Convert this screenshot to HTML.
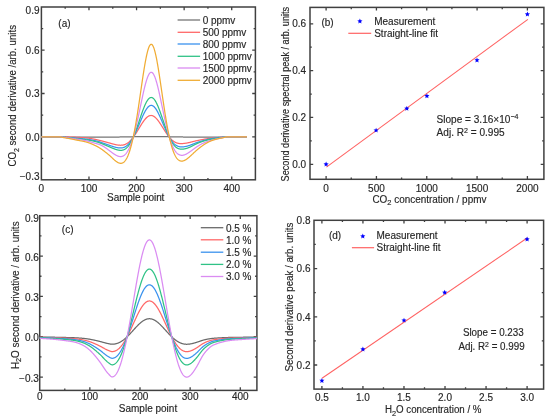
<!DOCTYPE html><html><head><meta charset="utf-8"><style>html,body{margin:0;padding:0;background:#fff;width:550px;height:420px;overflow:hidden}svg{display:block;will-change:transform}</style></head><body><svg width="550" height="420" viewBox="0 0 550 420">
<rect width="550" height="420" fill="#ffffff"/>
<g font-family='"Liberation Sans", sans-serif' fill="#262626" stroke="#262626" stroke-width="0.15">
<rect x="41.4" y="7.0" width="214.00" height="172.80" fill="none" stroke="#404040" stroke-width="1.5"/>
<path d="M88.98,179.8v-3.2M88.98,7.0v3.2M136.56,179.8v-3.2M136.56,7.0v3.2M184.14,179.8v-3.2M184.14,7.0v3.2M231.72,179.8v-3.2M231.72,7.0v3.2M65.19,179.8v-1.8M65.19,7.0v1.8M112.77,179.8v-1.8M112.77,7.0v1.8M160.35,179.8v-1.8M160.35,7.0v1.8M207.93,179.8v-1.8M207.93,7.0v1.8M41.4,136.80h3.2M255.4,136.80h-3.2M41.4,93.51h3.2M255.4,93.51h-3.2M41.4,50.22h3.2M255.4,50.22h-3.2M41.4,158.45h1.8M255.4,158.45h-1.8M41.4,115.16h1.8M255.4,115.16h-1.8M41.4,71.87h1.8M255.4,71.87h-1.8M41.4,28.58h1.8M255.4,28.58h-1.8" stroke="#404040" stroke-width="1.3" fill="none"/>
<text x="41.40" y="191.80" font-size="10" text-anchor="middle" >0</text>
<text x="88.98" y="191.80" font-size="10" text-anchor="middle" >100</text>
<text x="136.56" y="191.80" font-size="10" text-anchor="middle" >200</text>
<text x="184.14" y="191.80" font-size="10" text-anchor="middle" >300</text>
<text x="231.72" y="191.80" font-size="10" text-anchor="middle" >400</text>
<text x="39.50" y="13.60" font-size="10" text-anchor="end" >0.9</text>
<text x="39.50" y="53.90" font-size="10" text-anchor="end" >0.6</text>
<text x="39.50" y="97.20" font-size="10" text-anchor="end" >0.3</text>
<text x="39.50" y="140.60" font-size="10" text-anchor="end" >0.0</text>
<text x="39.50" y="179.80" font-size="10" text-anchor="end" >−0.3</text>
<text x="135.70" y="201.20" font-size="10" text-anchor="middle" letter-spacing="-0.1">Sample point</text>
<path d="M41.40,137.20 L41.64,137.20 L41.88,137.20 L42.11,137.20 L42.35,137.20 L42.59,137.20 L42.83,137.20 L43.07,137.20 L43.31,137.20 L43.54,137.20 L43.78,137.20 L44.02,137.20 L44.26,137.20 L44.50,137.20 L44.73,137.20 L44.97,137.20 L45.21,137.20 L45.45,137.20 L45.69,137.20 L45.93,137.20 L46.16,137.20 L46.40,137.20 L46.64,137.20 L46.88,137.20 L47.12,137.20 L47.35,137.20 L47.59,137.20 L47.83,137.20 L48.07,137.20 L48.31,137.20 L48.55,137.20 L48.78,137.20 L49.02,137.20 L49.26,137.20 L49.50,137.20 L49.74,137.20 L49.97,137.20 L50.21,137.20 L50.45,137.20 L50.69,137.20 L50.93,137.20 L51.17,137.20 L51.40,137.20 L51.64,137.20 L51.88,137.20 L52.12,137.20 L52.36,137.20 L52.59,137.20 L52.83,137.20 L53.07,137.20 L53.31,137.20 L53.55,137.20 L53.79,137.20 L54.02,137.20 L54.26,137.20 L54.50,137.20 L54.74,137.20 L54.98,137.20 L55.21,137.20 L55.45,137.20 L55.69,137.20 L55.93,137.20 L56.17,137.20 L56.41,137.20 L56.64,137.20 L56.88,137.20 L57.12,137.20 L57.36,137.20 L57.60,137.20 L57.83,137.20 L58.07,137.20 L58.31,137.20 L58.55,137.20 L58.79,137.20 L59.02,137.20 L59.26,137.20 L59.50,137.20 L59.74,137.20 L59.98,137.20 L60.22,137.20 L60.45,137.20 L60.69,137.20 L60.93,137.20 L61.17,137.20 L61.41,137.20 L61.64,137.20 L61.88,137.20 L62.12,137.20 L62.36,137.20 L62.60,137.20 L62.84,137.20 L63.07,137.20 L63.31,137.20 L63.55,137.20 L63.79,137.20 L64.03,137.20 L64.26,137.20 L64.50,137.20 L64.74,137.20 L64.98,137.20 L65.22,137.20 L65.46,137.20 L65.69,137.20 L65.93,137.20 L66.17,137.20 L66.41,137.20 L66.65,137.20 L66.88,137.20 L67.12,137.20 L67.36,137.20 L67.60,137.20 L67.84,137.20 L68.08,137.20 L68.31,137.20 L68.55,137.20 L68.79,137.20 L69.03,137.20 L69.27,137.20 L69.50,137.20 L69.74,137.20 L69.98,137.20 L70.22,137.20 L70.46,137.20 L70.70,137.20 L70.93,137.20 L71.17,137.20 L71.41,137.20 L71.65,137.20 L71.89,137.20 L72.12,137.20 L72.36,137.20 L72.60,137.20 L72.84,137.20 L73.08,137.20 L73.32,137.20 L73.55,137.20 L73.79,137.20 L74.03,137.20 L74.27,137.20 L74.51,137.20 L74.74,137.20 L74.98,137.20 L75.22,137.20 L75.46,137.20 L75.70,137.20 L75.94,137.20 L76.17,137.20 L76.41,137.20 L76.65,137.20 L76.89,137.20 L77.13,137.20 L77.36,137.20 L77.60,137.20 L77.84,137.20 L78.08,137.20 L78.32,137.20 L78.56,137.20 L78.79,137.20 L79.03,137.20 L79.27,137.20 L79.51,137.20 L79.75,137.20 L79.98,137.20 L80.22,137.20 L80.46,137.20 L80.70,137.20 L80.94,137.20 L81.18,137.20 L81.41,137.20 L81.65,137.20 L81.89,137.20 L82.13,137.20 L82.37,137.20 L82.60,137.20 L82.84,137.20 L83.08,137.20 L83.32,137.20 L83.56,137.20 L83.80,137.20 L84.03,137.20 L84.27,137.20 L84.51,137.20 L84.75,137.20 L84.99,137.20 L85.22,137.20 L85.46,137.20 L85.70,137.20 L85.94,137.20 L86.18,137.20 L86.42,137.20 L86.65,137.20 L86.89,137.20 L87.13,137.20 L87.37,137.20 L87.61,137.20 L87.84,137.20 L88.08,137.19 L88.32,137.19 L88.56,137.19 L88.80,137.19 L89.04,137.19 L89.27,137.19 L89.51,137.19 L89.75,137.19 L89.99,137.19 L90.23,137.19 L90.46,137.19 L90.70,137.19 L90.94,137.19 L91.18,137.19 L91.42,137.19 L91.66,137.19 L91.89,137.19 L92.13,137.19 L92.37,137.19 L92.61,137.19 L92.85,137.19 L93.08,137.19 L93.32,137.19 L93.56,137.19 L93.80,137.19 L94.04,137.19 L94.27,137.19 L94.51,137.19 L94.75,137.19 L94.99,137.19 L95.23,137.19 L95.47,137.18 L95.70,137.18 L95.94,137.18 L96.18,137.18 L96.42,137.18 L96.66,137.18 L96.89,137.18 L97.13,137.18 L97.37,137.18 L97.61,137.18 L97.85,137.18 L98.09,137.18 L98.32,137.18 L98.56,137.18 L98.80,137.18 L99.04,137.18 L99.28,137.17 L99.51,137.17 L99.75,137.17 L99.99,137.17 L100.23,137.17 L100.47,137.17 L100.71,137.17 L100.94,137.17 L101.18,137.17 L101.42,137.17 L101.66,137.17 L101.90,137.17 L102.13,137.16 L102.37,137.16 L102.61,137.16 L102.85,137.16 L103.09,137.16 L103.33,137.16 L103.56,137.16 L103.80,137.16 L104.04,137.15 L104.28,137.15 L104.52,137.15 L104.75,137.15 L104.99,137.15 L105.23,137.15 L105.47,137.15 L105.71,137.15 L105.95,137.14 L106.18,137.14 L106.42,137.14 L106.66,137.14 L106.90,137.14 L107.14,137.14 L107.37,137.13 L107.61,137.13 L107.85,137.13 L108.09,137.13 L108.33,137.13 L108.57,137.13 L108.80,137.12 L109.04,137.12 L109.28,137.12 L109.52,137.12 L109.76,137.12 L109.99,137.11 L110.23,137.11 L110.47,137.11 L110.71,137.11 L110.95,137.11 L111.19,137.10 L111.42,137.10 L111.66,137.10 L111.90,137.10 L112.14,137.09 L112.38,137.09 L112.61,137.09 L112.85,137.09 L113.09,137.08 L113.33,137.08 L113.57,137.08 L113.81,137.08 L114.04,137.07 L114.28,137.07 L114.52,137.07 L114.76,137.06 L115.00,137.06 L115.23,137.06 L115.47,137.06 L115.71,137.05 L115.95,137.05 L116.19,137.05 L116.43,137.04 L116.66,137.04 L116.90,137.04 L117.14,137.03 L117.38,137.03 L117.62,137.03 L117.85,137.02 L118.09,137.02 L118.33,137.02 L118.57,137.01 L118.81,137.01 L119.05,137.00 L119.28,137.00 L119.52,137.00 L119.76,136.99 L120.00,136.99 L120.24,136.99 L120.47,136.98 L120.71,136.98 L120.95,136.97 L121.19,136.97 L121.43,136.97 L121.67,136.96 L121.90,136.96 L122.14,136.95 L122.38,136.95 L122.62,136.95 L122.86,136.94 L123.09,136.94 L123.33,136.93 L123.57,136.93 L123.81,136.92 L124.05,136.92 L124.29,136.91 L124.52,136.91 L124.76,136.91 L125.00,136.90 L125.24,136.90 L125.48,136.89 L125.71,136.89 L125.95,136.88 L126.19,136.88 L126.43,136.87 L126.67,136.87 L126.91,136.86 L127.14,136.86 L127.38,136.85 L127.62,136.85 L127.86,136.84 L128.10,136.84 L128.33,136.83 L128.57,136.83 L128.81,136.82 L129.05,136.82 L129.29,136.81 L129.52,136.81 L129.76,136.80 L130.00,136.80 L130.24,136.79 L130.48,136.79 L130.72,136.78 L130.95,136.78 L131.19,136.77 L131.43,136.77 L131.67,136.76 L131.91,136.76 L132.14,136.75 L132.38,136.75 L132.62,136.74 L132.86,136.74 L133.10,136.73 L133.34,136.73 L133.57,136.72 L133.81,136.72 L134.05,136.71 L134.29,136.71 L134.53,136.70 L134.76,136.70 L135.00,136.69 L135.24,136.69 L135.48,136.69 L135.72,136.68 L135.96,136.68 L136.19,136.67 L136.43,136.67 L136.67,136.66 L136.91,136.66 L137.15,136.65 L137.38,136.65 L137.62,136.64 L137.86,136.64 L138.10,136.63 L138.34,136.63 L138.58,136.63 L138.81,136.62 L139.05,136.62 L139.29,136.61 L139.53,136.61 L139.77,136.61 L140.00,136.60 L140.24,136.60 L140.48,136.59 L140.72,136.59 L140.96,136.59 L141.20,136.58 L141.43,136.58 L141.67,136.58 L141.91,136.57 L142.15,136.57 L142.39,136.57 L142.62,136.56 L142.86,136.56 L143.10,136.56 L143.34,136.55 L143.58,136.55 L143.82,136.55 L144.05,136.54 L144.29,136.54 L144.53,136.54 L144.77,136.54 L145.01,136.53 L145.24,136.53 L145.48,136.53 L145.72,136.53 L145.96,136.52 L146.20,136.52 L146.44,136.52 L146.67,136.52 L146.91,136.52 L147.15,136.51 L147.39,136.51 L147.63,136.51 L147.86,136.51 L148.10,136.51 L148.34,136.51 L148.58,136.51 L148.82,136.51 L149.06,136.50 L149.29,136.50 L149.53,136.50 L149.77,136.50 L150.01,136.50 L150.25,136.50 L150.48,136.50 L150.72,136.50 L150.96,136.50 L151.20,136.50 L151.44,136.50 L151.68,136.50 L151.91,136.50 L152.15,136.50 L152.39,136.50 L152.63,136.50 L152.87,136.50 L153.10,136.50 L153.34,136.50 L153.58,136.50 L153.82,136.51 L154.06,136.51 L154.30,136.51 L154.53,136.51 L154.77,136.51 L155.01,136.51 L155.25,136.51 L155.49,136.51 L155.72,136.52 L155.96,136.52 L156.20,136.52 L156.44,136.52 L156.68,136.52 L156.92,136.53 L157.15,136.53 L157.39,136.53 L157.63,136.53 L157.87,136.54 L158.11,136.54 L158.34,136.54 L158.58,136.54 L158.82,136.55 L159.06,136.55 L159.30,136.55 L159.54,136.56 L159.77,136.56 L160.01,136.56 L160.25,136.57 L160.49,136.57 L160.73,136.57 L160.96,136.58 L161.20,136.58 L161.44,136.58 L161.68,136.59 L161.92,136.59 L162.16,136.59 L162.39,136.60 L162.63,136.60 L162.87,136.61 L163.11,136.61 L163.35,136.61 L163.58,136.62 L163.82,136.62 L164.06,136.63 L164.30,136.63 L164.54,136.64 L164.77,136.64 L165.01,136.64 L165.25,136.65 L165.49,136.65 L165.73,136.66 L165.97,136.66 L166.20,136.67 L166.44,136.67 L166.68,136.68 L166.92,136.68 L167.16,136.69 L167.39,136.69 L167.63,136.70 L167.87,136.70 L168.11,136.70 L168.35,136.71 L168.59,136.71 L168.82,136.72 L169.06,136.72 L169.30,136.73 L169.54,136.73 L169.78,136.74 L170.01,136.74 L170.25,136.75 L170.49,136.75 L170.73,136.76 L170.97,136.76 L171.21,136.77 L171.44,136.77 L171.68,136.78 L171.92,136.78 L172.16,136.79 L172.40,136.79 L172.63,136.80 L172.87,136.80 L173.11,136.81 L173.35,136.81 L173.59,136.82 L173.83,136.82 L174.06,136.83 L174.30,136.83 L174.54,136.84 L174.78,136.84 L175.02,136.85 L175.25,136.85 L175.49,136.86 L175.73,136.86 L175.97,136.87 L176.21,136.87 L176.45,136.88 L176.68,136.88 L176.92,136.89 L177.16,136.89 L177.40,136.90 L177.64,136.90 L177.87,136.91 L178.11,136.91 L178.35,136.91 L178.59,136.92 L178.83,136.92 L179.07,136.93 L179.30,136.93 L179.54,136.94 L179.78,136.94 L180.02,136.95 L180.26,136.95 L180.49,136.95 L180.73,136.96 L180.97,136.96 L181.21,136.97 L181.45,136.97 L181.69,136.97 L181.92,136.98 L182.16,136.98 L182.40,136.99 L182.64,136.99 L182.88,136.99 L183.11,137.00 L183.35,137.00 L183.59,137.01 L183.83,137.01 L184.07,137.01 L184.31,137.02 L184.54,137.02 L184.78,137.02 L185.02,137.03 L185.26,137.03 L185.50,137.03 L185.73,137.04 L185.97,137.04 L186.21,137.04 L186.45,137.05 L186.69,137.05 L186.93,137.05 L187.16,137.06 L187.40,137.06 L187.64,137.06 L187.88,137.06 L188.12,137.07 L188.35,137.07 L188.59,137.07 L188.83,137.08 L189.07,137.08 L189.31,137.08 L189.55,137.08 L189.78,137.09 L190.02,137.09 L190.26,137.09 L190.50,137.09 L190.74,137.10 L190.97,137.10 L191.21,137.10 L191.45,137.10 L191.69,137.11 L191.93,137.11 L192.17,137.11 L192.40,137.11 L192.64,137.11 L192.88,137.12 L193.12,137.12 L193.36,137.12 L193.59,137.12 L193.83,137.12 L194.07,137.13 L194.31,137.13 L194.55,137.13 L194.79,137.13 L195.02,137.13 L195.26,137.13 L195.50,137.14 L195.74,137.14 L195.98,137.14 L196.21,137.14 L196.45,137.14 L196.69,137.14 L196.93,137.15 L197.17,137.15 L197.41,137.15 L197.64,137.15 L197.88,137.15 L198.12,137.15 L198.36,137.15 L198.60,137.15 L198.83,137.16 L199.07,137.16 L199.31,137.16 L199.55,137.16 L199.79,137.16 L200.02,137.16 L200.26,137.16 L200.50,137.16 L200.74,137.17 L200.98,137.17 L201.22,137.17 L201.45,137.17 L201.69,137.17 L201.93,137.17 L202.17,137.17 L202.41,137.17 L202.64,137.17 L202.88,137.17 L203.12,137.17 L203.36,137.17 L203.60,137.18 L203.84,137.18 L204.07,137.18 L204.31,137.18 L204.55,137.18 L204.79,137.18 L205.03,137.18 L205.26,137.18 L205.50,137.18 L205.74,137.18 L205.98,137.18 L206.22,137.18 L206.46,137.18 L206.69,137.18 L206.93,137.18 L207.17,137.18 L207.41,137.19 L207.65,137.19 L207.88,137.19 L208.12,137.19 L208.36,137.19 L208.60,137.19 L208.84,137.19 L209.08,137.19 L209.31,137.19 L209.55,137.19 L209.79,137.19 L210.03,137.19 L210.27,137.19 L210.50,137.19 L210.74,137.19 L210.98,137.19 L211.22,137.19 L211.46,137.19 L211.70,137.19 L211.93,137.19 L212.17,137.19 L212.41,137.19 L212.65,137.19 L212.89,137.19 L213.12,137.19 L213.36,137.19 L213.60,137.19 L213.84,137.19 L214.08,137.19 L214.32,137.19 L214.55,137.19 L214.79,137.20 L215.03,137.20 L215.27,137.20 L215.51,137.20 L215.74,137.20 L215.98,137.20 L216.22,137.20 L216.46,137.20 L216.70,137.20 L216.94,137.20 L217.17,137.20 L217.41,137.20 L217.65,137.20 L217.89,137.20 L218.13,137.20 L218.36,137.20 L218.60,137.20 L218.84,137.20 L219.08,137.20 L219.32,137.20 L219.56,137.20 L219.79,137.20 L220.03,137.20 L220.27,137.20 L220.51,137.20 L220.75,137.20 L220.98,137.20 L221.22,137.20 L221.46,137.20 L221.70,137.20 L221.94,137.20 L222.18,137.20 L222.41,137.20 L222.65,137.20 L222.89,137.20 L223.13,137.20 L223.37,137.20 L223.60,137.20 L223.84,137.20 L224.08,137.20 L224.32,137.20 L224.56,137.20 L224.80,137.20 L225.03,137.20 L225.27,137.20 L225.51,137.20 L225.75,137.20 L225.99,137.20 L226.22,137.20 L226.46,137.20 L226.70,137.20 L226.94,137.20 L227.18,137.20 L227.42,137.20 L227.65,137.20 L227.89,137.20 L228.13,137.20 L228.37,137.20 L228.61,137.20 L228.84,137.20 L229.08,137.20 L229.32,137.20 L229.56,137.20 L229.80,137.20 L230.04,137.20 L230.27,137.20 L230.51,137.20 L230.75,137.20 L230.99,137.20 L231.23,137.20 L231.46,137.20 L231.70,137.20 L231.94,137.20 L232.18,137.20 L232.42,137.20 L232.66,137.20 L232.89,137.20 L233.13,137.20 L233.37,137.20 L233.61,137.20 L233.85,137.20 L234.08,137.20 L234.32,137.20 L234.56,137.20 L234.80,137.20 L235.04,137.20 L235.27,137.20 L235.51,137.20 L235.75,137.20 L235.99,137.20 L236.23,137.20 L236.47,137.20 L236.70,137.20 L236.94,137.20 L237.18,137.20 L237.42,137.20 L237.66,137.20 L237.89,137.20 L238.13,137.20 L238.37,137.20 L238.61,137.20 L238.85,137.20 L239.09,137.20 L239.32,137.20 L239.56,137.20 L239.80,137.20 L240.04,137.20 L240.28,137.20 L240.51,137.20 L240.75,137.20 L240.99,137.20 L241.23,137.20 L241.47,137.20 L241.71,137.20 L241.94,137.20 L242.18,137.20 L242.42,137.20 L242.66,137.20 L242.90,137.20 L243.13,137.20 L243.37,137.20 L243.61,137.20 L243.85,137.20 L244.09,137.20 L244.33,137.20 L244.56,137.20 L244.80,137.20 L245.04,137.20 L245.28,137.20 L245.52,137.20 L245.75,137.20 L245.99,137.20 L246.23,137.20 L246.47,137.20 L246.71,137.20 L246.95,137.20" fill="none" stroke="#767676" stroke-width="1.25" stroke-linejoin="round"/>
<path d="M41.40,136.80 L41.64,136.80 L41.88,136.80 L42.11,136.80 L42.35,136.80 L42.59,136.80 L42.83,136.80 L43.07,136.80 L43.31,136.80 L43.54,136.80 L43.78,136.80 L44.02,136.80 L44.26,136.80 L44.50,136.80 L44.73,136.80 L44.97,136.80 L45.21,136.80 L45.45,136.80 L45.69,136.80 L45.93,136.80 L46.16,136.80 L46.40,136.80 L46.64,136.80 L46.88,136.80 L47.12,136.80 L47.35,136.80 L47.59,136.80 L47.83,136.80 L48.07,136.80 L48.31,136.80 L48.55,136.80 L48.78,136.80 L49.02,136.80 L49.26,136.80 L49.50,136.80 L49.74,136.80 L49.97,136.80 L50.21,136.80 L50.45,136.80 L50.69,136.80 L50.93,136.80 L51.17,136.80 L51.40,136.80 L51.64,136.80 L51.88,136.80 L52.12,136.80 L52.36,136.80 L52.59,136.80 L52.83,136.80 L53.07,136.80 L53.31,136.80 L53.55,136.80 L53.79,136.80 L54.02,136.80 L54.26,136.80 L54.50,136.80 L54.74,136.80 L54.98,136.80 L55.21,136.80 L55.45,136.80 L55.69,136.80 L55.93,136.80 L56.17,136.80 L56.41,136.80 L56.64,136.80 L56.88,136.80 L57.12,136.80 L57.36,136.80 L57.60,136.80 L57.83,136.80 L58.07,136.80 L58.31,136.80 L58.55,136.80 L58.79,136.80 L59.02,136.80 L59.26,136.80 L59.50,136.80 L59.74,136.80 L59.98,136.80 L60.22,136.81 L60.45,136.81 L60.69,136.81 L60.93,136.81 L61.17,136.82 L61.41,136.82 L61.64,136.82 L61.88,136.83 L62.12,136.83 L62.36,136.83 L62.60,136.84 L62.84,136.84 L63.07,136.85 L63.31,136.85 L63.55,136.86 L63.79,136.86 L64.03,136.86 L64.26,136.87 L64.50,136.87 L64.74,136.88 L64.98,136.88 L65.22,136.89 L65.46,136.90 L65.69,136.90 L65.93,136.91 L66.17,136.91 L66.41,136.92 L66.65,136.92 L66.88,136.93 L67.12,136.94 L67.36,136.94 L67.60,136.95 L67.84,136.96 L68.08,136.96 L68.31,136.97 L68.55,136.98 L68.79,136.99 L69.03,136.99 L69.27,137.00 L69.50,137.01 L69.74,137.02 L69.98,137.02 L70.22,137.03 L70.46,137.04 L70.70,137.05 L70.93,137.06 L71.17,137.07 L71.41,137.07 L71.65,137.08 L71.89,137.09 L72.12,137.10 L72.36,137.11 L72.60,137.12 L72.84,137.13 L73.08,137.14 L73.32,137.15 L73.55,137.16 L73.79,137.17 L74.03,137.18 L74.27,137.19 L74.51,137.20 L74.74,137.21 L74.98,137.22 L75.22,137.23 L75.46,137.24 L75.70,137.25 L75.94,137.26 L76.17,137.27 L76.41,137.28 L76.65,137.30 L76.89,137.31 L77.13,137.32 L77.36,137.33 L77.60,137.34 L77.84,137.36 L78.08,137.37 L78.32,137.38 L78.56,137.39 L78.79,137.41 L79.03,137.42 L79.27,137.43 L79.51,137.45 L79.75,137.46 L79.98,137.47 L80.22,137.49 L80.46,137.50 L80.70,137.51 L80.94,137.53 L81.18,137.54 L81.41,137.56 L81.65,137.57 L81.89,137.59 L82.13,137.60 L82.37,137.62 L82.60,137.63 L82.84,137.65 L83.08,137.66 L83.32,137.68 L83.56,137.70 L83.80,137.71 L84.03,137.73 L84.27,137.75 L84.51,137.76 L84.75,137.78 L84.99,137.80 L85.22,137.82 L85.46,137.84 L85.70,137.86 L85.94,137.88 L86.18,137.90 L86.42,137.92 L86.65,137.95 L86.89,137.97 L87.13,138.00 L87.37,138.03 L87.61,138.06 L87.84,138.09 L88.08,138.12 L88.32,138.15 L88.56,138.18 L88.80,138.21 L89.04,138.25 L89.27,138.28 L89.51,138.31 L89.75,138.35 L89.99,138.39 L90.23,138.42 L90.46,138.46 L90.70,138.50 L90.94,138.54 L91.18,138.58 L91.42,138.62 L91.66,138.67 L91.89,138.71 L92.13,138.75 L92.37,138.79 L92.61,138.84 L92.85,138.88 L93.08,138.93 L93.32,138.98 L93.56,139.02 L93.80,139.07 L94.04,139.12 L94.27,139.17 L94.51,139.22 L94.75,139.27 L94.99,139.32 L95.23,139.37 L95.47,139.42 L95.70,139.47 L95.94,139.52 L96.18,139.58 L96.42,139.63 L96.66,139.68 L96.89,139.74 L97.13,139.79 L97.37,139.85 L97.61,139.90 L97.85,139.96 L98.09,140.02 L98.32,140.07 L98.56,140.13 L98.80,140.19 L99.04,140.25 L99.28,140.30 L99.51,140.36 L99.75,140.42 L99.99,140.48 L100.23,140.54 L100.47,140.60 L100.71,140.66 L100.94,140.72 L101.18,140.78 L101.42,140.84 L101.66,140.90 L101.90,140.96 L102.13,141.02 L102.37,141.09 L102.61,141.15 L102.85,141.21 L103.09,141.27 L103.33,141.33 L103.56,141.39 L103.80,141.46 L104.04,141.52 L104.28,141.58 L104.52,141.64 L104.75,141.71 L104.99,141.77 L105.23,141.83 L105.47,141.90 L105.71,141.96 L105.95,142.02 L106.18,142.09 L106.42,142.15 L106.66,142.22 L106.90,142.28 L107.14,142.35 L107.37,142.41 L107.61,142.48 L107.85,142.55 L108.09,142.61 L108.33,142.68 L108.57,142.74 L108.80,142.81 L109.04,142.88 L109.28,142.94 L109.52,143.01 L109.76,143.08 L109.99,143.15 L110.23,143.21 L110.47,143.28 L110.71,143.35 L110.95,143.41 L111.19,143.48 L111.42,143.55 L111.66,143.61 L111.90,143.68 L112.14,143.75 L112.38,143.81 L112.61,143.88 L112.85,143.94 L113.09,144.00 L113.33,144.07 L113.57,144.13 L113.81,144.19 L114.04,144.25 L114.28,144.31 L114.52,144.37 L114.76,144.43 L115.00,144.48 L115.23,144.54 L115.47,144.59 L115.71,144.65 L115.95,144.70 L116.19,144.75 L116.43,144.79 L116.66,144.84 L116.90,144.88 L117.14,144.93 L117.38,144.97 L117.62,145.00 L117.85,145.04 L118.09,145.07 L118.33,145.10 L118.57,145.13 L118.81,145.16 L119.05,145.18 L119.28,145.20 L119.52,145.22 L119.76,145.23 L120.00,145.24 L120.24,145.25 L120.47,145.25 L120.71,145.25 L120.95,145.24 L121.19,145.24 L121.43,145.22 L121.67,145.21 L121.90,145.19 L122.14,145.16 L122.38,145.13 L122.62,145.10 L122.86,145.06 L123.09,145.02 L123.33,144.97 L123.57,144.92 L123.81,144.86 L124.05,144.79 L124.29,144.72 L124.52,144.64 L124.76,144.56 L125.00,144.47 L125.24,144.37 L125.48,144.27 L125.71,144.16 L125.95,144.04 L126.19,143.92 L126.43,143.78 L126.67,143.65 L126.91,143.50 L127.14,143.35 L127.38,143.20 L127.62,143.03 L127.86,142.86 L128.10,142.68 L128.33,142.50 L128.57,142.31 L128.81,142.11 L129.05,141.90 L129.29,141.69 L129.52,141.47 L129.76,141.25 L130.00,141.01 L130.24,140.77 L130.48,140.53 L130.72,140.28 L130.95,140.02 L131.19,139.76 L131.43,139.49 L131.67,139.21 L131.91,138.93 L132.14,138.64 L132.38,138.35 L132.62,138.05 L132.86,137.74 L133.10,137.43 L133.34,137.12 L133.57,136.80 L133.81,136.47 L134.05,136.14 L134.29,135.81 L134.53,135.46 L134.76,135.12 L135.00,134.77 L135.24,134.41 L135.48,134.05 L135.72,133.69 L135.96,133.32 L136.19,132.95 L136.43,132.57 L136.67,132.19 L136.91,131.81 L137.15,131.43 L137.38,131.04 L137.62,130.65 L137.86,130.26 L138.10,129.87 L138.34,129.48 L138.58,129.08 L138.81,128.69 L139.05,128.29 L139.29,127.90 L139.53,127.50 L139.77,127.11 L140.00,126.72 L140.24,126.32 L140.48,125.93 L140.72,125.55 L140.96,125.16 L141.20,124.78 L141.43,124.40 L141.67,124.02 L141.91,123.65 L142.15,123.28 L142.39,122.92 L142.62,122.56 L142.86,122.21 L143.10,121.86 L143.34,121.52 L143.58,121.19 L143.82,120.86 L144.05,120.54 L144.29,120.22 L144.53,119.91 L144.77,119.62 L145.01,119.33 L145.24,119.04 L145.48,118.77 L145.72,118.51 L145.96,118.25 L146.20,118.01 L146.44,117.77 L146.67,117.55 L146.91,117.34 L147.15,117.13 L147.39,116.94 L147.63,116.76 L147.86,116.59 L148.10,116.43 L148.34,116.29 L148.58,116.15 L148.82,116.03 L149.06,115.92 L149.29,115.82 L149.53,115.74 L149.77,115.66 L150.01,115.60 L150.25,115.56 L150.48,115.52 L150.72,115.50 L150.96,115.49 L151.20,115.49 L151.44,115.50 L151.68,115.53 L151.91,115.57 L152.15,115.62 L152.39,115.69 L152.63,115.77 L152.87,115.86 L153.10,115.96 L153.34,116.07 L153.58,116.20 L153.82,116.34 L154.06,116.49 L154.30,116.65 L154.53,116.82 L154.77,117.01 L155.01,117.20 L155.25,117.41 L155.49,117.62 L155.72,117.85 L155.96,118.08 L156.20,118.33 L156.44,118.58 L156.68,118.84 L156.92,119.12 L157.15,119.40 L157.39,119.68 L157.63,119.98 L157.87,120.28 L158.11,120.59 L158.34,120.91 L158.58,121.23 L158.82,121.56 L159.06,121.90 L159.30,122.24 L159.54,122.59 L159.77,122.94 L160.01,123.29 L160.25,123.65 L160.49,124.01 L160.73,124.38 L160.96,124.75 L161.20,125.12 L161.44,125.49 L161.68,125.87 L161.92,126.24 L162.16,126.62 L162.39,127.00 L162.63,127.38 L162.87,127.76 L163.11,128.15 L163.35,128.53 L163.58,128.91 L163.82,129.28 L164.06,129.66 L164.30,130.04 L164.54,130.41 L164.77,130.79 L165.01,131.16 L165.25,131.52 L165.49,131.89 L165.73,132.25 L165.97,132.61 L166.20,132.97 L166.44,133.32 L166.68,133.66 L166.92,134.01 L167.16,134.35 L167.39,134.68 L167.63,135.01 L167.87,135.34 L168.11,135.66 L168.35,135.97 L168.59,136.28 L168.82,136.59 L169.06,136.89 L169.30,137.18 L169.54,137.47 L169.78,137.75 L170.01,138.02 L170.25,138.29 L170.49,138.55 L170.73,138.80 L170.97,139.05 L171.21,139.29 L171.44,139.52 L171.68,139.74 L171.92,139.96 L172.16,140.17 L172.40,140.38 L172.63,140.57 L172.87,140.76 L173.11,140.95 L173.35,141.12 L173.59,141.29 L173.83,141.45 L174.06,141.61 L174.30,141.76 L174.54,141.90 L174.78,142.04 L175.02,142.17 L175.25,142.29 L175.49,142.41 L175.73,142.52 L175.97,142.62 L176.21,142.72 L176.45,142.81 L176.68,142.90 L176.92,142.98 L177.16,143.06 L177.40,143.13 L177.64,143.19 L177.87,143.25 L178.11,143.30 L178.35,143.35 L178.59,143.40 L178.83,143.44 L179.07,143.47 L179.30,143.50 L179.54,143.53 L179.78,143.55 L180.02,143.57 L180.26,143.58 L180.49,143.59 L180.73,143.60 L180.97,143.60 L181.21,143.60 L181.45,143.60 L181.69,143.59 L181.92,143.59 L182.16,143.58 L182.40,143.57 L182.64,143.55 L182.88,143.54 L183.11,143.52 L183.35,143.50 L183.59,143.48 L183.83,143.46 L184.07,143.43 L184.31,143.41 L184.54,143.38 L184.78,143.35 L185.02,143.32 L185.26,143.28 L185.50,143.25 L185.73,143.21 L185.97,143.18 L186.21,143.14 L186.45,143.10 L186.69,143.06 L186.93,143.01 L187.16,142.97 L187.40,142.92 L187.64,142.88 L187.88,142.83 L188.12,142.78 L188.35,142.73 L188.59,142.68 L188.83,142.63 L189.07,142.58 L189.31,142.52 L189.55,142.47 L189.78,142.41 L190.02,142.35 L190.26,142.29 L190.50,142.23 L190.74,142.17 L190.97,142.11 L191.21,142.05 L191.45,141.99 L191.69,141.92 L191.93,141.86 L192.17,141.80 L192.40,141.73 L192.64,141.67 L192.88,141.61 L193.12,141.55 L193.36,141.49 L193.59,141.43 L193.83,141.37 L194.07,141.31 L194.31,141.25 L194.55,141.20 L194.79,141.14 L195.02,141.08 L195.26,141.03 L195.50,140.97 L195.74,140.92 L195.98,140.86 L196.21,140.81 L196.45,140.76 L196.69,140.70 L196.93,140.65 L197.17,140.60 L197.41,140.55 L197.64,140.50 L197.88,140.45 L198.12,140.40 L198.36,140.35 L198.60,140.30 L198.83,140.26 L199.07,140.21 L199.31,140.16 L199.55,140.12 L199.79,140.07 L200.02,140.02 L200.26,139.98 L200.50,139.93 L200.74,139.89 L200.98,139.84 L201.22,139.80 L201.45,139.76 L201.69,139.71 L201.93,139.67 L202.17,139.62 L202.41,139.58 L202.64,139.54 L202.88,139.49 L203.12,139.45 L203.36,139.41 L203.60,139.36 L203.84,139.32 L204.07,139.28 L204.31,139.23 L204.55,139.19 L204.79,139.15 L205.03,139.11 L205.26,139.06 L205.50,139.02 L205.74,138.98 L205.98,138.94 L206.22,138.90 L206.46,138.86 L206.69,138.82 L206.93,138.78 L207.17,138.74 L207.41,138.71 L207.65,138.67 L207.88,138.63 L208.12,138.59 L208.36,138.56 L208.60,138.52 L208.84,138.49 L209.08,138.45 L209.31,138.42 L209.55,138.39 L209.79,138.35 L210.03,138.32 L210.27,138.29 L210.50,138.26 L210.74,138.23 L210.98,138.20 L211.22,138.17 L211.46,138.15 L211.70,138.12 L211.93,138.09 L212.17,138.07 L212.41,138.04 L212.65,138.01 L212.89,137.99 L213.12,137.96 L213.36,137.94 L213.60,137.91 L213.84,137.89 L214.08,137.87 L214.32,137.84 L214.55,137.82 L214.79,137.80 L215.03,137.77 L215.27,137.75 L215.51,137.73 L215.74,137.71 L215.98,137.68 L216.22,137.66 L216.46,137.64 L216.70,137.62 L216.94,137.60 L217.17,137.58 L217.41,137.56 L217.65,137.54 L217.89,137.51 L218.13,137.49 L218.36,137.47 L218.60,137.45 L218.84,137.43 L219.08,137.41 L219.32,137.39 L219.56,137.38 L219.79,137.36 L220.03,137.34 L220.27,137.32 L220.51,137.30 L220.75,137.28 L220.98,137.26 L221.22,137.24 L221.46,137.22 L221.70,137.20 L221.94,137.18 L222.18,137.17 L222.41,137.15 L222.65,137.13 L222.89,137.11 L223.13,137.09 L223.37,137.07 L223.60,137.06 L223.84,137.04 L224.08,137.02 L224.32,137.00 L224.56,136.98 L224.80,136.96 L225.03,136.95 L225.27,136.93 L225.51,136.91 L225.75,136.89 L225.99,136.87 L226.22,136.86 L226.46,136.84 L226.70,136.82 L226.94,136.80 L227.18,136.80 L227.42,136.80 L227.65,136.80 L227.89,136.80 L228.13,136.80 L228.37,136.80 L228.61,136.80 L228.84,136.80 L229.08,136.80 L229.32,136.80 L229.56,136.80 L229.80,136.80 L230.04,136.80 L230.27,136.80 L230.51,136.80 L230.75,136.80 L230.99,136.80 L231.23,136.80 L231.46,136.80 L231.70,136.80 L231.94,136.80 L232.18,136.80 L232.42,136.80 L232.66,136.80 L232.89,136.80 L233.13,136.80 L233.37,136.80 L233.61,136.80 L233.85,136.80 L234.08,136.80 L234.32,136.80 L234.56,136.80 L234.80,136.80 L235.04,136.80 L235.27,136.80 L235.51,136.80 L235.75,136.80 L235.99,136.80 L236.23,136.80 L236.47,136.80 L236.70,136.80 L236.94,136.80 L237.18,136.80 L237.42,136.80 L237.66,136.80 L237.89,136.80 L238.13,136.80 L238.37,136.80 L238.61,136.80 L238.85,136.80 L239.09,136.80 L239.32,136.80 L239.56,136.80 L239.80,136.80 L240.04,136.80 L240.28,136.80 L240.51,136.80 L240.75,136.80 L240.99,136.80 L241.23,136.80 L241.47,136.80 L241.71,136.80 L241.94,136.80 L242.18,136.80 L242.42,136.80 L242.66,136.80 L242.90,136.80 L243.13,136.80 L243.37,136.80 L243.61,136.80 L243.85,136.80 L244.09,136.80 L244.33,136.80 L244.56,136.80 L244.80,136.80 L245.04,136.80 L245.28,136.80 L245.52,136.80 L245.75,136.80 L245.99,136.80 L246.23,136.80 L246.47,136.80 L246.71,136.80 L246.95,136.80" fill="none" stroke="#ff6868" stroke-width="1.25" stroke-linejoin="round"/>
<path d="M41.40,136.80 L41.64,136.80 L41.88,136.80 L42.11,136.80 L42.35,136.80 L42.59,136.80 L42.83,136.80 L43.07,136.80 L43.31,136.80 L43.54,136.80 L43.78,136.80 L44.02,136.80 L44.26,136.80 L44.50,136.80 L44.73,136.80 L44.97,136.80 L45.21,136.80 L45.45,136.80 L45.69,136.80 L45.93,136.80 L46.16,136.80 L46.40,136.80 L46.64,136.80 L46.88,136.80 L47.12,136.80 L47.35,136.80 L47.59,136.80 L47.83,136.80 L48.07,136.80 L48.31,136.80 L48.55,136.80 L48.78,136.80 L49.02,136.80 L49.26,136.80 L49.50,136.80 L49.74,136.80 L49.97,136.80 L50.21,136.80 L50.45,136.80 L50.69,136.80 L50.93,136.80 L51.17,136.80 L51.40,136.80 L51.64,136.80 L51.88,136.80 L52.12,136.80 L52.36,136.80 L52.59,136.80 L52.83,136.80 L53.07,136.80 L53.31,136.80 L53.55,136.80 L53.79,136.80 L54.02,136.80 L54.26,136.80 L54.50,136.80 L54.74,136.80 L54.98,136.80 L55.21,136.80 L55.45,136.80 L55.69,136.80 L55.93,136.80 L56.17,136.80 L56.41,136.80 L56.64,136.80 L56.88,136.80 L57.12,136.80 L57.36,136.80 L57.60,136.80 L57.83,136.80 L58.07,136.80 L58.31,136.80 L58.55,136.80 L58.79,136.80 L59.02,136.80 L59.26,136.80 L59.50,136.80 L59.74,136.82 L59.98,136.84 L60.22,136.86 L60.45,136.88 L60.69,136.90 L60.93,136.92 L61.17,136.94 L61.41,136.95 L61.64,136.97 L61.88,136.99 L62.12,137.01 L62.36,137.03 L62.60,137.05 L62.84,137.07 L63.07,137.09 L63.31,137.11 L63.55,137.13 L63.79,137.14 L64.03,137.16 L64.26,137.18 L64.50,137.20 L64.74,137.22 L64.98,137.24 L65.22,137.26 L65.46,137.28 L65.69,137.30 L65.93,137.32 L66.17,137.33 L66.41,137.35 L66.65,137.37 L66.88,137.39 L67.12,137.41 L67.36,137.43 L67.60,137.45 L67.84,137.47 L68.08,137.49 L68.31,137.51 L68.55,137.52 L68.79,137.54 L69.03,137.56 L69.27,137.58 L69.50,137.60 L69.74,137.62 L69.98,137.64 L70.22,137.66 L70.46,137.68 L70.70,137.70 L70.93,137.72 L71.17,137.73 L71.41,137.75 L71.65,137.77 L71.89,137.79 L72.12,137.81 L72.36,137.83 L72.60,137.85 L72.84,137.87 L73.08,137.89 L73.32,137.91 L73.55,137.93 L73.79,137.95 L74.03,137.97 L74.27,137.99 L74.51,138.01 L74.74,138.03 L74.98,138.05 L75.22,138.07 L75.46,138.09 L75.70,138.11 L75.94,138.13 L76.17,138.15 L76.41,138.17 L76.65,138.19 L76.89,138.21 L77.13,138.23 L77.36,138.25 L77.60,138.27 L77.84,138.29 L78.08,138.31 L78.32,138.34 L78.56,138.36 L78.79,138.38 L79.03,138.40 L79.27,138.42 L79.51,138.44 L79.75,138.47 L79.98,138.49 L80.22,138.51 L80.46,138.53 L80.70,138.56 L80.94,138.58 L81.18,138.60 L81.41,138.62 L81.65,138.65 L81.89,138.67 L82.13,138.69 L82.37,138.72 L82.60,138.74 L82.84,138.77 L83.08,138.79 L83.32,138.82 L83.56,138.84 L83.80,138.87 L84.03,138.89 L84.27,138.92 L84.51,138.95 L84.75,138.97 L84.99,139.00 L85.22,139.03 L85.46,139.05 L85.70,139.08 L85.94,139.11 L86.18,139.14 L86.42,139.17 L86.65,139.20 L86.89,139.23 L87.13,139.26 L87.37,139.30 L87.61,139.33 L87.84,139.36 L88.08,139.40 L88.32,139.43 L88.56,139.46 L88.80,139.50 L89.04,139.54 L89.27,139.57 L89.51,139.61 L89.75,139.65 L89.99,139.69 L90.23,139.73 L90.46,139.77 L90.70,139.81 L90.94,139.85 L91.18,139.89 L91.42,139.93 L91.66,139.98 L91.89,140.02 L92.13,140.07 L92.37,140.11 L92.61,140.16 L92.85,140.21 L93.08,140.25 L93.32,140.30 L93.56,140.35 L93.80,140.40 L94.04,140.45 L94.27,140.50 L94.51,140.56 L94.75,140.61 L94.99,140.67 L95.23,140.72 L95.47,140.78 L95.70,140.83 L95.94,140.89 L96.18,140.95 L96.42,141.01 L96.66,141.07 L96.89,141.13 L97.13,141.19 L97.37,141.26 L97.61,141.32 L97.85,141.38 L98.09,141.45 L98.32,141.52 L98.56,141.59 L98.80,141.65 L99.04,141.72 L99.28,141.79 L99.51,141.87 L99.75,141.94 L99.99,142.01 L100.23,142.09 L100.47,142.16 L100.71,142.24 L100.94,142.32 L101.18,142.40 L101.42,142.48 L101.66,142.56 L101.90,142.64 L102.13,142.72 L102.37,142.80 L102.61,142.89 L102.85,142.97 L103.09,143.06 L103.33,143.15 L103.56,143.23 L103.80,143.32 L104.04,143.41 L104.28,143.49 L104.52,143.58 L104.75,143.66 L104.99,143.75 L105.23,143.84 L105.47,143.92 L105.71,144.01 L105.95,144.09 L106.18,144.18 L106.42,144.26 L106.66,144.35 L106.90,144.43 L107.14,144.52 L107.37,144.60 L107.61,144.69 L107.85,144.77 L108.09,144.86 L108.33,144.94 L108.57,145.03 L108.80,145.11 L109.04,145.20 L109.28,145.28 L109.52,145.37 L109.76,145.45 L109.99,145.53 L110.23,145.62 L110.47,145.70 L110.71,145.78 L110.95,145.86 L111.19,145.95 L111.42,146.03 L111.66,146.11 L111.90,146.19 L112.14,146.27 L112.38,146.34 L112.61,146.42 L112.85,146.50 L113.09,146.58 L113.33,146.65 L113.57,146.72 L113.81,146.80 L114.04,146.87 L114.28,146.94 L114.52,147.01 L114.76,147.07 L115.00,147.14 L115.23,147.20 L115.47,147.26 L115.71,147.33 L115.95,147.38 L116.19,147.44 L116.43,147.49 L116.66,147.55 L116.90,147.59 L117.14,147.64 L117.38,147.68 L117.62,147.73 L117.85,147.76 L118.09,147.80 L118.33,147.83 L118.57,147.86 L118.81,147.89 L119.05,147.91 L119.28,147.93 L119.52,147.94 L119.76,147.95 L120.00,147.96 L120.24,147.96 L120.47,147.96 L120.71,147.96 L120.95,147.95 L121.19,147.93 L121.43,147.91 L121.67,147.89 L121.90,147.86 L122.14,147.83 L122.38,147.79 L122.62,147.74 L122.86,147.69 L123.09,147.63 L123.33,147.56 L123.57,147.49 L123.81,147.40 L124.05,147.31 L124.29,147.22 L124.52,147.11 L124.76,147.00 L125.00,146.88 L125.24,146.75 L125.48,146.61 L125.71,146.47 L125.95,146.31 L126.19,146.15 L126.43,145.98 L126.67,145.80 L126.91,145.61 L127.14,145.41 L127.38,145.21 L127.62,144.99 L127.86,144.77 L128.10,144.53 L128.33,144.29 L128.57,144.04 L128.81,143.78 L129.05,143.50 L129.29,143.22 L129.52,142.93 L129.76,142.63 L130.00,142.33 L130.24,142.01 L130.48,141.68 L130.72,141.34 L130.95,141.00 L131.19,140.64 L131.43,140.28 L131.67,139.91 L131.91,139.53 L132.14,139.13 L132.38,138.73 L132.62,138.33 L132.86,137.91 L133.10,137.49 L133.34,137.05 L133.57,136.61 L133.81,136.16 L134.05,135.70 L134.29,135.24 L134.53,134.76 L134.76,134.28 L135.00,133.80 L135.24,133.30 L135.48,132.80 L135.72,132.29 L135.96,131.78 L136.19,131.26 L136.43,130.73 L136.67,130.20 L136.91,129.66 L137.15,129.12 L137.38,128.58 L137.62,128.03 L137.86,127.48 L138.10,126.92 L138.34,126.36 L138.58,125.80 L138.81,125.24 L139.05,124.67 L139.29,124.11 L139.53,123.54 L139.77,122.97 L140.00,122.41 L140.24,121.84 L140.48,121.28 L140.72,120.72 L140.96,120.16 L141.20,119.60 L141.43,119.05 L141.67,118.50 L141.91,117.95 L142.15,117.41 L142.39,116.87 L142.62,116.34 L142.86,115.82 L143.10,115.30 L143.34,114.80 L143.58,114.30 L143.82,113.80 L144.05,113.32 L144.29,112.85 L144.53,112.39 L144.77,111.94 L145.01,111.49 L145.24,111.07 L145.48,110.65 L145.72,110.25 L145.96,109.86 L146.20,109.48 L146.44,109.12 L146.67,108.77 L146.91,108.44 L147.15,108.12 L147.39,107.82 L147.63,107.53 L147.86,107.27 L148.10,107.01 L148.34,106.78 L148.58,106.56 L148.82,106.36 L149.06,106.18 L149.29,106.02 L149.53,105.88 L149.77,105.75 L150.01,105.64 L150.25,105.56 L150.48,105.49 L150.72,105.44 L150.96,105.41 L151.20,105.39 L151.44,105.40 L151.68,105.43 L151.91,105.48 L152.15,105.54 L152.39,105.63 L152.63,105.73 L152.87,105.85 L153.10,106.00 L153.34,106.16 L153.58,106.33 L153.82,106.53 L154.06,106.75 L154.30,106.98 L154.53,107.23 L154.77,107.49 L155.01,107.78 L155.25,108.07 L155.49,108.39 L155.72,108.72 L155.96,109.06 L156.20,109.42 L156.44,109.80 L156.68,110.19 L156.92,110.59 L157.15,111.00 L157.39,111.42 L157.63,111.86 L157.87,112.31 L158.11,112.77 L158.34,113.24 L158.58,113.72 L158.82,114.20 L159.06,114.70 L159.30,115.20 L159.54,115.72 L159.77,116.23 L160.01,116.76 L160.25,117.29 L160.49,117.83 L160.73,118.37 L160.96,118.91 L161.20,119.46 L161.44,120.01 L161.68,120.57 L161.92,121.12 L162.16,121.68 L162.39,122.24 L162.63,122.80 L162.87,123.36 L163.11,123.92 L163.35,124.48 L163.58,125.04 L163.82,125.60 L164.06,126.15 L164.30,126.70 L164.54,127.25 L164.77,127.80 L165.01,128.34 L165.25,128.88 L165.49,129.41 L165.73,129.94 L165.97,130.47 L166.20,130.99 L166.44,131.50 L166.68,132.01 L166.92,132.51 L167.16,133.00 L167.39,133.49 L167.63,133.97 L167.87,134.44 L168.11,134.91 L168.35,135.37 L168.59,135.82 L168.82,136.26 L169.06,136.70 L169.30,137.12 L169.54,137.54 L169.78,137.95 L170.01,138.35 L170.25,138.74 L170.49,139.12 L170.73,139.49 L170.97,139.85 L171.21,140.20 L171.44,140.55 L171.68,140.88 L171.92,141.20 L172.16,141.51 L172.40,141.82 L172.63,142.11 L172.87,142.39 L173.11,142.67 L173.35,142.93 L173.59,143.19 L173.83,143.43 L174.06,143.67 L174.30,143.90 L174.54,144.11 L174.78,144.32 L175.02,144.52 L175.25,144.71 L175.49,144.89 L175.73,145.07 L175.97,145.23 L176.21,145.38 L176.45,145.53 L176.68,145.67 L176.92,145.80 L177.16,145.92 L177.40,146.03 L177.64,146.14 L177.87,146.24 L178.11,146.33 L178.35,146.41 L178.59,146.49 L178.83,146.56 L179.07,146.62 L179.30,146.68 L179.54,146.73 L179.78,146.77 L180.02,146.81 L180.26,146.84 L180.49,146.87 L180.73,146.88 L180.97,146.90 L181.21,146.91 L181.45,146.91 L181.69,146.92 L181.92,146.91 L182.16,146.91 L182.40,146.90 L182.64,146.89 L182.88,146.87 L183.11,146.85 L183.35,146.83 L183.59,146.81 L183.83,146.78 L184.07,146.75 L184.31,146.72 L184.54,146.68 L184.78,146.64 L185.02,146.60 L185.26,146.56 L185.50,146.51 L185.73,146.46 L185.97,146.41 L186.21,146.36 L186.45,146.30 L186.69,146.24 L186.93,146.18 L187.16,146.12 L187.40,146.06 L187.64,145.99 L187.88,145.92 L188.12,145.85 L188.35,145.78 L188.59,145.70 L188.83,145.63 L189.07,145.55 L189.31,145.47 L189.55,145.39 L189.78,145.31 L190.02,145.22 L190.26,145.14 L190.50,145.05 L190.74,144.96 L190.97,144.87 L191.21,144.77 L191.45,144.68 L191.69,144.59 L191.93,144.49 L192.17,144.40 L192.40,144.30 L192.64,144.21 L192.88,144.11 L193.12,144.02 L193.36,143.93 L193.59,143.83 L193.83,143.74 L194.07,143.65 L194.31,143.56 L194.55,143.47 L194.79,143.38 L195.02,143.29 L195.26,143.20 L195.50,143.11 L195.74,143.03 L195.98,142.94 L196.21,142.85 L196.45,142.77 L196.69,142.68 L196.93,142.60 L197.17,142.52 L197.41,142.43 L197.64,142.35 L197.88,142.27 L198.12,142.19 L198.36,142.11 L198.60,142.04 L198.83,141.96 L199.07,141.88 L199.31,141.80 L199.55,141.73 L199.79,141.65 L200.02,141.58 L200.26,141.51 L200.50,141.43 L200.74,141.36 L200.98,141.29 L201.22,141.22 L201.45,141.15 L201.69,141.08 L201.93,141.01 L202.17,140.94 L202.41,140.87 L202.64,140.80 L202.88,140.73 L203.12,140.66 L203.36,140.59 L203.60,140.53 L203.84,140.46 L204.07,140.39 L204.31,140.32 L204.55,140.26 L204.79,140.19 L205.03,140.12 L205.26,140.06 L205.50,139.99 L205.74,139.93 L205.98,139.86 L206.22,139.80 L206.46,139.73 L206.69,139.67 L206.93,139.61 L207.17,139.55 L207.41,139.49 L207.65,139.43 L207.88,139.37 L208.12,139.31 L208.36,139.26 L208.60,139.20 L208.84,139.15 L209.08,139.09 L209.31,139.04 L209.55,138.99 L209.79,138.94 L210.03,138.89 L210.27,138.84 L210.50,138.79 L210.74,138.75 L210.98,138.70 L211.22,138.66 L211.46,138.62 L211.70,138.58 L211.93,138.54 L212.17,138.50 L212.41,138.46 L212.65,138.42 L212.89,138.38 L213.12,138.34 L213.36,138.30 L213.60,138.27 L213.84,138.23 L214.08,138.19 L214.32,138.16 L214.55,138.13 L214.79,138.09 L215.03,138.06 L215.27,138.03 L215.51,137.99 L215.74,137.96 L215.98,137.93 L216.22,137.90 L216.46,137.87 L216.70,137.84 L216.94,137.81 L217.17,137.78 L217.41,137.75 L217.65,137.72 L217.89,137.69 L218.13,137.66 L218.36,137.64 L218.60,137.61 L218.84,137.58 L219.08,137.55 L219.32,137.53 L219.56,137.50 L219.79,137.48 L220.03,137.45 L220.27,137.43 L220.51,137.40 L220.75,137.38 L220.98,137.35 L221.22,137.33 L221.46,137.30 L221.70,137.28 L221.94,137.26 L222.18,137.23 L222.41,137.21 L222.65,137.19 L222.89,137.16 L223.13,137.14 L223.37,137.12 L223.60,137.10 L223.84,137.07 L224.08,137.05 L224.32,137.03 L224.56,137.01 L224.80,136.99 L225.03,136.97 L225.27,136.95 L225.51,136.92 L225.75,136.90 L225.99,136.88 L226.22,136.86 L226.46,136.84 L226.70,136.82 L226.94,136.80 L227.18,136.80 L227.42,136.80 L227.65,136.80 L227.89,136.80 L228.13,136.80 L228.37,136.80 L228.61,136.80 L228.84,136.80 L229.08,136.80 L229.32,136.80 L229.56,136.80 L229.80,136.80 L230.04,136.80 L230.27,136.80 L230.51,136.80 L230.75,136.80 L230.99,136.80 L231.23,136.80 L231.46,136.80 L231.70,136.80 L231.94,136.80 L232.18,136.80 L232.42,136.80 L232.66,136.80 L232.89,136.80 L233.13,136.80 L233.37,136.80 L233.61,136.80 L233.85,136.80 L234.08,136.80 L234.32,136.80 L234.56,136.80 L234.80,136.80 L235.04,136.80 L235.27,136.80 L235.51,136.80 L235.75,136.80 L235.99,136.80 L236.23,136.80 L236.47,136.80 L236.70,136.80 L236.94,136.80 L237.18,136.80 L237.42,136.80 L237.66,136.80 L237.89,136.80 L238.13,136.80 L238.37,136.80 L238.61,136.80 L238.85,136.80 L239.09,136.80 L239.32,136.80 L239.56,136.80 L239.80,136.80 L240.04,136.80 L240.28,136.80 L240.51,136.80 L240.75,136.80 L240.99,136.80 L241.23,136.80 L241.47,136.80 L241.71,136.80 L241.94,136.80 L242.18,136.80 L242.42,136.80 L242.66,136.80 L242.90,136.80 L243.13,136.80 L243.37,136.80 L243.61,136.80 L243.85,136.80 L244.09,136.80 L244.33,136.80 L244.56,136.80 L244.80,136.80 L245.04,136.80 L245.28,136.80 L245.52,136.80 L245.75,136.80 L245.99,136.80 L246.23,136.80 L246.47,136.80 L246.71,136.80 L246.95,136.80" fill="none" stroke="#3a92ee" stroke-width="1.25" stroke-linejoin="round"/>
<path d="M41.40,136.80 L41.64,136.80 L41.88,136.80 L42.11,136.80 L42.35,136.80 L42.59,136.80 L42.83,136.80 L43.07,136.80 L43.31,136.80 L43.54,136.80 L43.78,136.80 L44.02,136.80 L44.26,136.80 L44.50,136.80 L44.73,136.80 L44.97,136.80 L45.21,136.80 L45.45,136.80 L45.69,136.80 L45.93,136.80 L46.16,136.80 L46.40,136.80 L46.64,136.80 L46.88,136.80 L47.12,136.80 L47.35,136.80 L47.59,136.80 L47.83,136.80 L48.07,136.80 L48.31,136.80 L48.55,136.80 L48.78,136.80 L49.02,136.80 L49.26,136.80 L49.50,136.80 L49.74,136.80 L49.97,136.80 L50.21,136.80 L50.45,136.80 L50.69,136.80 L50.93,136.80 L51.17,136.80 L51.40,136.80 L51.64,136.80 L51.88,136.80 L52.12,136.80 L52.36,136.80 L52.59,136.80 L52.83,136.80 L53.07,136.80 L53.31,136.80 L53.55,136.80 L53.79,136.80 L54.02,136.80 L54.26,136.80 L54.50,136.80 L54.74,136.80 L54.98,136.80 L55.21,136.80 L55.45,136.80 L55.69,136.80 L55.93,136.80 L56.17,136.80 L56.41,136.80 L56.64,136.80 L56.88,136.80 L57.12,136.80 L57.36,136.80 L57.60,136.80 L57.83,136.80 L58.07,136.80 L58.31,136.80 L58.55,136.80 L58.79,136.80 L59.02,136.80 L59.26,136.80 L59.50,136.80 L59.74,136.83 L59.98,136.85 L60.22,136.88 L60.45,136.91 L60.69,136.93 L60.93,136.96 L61.17,136.98 L61.41,137.01 L61.64,137.03 L61.88,137.06 L62.12,137.08 L62.36,137.11 L62.60,137.14 L62.84,137.16 L63.07,137.19 L63.31,137.21 L63.55,137.24 L63.79,137.26 L64.03,137.29 L64.26,137.31 L64.50,137.34 L64.74,137.36 L64.98,137.39 L65.22,137.42 L65.46,137.44 L65.69,137.47 L65.93,137.49 L66.17,137.52 L66.41,137.54 L66.65,137.57 L66.88,137.59 L67.12,137.62 L67.36,137.64 L67.60,137.67 L67.84,137.69 L68.08,137.72 L68.31,137.74 L68.55,137.77 L68.79,137.79 L69.03,137.82 L69.27,137.84 L69.50,137.87 L69.74,137.89 L69.98,137.92 L70.22,137.94 L70.46,137.97 L70.70,137.99 L70.93,138.02 L71.17,138.04 L71.41,138.07 L71.65,138.09 L71.89,138.12 L72.12,138.14 L72.36,138.17 L72.60,138.20 L72.84,138.22 L73.08,138.25 L73.32,138.27 L73.55,138.30 L73.79,138.32 L74.03,138.35 L74.27,138.37 L74.51,138.40 L74.74,138.42 L74.98,138.45 L75.22,138.47 L75.46,138.50 L75.70,138.52 L75.94,138.55 L76.17,138.58 L76.41,138.60 L76.65,138.63 L76.89,138.65 L77.13,138.68 L77.36,138.70 L77.60,138.73 L77.84,138.76 L78.08,138.78 L78.32,138.81 L78.56,138.84 L78.79,138.86 L79.03,138.89 L79.27,138.91 L79.51,138.94 L79.75,138.97 L79.98,138.99 L80.22,139.02 L80.46,139.05 L80.70,139.08 L80.94,139.10 L81.18,139.13 L81.41,139.16 L81.65,139.19 L81.89,139.21 L82.13,139.24 L82.37,139.27 L82.60,139.30 L82.84,139.33 L83.08,139.36 L83.32,139.39 L83.56,139.42 L83.80,139.45 L84.03,139.48 L84.27,139.51 L84.51,139.54 L84.75,139.57 L84.99,139.60 L85.22,139.63 L85.46,139.66 L85.70,139.69 L85.94,139.73 L86.18,139.76 L86.42,139.79 L86.65,139.83 L86.89,139.86 L87.13,139.90 L87.37,139.94 L87.61,139.97 L87.84,140.01 L88.08,140.05 L88.32,140.09 L88.56,140.12 L88.80,140.16 L89.04,140.20 L89.27,140.25 L89.51,140.29 L89.75,140.33 L89.99,140.37 L90.23,140.42 L90.46,140.46 L90.70,140.51 L90.94,140.55 L91.18,140.60 L91.42,140.64 L91.66,140.69 L91.89,140.74 L92.13,140.79 L92.37,140.84 L92.61,140.89 L92.85,140.94 L93.08,141.00 L93.32,141.05 L93.56,141.10 L93.80,141.16 L94.04,141.22 L94.27,141.27 L94.51,141.33 L94.75,141.39 L94.99,141.45 L95.23,141.51 L95.47,141.57 L95.70,141.63 L95.94,141.70 L96.18,141.76 L96.42,141.83 L96.66,141.90 L96.89,141.96 L97.13,142.03 L97.37,142.10 L97.61,142.18 L97.85,142.25 L98.09,142.32 L98.32,142.40 L98.56,142.47 L98.80,142.55 L99.04,142.63 L99.28,142.71 L99.51,142.79 L99.75,142.87 L99.99,142.95 L100.23,143.04 L100.47,143.12 L100.71,143.21 L100.94,143.30 L101.18,143.39 L101.42,143.48 L101.66,143.57 L101.90,143.67 L102.13,143.76 L102.37,143.86 L102.61,143.95 L102.85,144.05 L103.09,144.15 L103.33,144.25 L103.56,144.35 L103.80,144.45 L104.04,144.56 L104.28,144.66 L104.52,144.76 L104.75,144.86 L104.99,144.96 L105.23,145.06 L105.47,145.16 L105.71,145.26 L105.95,145.36 L106.18,145.46 L106.42,145.56 L106.66,145.66 L106.90,145.77 L107.14,145.87 L107.37,145.97 L107.61,146.07 L107.85,146.17 L108.09,146.27 L108.33,146.38 L108.57,146.48 L108.80,146.58 L109.04,146.68 L109.28,146.79 L109.52,146.89 L109.76,146.99 L109.99,147.09 L110.23,147.20 L110.47,147.30 L110.71,147.40 L110.95,147.50 L111.19,147.61 L111.42,147.71 L111.66,147.81 L111.90,147.91 L112.14,148.01 L112.38,148.11 L112.61,148.21 L112.85,148.30 L113.09,148.40 L113.33,148.50 L113.57,148.59 L113.81,148.68 L114.04,148.78 L114.28,148.87 L114.52,148.96 L114.76,149.05 L115.00,149.13 L115.23,149.22 L115.47,149.30 L115.71,149.38 L115.95,149.46 L116.19,149.53 L116.43,149.61 L116.66,149.68 L116.90,149.75 L117.14,149.81 L117.38,149.87 L117.62,149.93 L117.85,149.99 L118.09,150.04 L118.33,150.09 L118.57,150.13 L118.81,150.18 L119.05,150.21 L119.28,150.24 L119.52,150.27 L119.76,150.29 L120.00,150.31 L120.24,150.33 L120.47,150.33 L120.71,150.34 L120.95,150.33 L121.19,150.32 L121.43,150.31 L121.67,150.29 L121.90,150.26 L122.14,150.23 L122.38,150.19 L122.62,150.14 L122.86,150.08 L123.09,150.01 L123.33,149.94 L123.57,149.86 L123.81,149.76 L124.05,149.66 L124.29,149.55 L124.52,149.43 L124.76,149.29 L125.00,149.15 L125.24,149.00 L125.48,148.84 L125.71,148.66 L125.95,148.48 L126.19,148.28 L126.43,148.08 L126.67,147.86 L126.91,147.63 L127.14,147.39 L127.38,147.14 L127.62,146.87 L127.86,146.60 L128.10,146.31 L128.33,146.01 L128.57,145.70 L128.81,145.38 L129.05,145.04 L129.29,144.70 L129.52,144.34 L129.76,143.97 L130.00,143.58 L130.24,143.19 L130.48,142.78 L130.72,142.36 L130.95,141.93 L131.19,141.49 L131.43,141.03 L131.67,140.57 L131.91,140.09 L132.14,139.60 L132.38,139.10 L132.62,138.59 L132.86,138.07 L133.10,137.53 L133.34,136.99 L133.57,136.43 L133.81,135.87 L134.05,135.30 L134.29,134.71 L134.53,134.12 L134.76,133.51 L135.00,132.90 L135.24,132.28 L135.48,131.65 L135.72,131.01 L135.96,130.36 L136.19,129.71 L136.43,129.05 L136.67,128.38 L136.91,127.71 L137.15,127.03 L137.38,126.34 L137.62,125.66 L137.86,124.96 L138.10,124.26 L138.34,123.56 L138.58,122.86 L138.81,122.15 L139.05,121.45 L139.29,120.74 L139.53,120.03 L139.77,119.32 L140.00,118.61 L140.24,117.91 L140.48,117.20 L140.72,116.50 L140.96,115.80 L141.20,115.10 L141.43,114.41 L141.67,113.73 L141.91,113.04 L142.15,112.37 L142.39,111.70 L142.62,111.04 L142.86,110.39 L143.10,109.75 L143.34,109.12 L143.58,108.50 L143.82,107.89 L144.05,107.29 L144.29,106.70 L144.53,106.13 L144.77,105.57 L145.01,105.02 L145.24,104.49 L145.48,103.98 L145.72,103.48 L145.96,103.00 L146.20,102.53 L146.44,102.08 L146.67,101.65 L146.91,101.24 L147.15,100.85 L147.39,100.48 L147.63,100.13 L147.86,99.80 L148.10,99.49 L148.34,99.20 L148.58,98.93 L148.82,98.69 L149.06,98.46 L149.29,98.26 L149.53,98.09 L149.77,97.93 L150.01,97.80 L150.25,97.69 L150.48,97.61 L150.72,97.55 L150.96,97.51 L151.20,97.49 L151.44,97.50 L151.68,97.54 L151.91,97.59 L152.15,97.67 L152.39,97.78 L152.63,97.91 L152.87,98.06 L153.10,98.23 L153.34,98.43 L153.58,98.65 L153.82,98.89 L154.06,99.16 L154.30,99.44 L154.53,99.75 L154.77,100.08 L155.01,100.42 L155.25,100.79 L155.49,101.18 L155.72,101.59 L155.96,102.02 L156.20,102.46 L156.44,102.92 L156.68,103.40 L156.92,103.90 L157.15,104.41 L157.39,104.93 L157.63,105.48 L157.87,106.03 L158.11,106.60 L158.34,107.18 L158.58,107.78 L158.82,108.38 L159.06,109.00 L159.30,109.62 L159.54,110.26 L159.77,110.90 L160.01,111.56 L160.25,112.22 L160.49,112.89 L160.73,113.56 L160.96,114.24 L161.20,114.92 L161.44,115.61 L161.68,116.31 L161.92,117.00 L162.16,117.70 L162.39,118.40 L162.63,119.10 L162.87,119.80 L163.11,120.50 L163.35,121.20 L163.58,121.90 L163.82,122.60 L164.06,123.29 L164.30,123.99 L164.54,124.68 L164.77,125.36 L165.01,126.04 L165.25,126.72 L165.49,127.39 L165.73,128.05 L165.97,128.71 L166.20,129.36 L166.44,130.01 L166.68,130.65 L166.92,131.28 L167.16,131.90 L167.39,132.51 L167.63,133.12 L167.87,133.71 L168.11,134.30 L168.35,134.88 L168.59,135.44 L168.82,136.00 L169.06,136.54 L169.30,137.08 L169.54,137.60 L169.78,138.12 L170.01,138.62 L170.25,139.11 L170.49,139.58 L170.73,140.05 L170.97,140.50 L171.21,140.94 L171.44,141.37 L171.68,141.78 L171.92,142.19 L172.16,142.58 L172.40,142.96 L172.63,143.32 L172.87,143.68 L173.11,144.02 L173.35,144.35 L173.59,144.66 L173.83,144.97 L174.06,145.26 L174.30,145.54 L174.54,145.81 L174.78,146.07 L175.02,146.31 L175.25,146.55 L175.49,146.77 L175.73,146.98 L175.97,147.18 L176.21,147.37 L176.45,147.54 L176.68,147.71 L176.92,147.87 L177.16,148.02 L177.40,148.15 L177.64,148.28 L177.87,148.40 L178.11,148.50 L178.35,148.60 L178.59,148.69 L178.83,148.77 L179.07,148.84 L179.30,148.90 L179.54,148.96 L179.78,149.00 L180.02,149.04 L180.26,149.08 L180.49,149.10 L180.73,149.12 L180.97,149.13 L181.21,149.14 L181.45,149.15 L181.69,149.15 L181.92,149.15 L182.16,149.14 L182.40,149.13 L182.64,149.12 L182.88,149.10 L183.11,149.08 L183.35,149.05 L183.59,149.02 L183.83,148.99 L184.07,148.95 L184.31,148.92 L184.54,148.87 L184.78,148.83 L185.02,148.78 L185.26,148.73 L185.50,148.67 L185.73,148.61 L185.97,148.55 L186.21,148.49 L186.45,148.42 L186.69,148.35 L186.93,148.28 L187.16,148.20 L187.40,148.13 L187.64,148.04 L187.88,147.96 L188.12,147.87 L188.35,147.78 L188.59,147.69 L188.83,147.60 L189.07,147.50 L189.31,147.40 L189.55,147.30 L189.78,147.19 L190.02,147.08 L190.26,146.97 L190.50,146.86 L190.74,146.74 L190.97,146.62 L191.21,146.50 L191.45,146.37 L191.69,146.25 L191.93,146.12 L192.17,145.99 L192.40,145.87 L192.64,145.74 L192.88,145.62 L193.12,145.49 L193.36,145.37 L193.59,145.25 L193.83,145.12 L194.07,145.00 L194.31,144.88 L194.55,144.76 L194.79,144.64 L195.02,144.52 L195.26,144.41 L195.50,144.29 L195.74,144.17 L195.98,144.06 L196.21,143.95 L196.45,143.84 L196.69,143.73 L196.93,143.62 L197.17,143.51 L197.41,143.40 L197.64,143.30 L197.88,143.19 L198.12,143.09 L198.36,142.99 L198.60,142.89 L198.83,142.79 L199.07,142.69 L199.31,142.59 L199.55,142.50 L199.79,142.41 L200.02,142.31 L200.26,142.22 L200.50,142.13 L200.74,142.05 L200.98,141.96 L201.22,141.87 L201.45,141.79 L201.69,141.71 L201.93,141.62 L202.17,141.54 L202.41,141.46 L202.64,141.39 L202.88,141.31 L203.12,141.23 L203.36,141.16 L203.60,141.09 L203.84,141.01 L204.07,140.94 L204.31,140.87 L204.55,140.80 L204.79,140.73 L205.03,140.67 L205.26,140.60 L205.50,140.54 L205.74,140.47 L205.98,140.41 L206.22,140.35 L206.46,140.29 L206.69,140.23 L206.93,140.17 L207.17,140.11 L207.41,140.05 L207.65,139.99 L207.88,139.94 L208.12,139.89 L208.36,139.83 L208.60,139.78 L208.84,139.73 L209.08,139.68 L209.31,139.63 L209.55,139.58 L209.79,139.53 L210.03,139.48 L210.27,139.44 L210.50,139.39 L210.74,139.35 L210.98,139.30 L211.22,139.26 L211.46,139.22 L211.70,139.18 L211.93,139.13 L212.17,139.09 L212.41,139.05 L212.65,139.01 L212.89,138.97 L213.12,138.93 L213.36,138.89 L213.60,138.85 L213.84,138.81 L214.08,138.77 L214.32,138.73 L214.55,138.69 L214.79,138.66 L215.03,138.62 L215.27,138.58 L215.51,138.54 L215.74,138.50 L215.98,138.47 L216.22,138.43 L216.46,138.39 L216.70,138.35 L216.94,138.32 L217.17,138.28 L217.41,138.24 L217.65,138.21 L217.89,138.17 L218.13,138.14 L218.36,138.10 L218.60,138.06 L218.84,138.03 L219.08,137.99 L219.32,137.95 L219.56,137.92 L219.79,137.88 L220.03,137.85 L220.27,137.81 L220.51,137.78 L220.75,137.74 L220.98,137.70 L221.22,137.67 L221.46,137.63 L221.70,137.60 L221.94,137.56 L222.18,137.52 L222.41,137.49 L222.65,137.45 L222.89,137.42 L223.13,137.38 L223.37,137.35 L223.60,137.31 L223.84,137.27 L224.08,137.24 L224.32,137.20 L224.56,137.17 L224.80,137.13 L225.03,137.09 L225.27,137.06 L225.51,137.02 L225.75,136.99 L225.99,136.95 L226.22,136.91 L226.46,136.88 L226.70,136.84 L226.94,136.80 L227.18,136.80 L227.42,136.80 L227.65,136.80 L227.89,136.80 L228.13,136.80 L228.37,136.80 L228.61,136.80 L228.84,136.80 L229.08,136.80 L229.32,136.80 L229.56,136.80 L229.80,136.80 L230.04,136.80 L230.27,136.80 L230.51,136.80 L230.75,136.80 L230.99,136.80 L231.23,136.80 L231.46,136.80 L231.70,136.80 L231.94,136.80 L232.18,136.80 L232.42,136.80 L232.66,136.80 L232.89,136.80 L233.13,136.80 L233.37,136.80 L233.61,136.80 L233.85,136.80 L234.08,136.80 L234.32,136.80 L234.56,136.80 L234.80,136.80 L235.04,136.80 L235.27,136.80 L235.51,136.80 L235.75,136.80 L235.99,136.80 L236.23,136.80 L236.47,136.80 L236.70,136.80 L236.94,136.80 L237.18,136.80 L237.42,136.80 L237.66,136.80 L237.89,136.80 L238.13,136.80 L238.37,136.80 L238.61,136.80 L238.85,136.80 L239.09,136.80 L239.32,136.80 L239.56,136.80 L239.80,136.80 L240.04,136.80 L240.28,136.80 L240.51,136.80 L240.75,136.80 L240.99,136.80 L241.23,136.80 L241.47,136.80 L241.71,136.80 L241.94,136.80 L242.18,136.80 L242.42,136.80 L242.66,136.80 L242.90,136.80 L243.13,136.80 L243.37,136.80 L243.61,136.80 L243.85,136.80 L244.09,136.80 L244.33,136.80 L244.56,136.80 L244.80,136.80 L245.04,136.80 L245.28,136.80 L245.52,136.80 L245.75,136.80 L245.99,136.80 L246.23,136.80 L246.47,136.80 L246.71,136.80 L246.95,136.80" fill="none" stroke="#30c286" stroke-width="1.25" stroke-linejoin="round"/>
<path d="M41.40,136.80 L41.64,136.80 L41.88,136.80 L42.11,136.80 L42.35,136.80 L42.59,136.80 L42.83,136.80 L43.07,136.80 L43.31,136.80 L43.54,136.80 L43.78,136.80 L44.02,136.80 L44.26,136.80 L44.50,136.80 L44.73,136.80 L44.97,136.80 L45.21,136.80 L45.45,136.80 L45.69,136.80 L45.93,136.80 L46.16,136.80 L46.40,136.80 L46.64,136.80 L46.88,136.80 L47.12,136.80 L47.35,136.80 L47.59,136.80 L47.83,136.80 L48.07,136.80 L48.31,136.80 L48.55,136.80 L48.78,136.80 L49.02,136.80 L49.26,136.80 L49.50,136.80 L49.74,136.80 L49.97,136.80 L50.21,136.80 L50.45,136.80 L50.69,136.80 L50.93,136.80 L51.17,136.80 L51.40,136.80 L51.64,136.80 L51.88,136.80 L52.12,136.80 L52.36,136.80 L52.59,136.80 L52.83,136.80 L53.07,136.80 L53.31,136.80 L53.55,136.80 L53.79,136.80 L54.02,136.80 L54.26,136.80 L54.50,136.80 L54.74,136.80 L54.98,136.80 L55.21,136.80 L55.45,136.80 L55.69,136.80 L55.93,136.80 L56.17,136.80 L56.41,136.80 L56.64,136.80 L56.88,136.80 L57.12,136.80 L57.36,136.80 L57.60,136.80 L57.83,136.80 L58.07,136.80 L58.31,136.80 L58.55,136.80 L58.79,136.80 L59.02,136.80 L59.26,136.80 L59.50,136.80 L59.74,136.83 L59.98,136.87 L60.22,136.90 L60.45,136.93 L60.69,136.96 L60.93,136.99 L61.17,137.02 L61.41,137.06 L61.64,137.09 L61.88,137.12 L62.12,137.15 L62.36,137.18 L62.60,137.21 L62.84,137.24 L63.07,137.28 L63.31,137.31 L63.55,137.34 L63.79,137.37 L64.03,137.40 L64.26,137.43 L64.50,137.46 L64.74,137.49 L64.98,137.52 L65.22,137.56 L65.46,137.59 L65.69,137.62 L65.93,137.65 L66.17,137.68 L66.41,137.71 L66.65,137.74 L66.88,137.77 L67.12,137.80 L67.36,137.84 L67.60,137.87 L67.84,137.90 L68.08,137.93 L68.31,137.96 L68.55,137.99 L68.79,138.02 L69.03,138.05 L69.27,138.08 L69.50,138.12 L69.74,138.15 L69.98,138.18 L70.22,138.21 L70.46,138.24 L70.70,138.27 L70.93,138.30 L71.17,138.34 L71.41,138.37 L71.65,138.40 L71.89,138.43 L72.12,138.46 L72.36,138.50 L72.60,138.53 L72.84,138.56 L73.08,138.59 L73.32,138.62 L73.55,138.66 L73.79,138.69 L74.03,138.72 L74.27,138.75 L74.51,138.79 L74.74,138.82 L74.98,138.85 L75.22,138.89 L75.46,138.92 L75.70,138.95 L75.94,138.99 L76.17,139.02 L76.41,139.06 L76.65,139.09 L76.89,139.13 L77.13,139.16 L77.36,139.20 L77.60,139.23 L77.84,139.27 L78.08,139.30 L78.32,139.34 L78.56,139.37 L78.79,139.41 L79.03,139.45 L79.27,139.49 L79.51,139.52 L79.75,139.56 L79.98,139.60 L80.22,139.64 L80.46,139.68 L80.70,139.71 L80.94,139.75 L81.18,139.79 L81.41,139.83 L81.65,139.88 L81.89,139.92 L82.13,139.96 L82.37,140.00 L82.60,140.04 L82.84,140.09 L83.08,140.13 L83.32,140.17 L83.56,140.22 L83.80,140.26 L84.03,140.31 L84.27,140.35 L84.51,140.40 L84.75,140.45 L84.99,140.50 L85.22,140.55 L85.46,140.60 L85.70,140.65 L85.94,140.70 L86.18,140.75 L86.42,140.80 L86.65,140.86 L86.89,140.91 L87.13,140.97 L87.37,141.03 L87.61,141.09 L87.84,141.14 L88.08,141.20 L88.32,141.26 L88.56,141.33 L88.80,141.39 L89.04,141.45 L89.27,141.52 L89.51,141.58 L89.75,141.65 L89.99,141.71 L90.23,141.78 L90.46,141.85 L90.70,141.92 L90.94,141.99 L91.18,142.06 L91.42,142.13 L91.66,142.21 L91.89,142.28 L92.13,142.35 L92.37,142.43 L92.61,142.51 L92.85,142.58 L93.08,142.66 L93.32,142.74 L93.56,142.82 L93.80,142.89 L94.04,142.96 L94.27,143.04 L94.51,143.11 L94.75,143.18 L94.99,143.24 L95.23,143.31 L95.47,143.38 L95.70,143.44 L95.94,143.51 L96.18,143.57 L96.42,143.64 L96.66,143.70 L96.89,143.77 L97.13,143.84 L97.37,143.91 L97.61,143.97 L97.85,144.04 L98.09,144.12 L98.32,144.19 L98.56,144.26 L98.80,144.34 L99.04,144.42 L99.28,144.50 L99.51,144.58 L99.75,144.67 L99.99,144.76 L100.23,144.85 L100.47,144.94 L100.71,145.04 L100.94,145.14 L101.18,145.25 L101.42,145.35 L101.66,145.47 L101.90,145.58 L102.13,145.70 L102.37,145.83 L102.61,145.96 L102.85,146.09 L103.09,146.23 L103.33,146.38 L103.56,146.52 L103.80,146.67 L104.04,146.82 L104.28,146.97 L104.52,147.13 L104.75,147.28 L104.99,147.44 L105.23,147.60 L105.47,147.76 L105.71,147.93 L105.95,148.09 L106.18,148.26 L106.42,148.43 L106.66,148.60 L106.90,148.77 L107.14,148.94 L107.37,149.11 L107.61,149.29 L107.85,149.46 L108.09,149.64 L108.33,149.82 L108.57,149.99 L108.80,150.17 L109.04,150.35 L109.28,150.53 L109.52,150.71 L109.76,150.89 L109.99,151.07 L110.23,151.25 L110.47,151.43 L110.71,151.61 L110.95,151.79 L111.19,151.97 L111.42,152.15 L111.66,152.33 L111.90,152.50 L112.14,152.68 L112.38,152.85 L112.61,153.03 L112.85,153.20 L113.09,153.36 L113.33,153.53 L113.57,153.70 L113.81,153.86 L114.04,154.02 L114.28,154.18 L114.52,154.33 L114.76,154.48 L115.00,154.63 L115.23,154.77 L115.47,154.91 L115.71,155.05 L115.95,155.18 L116.19,155.31 L116.43,155.43 L116.66,155.55 L116.90,155.66 L117.14,155.77 L117.38,155.87 L117.62,155.97 L117.85,156.06 L118.09,156.14 L118.33,156.22 L118.57,156.29 L118.81,156.36 L119.05,156.41 L119.28,156.46 L119.52,156.50 L119.76,156.53 L120.00,156.56 L120.24,156.57 L120.47,156.58 L120.71,156.58 L120.95,156.57 L121.19,156.54 L121.43,156.51 L121.67,156.47 L121.90,156.42 L122.14,156.35 L122.38,156.28 L122.62,156.19 L122.86,156.09 L123.09,155.98 L123.33,155.85 L123.57,155.72 L123.81,155.57 L124.05,155.41 L124.29,155.23 L124.52,155.04 L124.76,154.84 L125.00,154.62 L125.24,154.39 L125.48,154.14 L125.71,153.88 L125.95,153.61 L126.19,153.32 L126.43,153.01 L126.67,152.69 L126.91,152.35 L127.14,152.00 L127.38,151.63 L127.62,151.25 L127.86,150.85 L128.10,150.43 L128.33,149.99 L128.57,149.54 L128.81,149.07 L129.05,148.59 L129.29,148.08 L129.52,147.56 L129.76,147.03 L130.00,146.47 L130.24,145.90 L130.48,145.31 L130.72,144.70 L130.95,144.07 L131.19,143.43 L131.43,142.77 L131.67,142.09 L131.91,141.39 L132.14,140.68 L132.38,139.94 L132.62,139.19 L132.86,138.43 L133.10,137.64 L133.34,136.84 L133.57,136.02 L133.81,135.19 L134.05,134.33 L134.29,133.46 L134.53,132.57 L134.76,131.67 L135.00,130.75 L135.24,129.81 L135.48,128.86 L135.72,127.90 L135.96,126.91 L136.19,125.92 L136.43,124.91 L136.67,123.88 L136.91,122.85 L137.15,121.80 L137.38,120.74 L137.62,119.67 L137.86,118.59 L138.10,117.50 L138.34,116.39 L138.58,115.29 L138.81,114.17 L139.05,113.05 L139.29,111.92 L139.53,110.78 L139.77,109.64 L140.00,108.50 L140.24,107.36 L140.48,106.21 L140.72,105.07 L140.96,103.93 L141.20,102.78 L141.43,101.65 L141.67,100.51 L141.91,99.38 L142.15,98.26 L142.39,97.15 L142.62,96.04 L142.86,94.94 L143.10,93.86 L143.34,92.79 L143.58,91.73 L143.82,90.69 L144.05,89.67 L144.29,88.66 L144.53,87.67 L144.77,86.70 L145.01,85.76 L145.24,84.83 L145.48,83.93 L145.72,83.06 L145.96,82.21 L146.20,81.39 L146.44,80.60 L146.67,79.84 L146.91,79.11 L147.15,78.42 L147.39,77.75 L147.63,77.12 L147.86,76.53 L148.10,75.97 L148.34,75.45 L148.58,74.96 L148.82,74.52 L149.06,74.11 L149.29,73.74 L149.53,73.42 L149.77,73.13 L150.01,72.89 L150.25,72.69 L150.48,72.52 L150.72,72.41 L150.96,72.33 L151.20,72.30 L151.44,72.30 L151.68,72.36 L151.91,72.45 L152.15,72.59 L152.39,72.76 L152.63,72.99 L152.87,73.25 L153.10,73.55 L153.34,73.90 L153.58,74.28 L153.82,74.70 L154.06,75.17 L154.30,75.67 L154.53,76.21 L154.77,76.78 L155.01,77.39 L155.25,78.04 L155.49,78.71 L155.72,79.43 L155.96,80.17 L156.20,80.94 L156.44,81.75 L156.68,82.58 L156.92,83.44 L157.15,84.32 L157.39,85.23 L157.63,86.16 L157.87,87.12 L158.11,88.09 L158.34,89.09 L158.58,90.10 L158.82,91.14 L159.06,92.18 L159.30,93.24 L159.54,94.32 L159.77,95.41 L160.01,96.50 L160.25,97.61 L160.49,98.73 L160.73,99.85 L160.96,100.98 L161.20,102.11 L161.44,103.25 L161.68,104.39 L161.92,105.53 L162.16,106.67 L162.39,107.81 L162.63,108.95 L162.87,110.09 L163.11,111.22 L163.35,112.35 L163.58,113.47 L163.82,114.58 L164.06,115.69 L164.30,116.79 L164.54,117.88 L164.77,118.97 L165.01,120.04 L165.25,121.10 L165.49,122.15 L165.73,123.19 L165.97,124.21 L166.20,125.22 L166.44,126.22 L166.68,127.20 L166.92,128.17 L167.16,129.12 L167.39,130.06 L167.63,130.98 L167.87,131.89 L168.11,132.78 L168.35,133.65 L168.59,134.51 L168.82,135.35 L169.06,136.17 L169.30,136.97 L169.54,137.75 L169.78,138.52 L170.01,139.27 L170.25,140.00 L170.49,140.71 L170.73,141.40 L170.97,142.07 L171.21,142.73 L171.44,143.36 L171.68,143.98 L171.92,144.58 L172.16,145.15 L172.40,145.72 L172.63,146.26 L172.87,146.78 L173.11,147.29 L173.35,147.78 L173.59,148.25 L173.83,148.70 L174.06,149.13 L174.30,149.55 L174.54,149.95 L174.78,150.34 L175.02,150.70 L175.25,151.06 L175.49,151.39 L175.73,151.71 L175.97,152.01 L176.21,152.30 L176.45,152.57 L176.68,152.83 L176.92,153.07 L177.16,153.30 L177.40,153.52 L177.64,153.72 L177.87,153.91 L178.11,154.08 L178.35,154.24 L178.59,154.39 L178.83,154.53 L179.07,154.65 L179.30,154.76 L179.54,154.86 L179.78,154.95 L180.02,155.03 L180.26,155.10 L180.49,155.16 L180.73,155.21 L180.97,155.24 L181.21,155.27 L181.45,155.29 L181.69,155.30 L181.92,155.30 L182.16,155.30 L182.40,155.28 L182.64,155.26 L182.88,155.23 L183.11,155.19 L183.35,155.14 L183.59,155.09 L183.83,155.03 L184.07,154.96 L184.31,154.89 L184.54,154.81 L184.78,154.72 L185.02,154.63 L185.26,154.53 L185.50,154.43 L185.73,154.32 L185.97,154.20 L186.21,154.08 L186.45,153.96 L186.69,153.83 L186.93,153.70 L187.16,153.57 L187.40,153.43 L187.64,153.28 L187.88,153.14 L188.12,152.99 L188.35,152.84 L188.59,152.68 L188.83,152.52 L189.07,152.36 L189.31,152.20 L189.55,152.04 L189.78,151.87 L190.02,151.70 L190.26,151.53 L190.50,151.36 L190.74,151.19 L190.97,151.01 L191.21,150.84 L191.45,150.66 L191.69,150.49 L191.93,150.31 L192.17,150.13 L192.40,149.96 L192.64,149.78 L192.88,149.61 L193.12,149.43 L193.36,149.26 L193.59,149.08 L193.83,148.91 L194.07,148.74 L194.31,148.56 L194.55,148.39 L194.79,148.22 L195.02,148.05 L195.26,147.89 L195.50,147.72 L195.74,147.55 L195.98,147.39 L196.21,147.23 L196.45,147.06 L196.69,146.90 L196.93,146.75 L197.17,146.59 L197.41,146.43 L197.64,146.28 L197.88,146.13 L198.12,145.98 L198.36,145.83 L198.60,145.68 L198.83,145.53 L199.07,145.39 L199.31,145.25 L199.55,145.11 L199.79,144.97 L200.02,144.83 L200.26,144.69 L200.50,144.56 L200.74,144.43 L200.98,144.30 L201.22,144.17 L201.45,144.04 L201.69,143.91 L201.93,143.79 L202.17,143.67 L202.41,143.55 L202.64,143.43 L202.88,143.31 L203.12,143.20 L203.36,143.09 L203.60,142.98 L203.84,142.87 L204.07,142.77 L204.31,142.67 L204.55,142.57 L204.79,142.47 L205.03,142.37 L205.26,142.28 L205.50,142.19 L205.74,142.10 L205.98,142.01 L206.22,141.92 L206.46,141.83 L206.69,141.75 L206.93,141.67 L207.17,141.59 L207.41,141.51 L207.65,141.43 L207.88,141.35 L208.12,141.27 L208.36,141.20 L208.60,141.12 L208.84,141.05 L209.08,140.97 L209.31,140.90 L209.55,140.83 L209.79,140.76 L210.03,140.69 L210.27,140.62 L210.50,140.55 L210.74,140.48 L210.98,140.41 L211.22,140.34 L211.46,140.27 L211.70,140.20 L211.93,140.13 L212.17,140.07 L212.41,140.00 L212.65,139.94 L212.89,139.88 L213.12,139.81 L213.36,139.75 L213.60,139.69 L213.84,139.63 L214.08,139.57 L214.32,139.51 L214.55,139.46 L214.79,139.40 L215.03,139.34 L215.27,139.29 L215.51,139.23 L215.74,139.17 L215.98,139.12 L216.22,139.07 L216.46,139.01 L216.70,138.96 L216.94,138.91 L217.17,138.85 L217.41,138.80 L217.65,138.75 L217.89,138.70 L218.13,138.65 L218.36,138.60 L218.60,138.54 L218.84,138.49 L219.08,138.44 L219.32,138.39 L219.56,138.34 L219.79,138.29 L220.03,138.25 L220.27,138.20 L220.51,138.15 L220.75,138.10 L220.98,138.05 L221.22,138.00 L221.46,137.95 L221.70,137.90 L221.94,137.85 L222.18,137.80 L222.41,137.76 L222.65,137.71 L222.89,137.66 L223.13,137.61 L223.37,137.56 L223.60,137.51 L223.84,137.46 L224.08,137.41 L224.32,137.36 L224.56,137.31 L224.80,137.26 L225.03,137.21 L225.27,137.16 L225.51,137.11 L225.75,137.06 L225.99,137.01 L226.22,136.96 L226.46,136.91 L226.70,136.86 L226.94,136.81 L227.18,136.80 L227.42,136.80 L227.65,136.80 L227.89,136.80 L228.13,136.80 L228.37,136.80 L228.61,136.80 L228.84,136.80 L229.08,136.80 L229.32,136.80 L229.56,136.80 L229.80,136.80 L230.04,136.80 L230.27,136.80 L230.51,136.80 L230.75,136.80 L230.99,136.80 L231.23,136.80 L231.46,136.80 L231.70,136.80 L231.94,136.80 L232.18,136.80 L232.42,136.80 L232.66,136.80 L232.89,136.80 L233.13,136.80 L233.37,136.80 L233.61,136.80 L233.85,136.80 L234.08,136.80 L234.32,136.80 L234.56,136.80 L234.80,136.80 L235.04,136.80 L235.27,136.80 L235.51,136.80 L235.75,136.80 L235.99,136.80 L236.23,136.80 L236.47,136.80 L236.70,136.80 L236.94,136.80 L237.18,136.80 L237.42,136.80 L237.66,136.80 L237.89,136.80 L238.13,136.80 L238.37,136.80 L238.61,136.80 L238.85,136.80 L239.09,136.80 L239.32,136.80 L239.56,136.80 L239.80,136.80 L240.04,136.80 L240.28,136.80 L240.51,136.80 L240.75,136.80 L240.99,136.80 L241.23,136.80 L241.47,136.80 L241.71,136.80 L241.94,136.80 L242.18,136.80 L242.42,136.80 L242.66,136.80 L242.90,136.80 L243.13,136.80 L243.37,136.80 L243.61,136.80 L243.85,136.80 L244.09,136.80 L244.33,136.80 L244.56,136.80 L244.80,136.80 L245.04,136.80 L245.28,136.80 L245.52,136.80 L245.75,136.80 L245.99,136.80 L246.23,136.80 L246.47,136.80 L246.71,136.80 L246.95,136.80" fill="none" stroke="#da8cf2" stroke-width="1.25" stroke-linejoin="round"/>
<path d="M41.40,136.80 L41.64,136.80 L41.88,136.80 L42.11,136.80 L42.35,136.80 L42.59,136.80 L42.83,136.80 L43.07,136.80 L43.31,136.80 L43.54,136.80 L43.78,136.80 L44.02,136.80 L44.26,136.80 L44.50,136.80 L44.73,136.80 L44.97,136.80 L45.21,136.80 L45.45,136.80 L45.69,136.80 L45.93,136.80 L46.16,136.80 L46.40,136.80 L46.64,136.80 L46.88,136.80 L47.12,136.80 L47.35,136.80 L47.59,136.80 L47.83,136.80 L48.07,136.80 L48.31,136.80 L48.55,136.80 L48.78,136.80 L49.02,136.80 L49.26,136.80 L49.50,136.80 L49.74,136.80 L49.97,136.80 L50.21,136.80 L50.45,136.80 L50.69,136.80 L50.93,136.80 L51.17,136.80 L51.40,136.80 L51.64,136.80 L51.88,136.80 L52.12,136.80 L52.36,136.80 L52.59,136.80 L52.83,136.80 L53.07,136.80 L53.31,136.80 L53.55,136.80 L53.79,136.80 L54.02,136.80 L54.26,136.80 L54.50,136.80 L54.74,136.80 L54.98,136.80 L55.21,136.80 L55.45,136.80 L55.69,136.80 L55.93,136.80 L56.17,136.80 L56.41,136.80 L56.64,136.80 L56.88,136.80 L57.12,136.80 L57.36,136.80 L57.60,136.80 L57.83,136.80 L58.07,136.80 L58.31,136.80 L58.55,136.80 L58.79,136.80 L59.02,136.80 L59.26,136.80 L59.50,136.80 L59.74,136.85 L59.98,136.89 L60.22,136.94 L60.45,136.98 L60.69,137.03 L60.93,137.07 L61.17,137.11 L61.41,137.16 L61.64,137.20 L61.88,137.25 L62.12,137.29 L62.36,137.34 L62.60,137.38 L62.84,137.42 L63.07,137.47 L63.31,137.51 L63.55,137.55 L63.79,137.60 L64.03,137.64 L64.26,137.69 L64.50,137.73 L64.74,137.77 L64.98,137.82 L65.22,137.86 L65.46,137.90 L65.69,137.94 L65.93,137.99 L66.17,138.03 L66.41,138.07 L66.65,138.11 L66.88,138.16 L67.12,138.20 L67.36,138.24 L67.60,138.28 L67.84,138.32 L68.08,138.37 L68.31,138.41 L68.55,138.45 L68.79,138.50 L69.03,138.54 L69.27,138.59 L69.50,138.63 L69.74,138.68 L69.98,138.72 L70.22,138.77 L70.46,138.82 L70.70,138.86 L70.93,138.91 L71.17,138.96 L71.41,139.01 L71.65,139.05 L71.89,139.10 L72.12,139.15 L72.36,139.20 L72.60,139.25 L72.84,139.30 L73.08,139.35 L73.32,139.40 L73.55,139.45 L73.79,139.49 L74.03,139.54 L74.27,139.59 L74.51,139.64 L74.74,139.69 L74.98,139.74 L75.22,139.79 L75.46,139.84 L75.70,139.89 L75.94,139.93 L76.17,139.98 L76.41,140.03 L76.65,140.08 L76.89,140.13 L77.13,140.17 L77.36,140.22 L77.60,140.27 L77.84,140.31 L78.08,140.36 L78.32,140.40 L78.56,140.45 L78.79,140.49 L79.03,140.54 L79.27,140.58 L79.51,140.63 L79.75,140.67 L79.98,140.71 L80.22,140.75 L80.46,140.79 L80.70,140.83 L80.94,140.88 L81.18,140.92 L81.41,140.96 L81.65,141.00 L81.89,141.05 L82.13,141.09 L82.37,141.14 L82.60,141.18 L82.84,141.23 L83.08,141.28 L83.32,141.33 L83.56,141.38 L83.80,141.43 L84.03,141.48 L84.27,141.53 L84.51,141.59 L84.75,141.64 L84.99,141.70 L85.22,141.75 L85.46,141.81 L85.70,141.88 L85.94,141.94 L86.18,142.00 L86.42,142.07 L86.65,142.14 L86.89,142.21 L87.13,142.28 L87.37,142.35 L87.61,142.43 L87.84,142.51 L88.08,142.58 L88.32,142.66 L88.56,142.75 L88.80,142.83 L89.04,142.91 L89.27,143.00 L89.51,143.09 L89.75,143.18 L89.99,143.27 L90.23,143.36 L90.46,143.45 L90.70,143.54 L90.94,143.64 L91.18,143.74 L91.42,143.83 L91.66,143.93 L91.89,144.03 L92.13,144.13 L92.37,144.24 L92.61,144.34 L92.85,144.44 L93.08,144.55 L93.32,144.65 L93.56,144.76 L93.80,144.87 L94.04,144.98 L94.27,145.09 L94.51,145.20 L94.75,145.31 L94.99,145.43 L95.23,145.54 L95.47,145.66 L95.70,145.77 L95.94,145.89 L96.18,146.01 L96.42,146.13 L96.66,146.25 L96.89,146.38 L97.13,146.51 L97.37,146.63 L97.61,146.76 L97.85,146.89 L98.09,147.03 L98.32,147.16 L98.56,147.30 L98.80,147.44 L99.04,147.58 L99.28,147.72 L99.51,147.87 L99.75,148.01 L99.99,148.16 L100.23,148.31 L100.47,148.47 L100.71,148.62 L100.94,148.78 L101.18,148.94 L101.42,149.11 L101.66,149.27 L101.90,149.44 L102.13,149.61 L102.37,149.78 L102.61,149.96 L102.85,150.13 L103.09,150.31 L103.33,150.50 L103.56,150.68 L103.80,150.86 L104.04,151.04 L104.28,151.22 L104.52,151.40 L104.75,151.59 L104.99,151.77 L105.23,151.95 L105.47,152.13 L105.71,152.32 L105.95,152.50 L106.18,152.69 L106.42,152.87 L106.66,153.06 L106.90,153.25 L107.14,153.44 L107.37,153.63 L107.61,153.83 L107.85,154.02 L108.09,154.22 L108.33,154.41 L108.57,154.61 L108.80,154.82 L109.04,155.02 L109.28,155.22 L109.52,155.43 L109.76,155.64 L109.99,155.85 L110.23,156.06 L110.47,156.28 L110.71,156.50 L110.95,156.72 L111.19,156.94 L111.42,157.16 L111.66,157.39 L111.90,157.61 L112.14,157.84 L112.38,158.07 L112.61,158.30 L112.85,158.53 L113.09,158.76 L113.33,158.98 L113.57,159.21 L113.81,159.42 L114.04,159.64 L114.28,159.85 L114.52,160.06 L114.76,160.27 L115.00,160.47 L115.23,160.67 L115.47,160.86 L115.71,161.05 L115.95,161.23 L116.19,161.41 L116.43,161.58 L116.66,161.74 L116.90,161.90 L117.14,162.05 L117.38,162.20 L117.62,162.34 L117.85,162.47 L118.09,162.59 L118.33,162.70 L118.57,162.81 L118.81,162.91 L119.05,162.99 L119.28,163.07 L119.52,163.14 L119.76,163.20 L120.00,163.24 L120.24,163.28 L120.47,163.30 L120.71,163.31 L120.95,163.31 L121.19,163.30 L121.43,163.27 L121.67,163.23 L121.90,163.18 L122.14,163.10 L122.38,163.02 L122.62,162.91 L122.86,162.79 L123.09,162.66 L123.33,162.50 L123.57,162.33 L123.81,162.14 L124.05,161.94 L124.29,161.71 L124.52,161.47 L124.76,161.20 L125.00,160.92 L125.24,160.62 L125.48,160.29 L125.71,159.95 L125.95,159.59 L126.19,159.20 L126.43,158.80 L126.67,158.37 L126.91,157.92 L127.14,157.45 L127.38,156.95 L127.62,156.43 L127.86,155.89 L128.10,155.33 L128.33,154.74 L128.57,154.13 L128.81,153.50 L129.05,152.84 L129.29,152.15 L129.52,151.44 L129.76,150.71 L130.00,149.95 L130.24,149.17 L130.48,148.36 L130.72,147.52 L130.95,146.66 L131.19,145.78 L131.43,144.87 L131.67,143.93 L131.91,142.97 L132.14,141.98 L132.38,140.97 L132.62,139.93 L132.86,138.86 L133.10,137.78 L133.34,136.66 L133.57,135.52 L133.81,134.36 L134.05,133.16 L134.29,131.95 L134.53,130.71 L134.76,129.44 L135.00,128.15 L135.24,126.83 L135.48,125.50 L135.72,124.13 L135.96,122.75 L136.19,121.34 L136.43,119.92 L136.67,118.47 L136.91,117.00 L137.15,115.52 L137.38,114.01 L137.62,112.49 L137.86,110.95 L138.10,109.40 L138.34,107.83 L138.58,106.25 L138.81,104.65 L139.05,103.05 L139.29,101.43 L139.53,99.81 L139.77,98.18 L140.00,96.54 L140.24,94.90 L140.48,93.26 L140.72,91.61 L140.96,89.97 L141.20,88.33 L141.43,86.69 L141.67,85.05 L141.91,83.42 L142.15,81.81 L142.39,80.20 L142.62,78.60 L142.86,77.02 L143.10,75.45 L143.34,73.90 L143.58,72.37 L143.82,70.87 L144.05,69.38 L144.29,67.93 L144.53,66.49 L144.77,65.09 L145.01,63.72 L145.24,62.38 L145.48,61.08 L145.72,59.81 L145.96,58.59 L146.20,57.40 L146.44,56.25 L146.67,55.15 L146.91,54.09 L147.15,53.08 L147.39,52.12 L147.63,51.21 L147.86,50.35 L148.10,49.54 L148.34,48.79 L148.58,48.09 L148.82,47.45 L149.06,46.86 L149.29,46.33 L149.53,45.86 L149.77,45.45 L150.01,45.11 L150.25,44.82 L150.48,44.59 L150.72,44.43 L150.96,44.33 L151.20,44.29 L151.44,44.31 L151.68,44.39 L151.91,44.54 L152.15,44.75 L152.39,45.02 L152.63,45.35 L152.87,45.74 L153.10,46.19 L153.34,46.70 L153.58,47.27 L153.82,47.90 L154.06,48.58 L154.30,49.32 L154.53,50.11 L154.77,50.96 L155.01,51.86 L155.25,52.80 L155.49,53.80 L155.72,54.84 L155.96,55.93 L156.20,57.06 L156.44,58.24 L156.68,59.45 L156.92,60.70 L157.15,61.99 L157.39,63.32 L157.63,64.68 L157.87,66.06 L158.11,67.48 L158.34,68.93 L158.58,70.40 L158.82,71.90 L159.06,73.41 L159.30,74.95 L159.54,76.50 L159.77,78.07 L160.01,79.66 L160.25,81.25 L160.49,82.86 L160.73,84.48 L160.96,86.10 L161.20,87.73 L161.44,89.36 L161.68,91.00 L161.92,92.63 L162.16,94.26 L162.39,95.89 L162.63,97.52 L162.87,99.14 L163.11,100.75 L163.35,102.36 L163.58,103.95 L163.82,105.53 L164.06,107.11 L164.30,108.66 L164.54,110.21 L164.77,111.74 L165.01,113.25 L165.25,114.74 L165.49,116.22 L165.73,117.68 L165.97,119.12 L166.20,120.54 L166.44,121.93 L166.68,123.31 L166.92,124.66 L167.16,125.99 L167.39,127.29 L167.63,128.57 L167.87,129.83 L168.11,131.06 L168.35,132.27 L168.59,133.45 L168.82,134.61 L169.06,135.74 L169.30,136.85 L169.54,137.92 L169.78,138.97 L170.01,140.00 L170.25,140.99 L170.49,141.96 L170.73,142.90 L170.97,143.81 L171.21,144.70 L171.44,145.56 L171.68,146.39 L171.92,147.19 L172.16,147.97 L172.40,148.72 L172.63,149.44 L172.87,150.14 L173.11,150.82 L173.35,151.46 L173.59,152.09 L173.83,152.68 L174.06,153.26 L174.30,153.81 L174.54,154.33 L174.78,154.84 L175.02,155.31 L175.25,155.77 L175.49,156.21 L175.73,156.62 L175.97,157.01 L176.21,157.38 L176.45,157.73 L176.68,158.06 L176.92,158.37 L177.16,158.66 L177.40,158.93 L177.64,159.19 L177.87,159.42 L178.11,159.64 L178.35,159.84 L178.59,160.02 L178.83,160.19 L179.07,160.34 L179.30,160.48 L179.54,160.60 L179.78,160.71 L180.02,160.80 L180.26,160.88 L180.49,160.95 L180.73,161.01 L180.97,161.05 L181.21,161.08 L181.45,161.10 L181.69,161.11 L181.92,161.10 L182.16,161.09 L182.40,161.06 L182.64,161.03 L182.88,160.98 L183.11,160.92 L183.35,160.86 L183.59,160.78 L183.83,160.70 L184.07,160.61 L184.31,160.51 L184.54,160.40 L184.78,160.29 L185.02,160.16 L185.26,160.03 L185.50,159.90 L185.73,159.75 L185.97,159.61 L186.21,159.45 L186.45,159.29 L186.69,159.12 L186.93,158.95 L187.16,158.78 L187.40,158.60 L187.64,158.41 L187.88,158.22 L188.12,158.03 L188.35,157.84 L188.59,157.64 L188.83,157.43 L189.07,157.23 L189.31,157.02 L189.55,156.81 L189.78,156.60 L190.02,156.38 L190.26,156.16 L190.50,155.94 L190.74,155.72 L190.97,155.50 L191.21,155.28 L191.45,155.05 L191.69,154.83 L191.93,154.60 L192.17,154.38 L192.40,154.15 L192.64,153.93 L192.88,153.70 L193.12,153.48 L193.36,153.25 L193.59,153.03 L193.83,152.81 L194.07,152.59 L194.31,152.37 L194.55,152.15 L194.79,151.93 L195.02,151.71 L195.26,151.50 L195.50,151.28 L195.74,151.07 L195.98,150.86 L196.21,150.65 L196.45,150.44 L196.69,150.23 L196.93,150.03 L197.17,149.82 L197.41,149.62 L197.64,149.42 L197.88,149.22 L198.12,149.02 L198.36,148.82 L198.60,148.63 L198.83,148.43 L199.07,148.24 L199.31,148.05 L199.55,147.86 L199.79,147.68 L200.02,147.49 L200.26,147.31 L200.50,147.13 L200.74,146.95 L200.98,146.77 L201.22,146.59 L201.45,146.41 L201.69,146.24 L201.93,146.07 L202.17,145.89 L202.41,145.72 L202.64,145.56 L202.88,145.39 L203.12,145.22 L203.36,145.06 L203.60,144.90 L203.84,144.74 L204.07,144.58 L204.31,144.42 L204.55,144.27 L204.79,144.12 L205.03,143.97 L205.26,143.82 L205.50,143.67 L205.74,143.53 L205.98,143.39 L206.22,143.25 L206.46,143.11 L206.69,142.97 L206.93,142.84 L207.17,142.71 L207.41,142.58 L207.65,142.45 L207.88,142.33 L208.12,142.21 L208.36,142.09 L208.60,141.97 L208.84,141.85 L209.08,141.74 L209.31,141.63 L209.55,141.52 L209.79,141.41 L210.03,141.30 L210.27,141.20 L210.50,141.10 L210.74,141.00 L210.98,140.91 L211.22,140.81 L211.46,140.72 L211.70,140.63 L211.93,140.54 L212.17,140.46 L212.41,140.37 L212.65,140.29 L212.89,140.21 L213.12,140.13 L213.36,140.05 L213.60,139.98 L213.84,139.90 L214.08,139.83 L214.32,139.75 L214.55,139.68 L214.79,139.61 L215.03,139.55 L215.27,139.48 L215.51,139.41 L215.74,139.35 L215.98,139.29 L216.22,139.22 L216.46,139.16 L216.70,139.10 L216.94,139.04 L217.17,138.99 L217.41,138.93 L217.65,138.87 L217.89,138.82 L218.13,138.76 L218.36,138.71 L218.60,138.66 L218.84,138.60 L219.08,138.55 L219.32,138.50 L219.56,138.45 L219.79,138.40 L220.03,138.35 L220.27,138.31 L220.51,138.26 L220.75,138.21 L220.98,138.16 L221.22,138.12 L221.46,138.07 L221.70,138.02 L221.94,137.97 L222.18,137.91 L222.41,137.86 L222.65,137.81 L222.89,137.75 L223.13,137.70 L223.37,137.64 L223.60,137.59 L223.84,137.53 L224.08,137.48 L224.32,137.42 L224.56,137.36 L224.80,137.31 L225.03,137.25 L225.27,137.19 L225.51,137.14 L225.75,137.08 L225.99,137.03 L226.22,136.97 L226.46,136.91 L226.70,136.86 L226.94,136.81 L227.18,136.80 L227.42,136.80 L227.65,136.80 L227.89,136.80 L228.13,136.80 L228.37,136.80 L228.61,136.80 L228.84,136.80 L229.08,136.80 L229.32,136.80 L229.56,136.80 L229.80,136.80 L230.04,136.80 L230.27,136.80 L230.51,136.80 L230.75,136.80 L230.99,136.80 L231.23,136.80 L231.46,136.80 L231.70,136.80 L231.94,136.80 L232.18,136.80 L232.42,136.80 L232.66,136.80 L232.89,136.80 L233.13,136.80 L233.37,136.80 L233.61,136.80 L233.85,136.80 L234.08,136.80 L234.32,136.80 L234.56,136.80 L234.80,136.80 L235.04,136.80 L235.27,136.80 L235.51,136.80 L235.75,136.80 L235.99,136.80 L236.23,136.80 L236.47,136.80 L236.70,136.80 L236.94,136.80 L237.18,136.80 L237.42,136.80 L237.66,136.80 L237.89,136.80 L238.13,136.80 L238.37,136.80 L238.61,136.80 L238.85,136.80 L239.09,136.80 L239.32,136.80 L239.56,136.80 L239.80,136.80 L240.04,136.80 L240.28,136.80 L240.51,136.80 L240.75,136.80 L240.99,136.80 L241.23,136.80 L241.47,136.80 L241.71,136.80 L241.94,136.80 L242.18,136.80 L242.42,136.80 L242.66,136.80 L242.90,136.80 L243.13,136.80 L243.37,136.80 L243.61,136.80 L243.85,136.80 L244.09,136.80 L244.33,136.80 L244.56,136.80 L244.80,136.80 L245.04,136.80 L245.28,136.80 L245.52,136.80 L245.75,136.80 L245.99,136.80 L246.23,136.80 L246.47,136.80 L246.71,136.80 L246.95,136.80" fill="none" stroke="#f0ac34" stroke-width="1.25" stroke-linejoin="round"/>
<path d="M177.6,20.0H200.1" stroke="#767676" stroke-width="1.3"/>
<text x="202.80" y="23.50" font-size="10" text-anchor="start" letter-spacing="-0.08">0 ppmv</text>
<path d="M177.6,32.3H200.1" stroke="#ff6868" stroke-width="1.3"/>
<text x="202.80" y="35.80" font-size="10" text-anchor="start" letter-spacing="-0.08">500 ppmv</text>
<path d="M177.6,44.0H200.1" stroke="#3a92ee" stroke-width="1.3"/>
<text x="202.80" y="47.50" font-size="10" text-anchor="start" letter-spacing="-0.08">800 ppmv</text>
<path d="M177.6,56.3H200.1" stroke="#30c286" stroke-width="1.3"/>
<text x="202.80" y="59.80" font-size="10" text-anchor="start" letter-spacing="-0.08">1000 ppmv</text>
<path d="M177.6,68.0H200.1" stroke="#da8cf2" stroke-width="1.3"/>
<text x="202.80" y="71.50" font-size="10" text-anchor="start" letter-spacing="-0.08">1500 ppmv</text>
<path d="M177.6,80.3H200.1" stroke="#f0ac34" stroke-width="1.3"/>
<text x="202.80" y="83.80" font-size="10" text-anchor="start" letter-spacing="-0.08">2000 ppmv</text>
<text x="58.30" y="27.30" font-size="10" text-anchor="start" >(a)</text>
<rect x="310.0" y="7.4" width="233.90" height="171.90" fill="none" stroke="#404040" stroke-width="1.5"/>
<path d="M326.10,179.3v-3.2M326.10,7.4v3.2M376.43,179.3v-3.2M376.43,7.4v3.2M426.75,179.3v-3.2M426.75,7.4v3.2M477.08,179.3v-3.2M477.08,7.4v3.2M527.40,179.3v-3.2M527.40,7.4v3.2M351.26,179.3v-1.8M351.26,7.4v1.8M401.59,179.3v-1.8M401.59,7.4v1.8M451.91,179.3v-1.8M451.91,7.4v1.8M502.24,179.3v-1.8M502.24,7.4v1.8M310.0,164.30h3.2M543.9,164.30h-3.2M310.0,117.46h3.2M543.9,117.46h-3.2M310.0,70.62h3.2M543.9,70.62h-3.2M310.0,23.78h3.2M543.9,23.78h-3.2M310.0,140.88h1.8M543.9,140.88h-1.8M310.0,94.04h1.8M543.9,94.04h-1.8M310.0,47.20h1.8M543.9,47.20h-1.8" stroke="#404040" stroke-width="1.3" fill="none"/>
<text x="326.10" y="191.60" font-size="10" text-anchor="middle" >0</text>
<text x="376.43" y="191.60" font-size="10" text-anchor="middle" >500</text>
<text x="426.75" y="191.60" font-size="10" text-anchor="middle" >1000</text>
<text x="477.08" y="191.60" font-size="10" text-anchor="middle" >1500</text>
<text x="527.40" y="191.60" font-size="10" text-anchor="middle" >2000</text>
<text x="306.10" y="167.80" font-size="10" text-anchor="end" >0.0</text>
<text x="306.10" y="120.96" font-size="10" text-anchor="end" >0.2</text>
<text x="306.10" y="74.12" font-size="10" text-anchor="end" >0.4</text>
<text x="306.10" y="27.28" font-size="10" text-anchor="end" >0.6</text>
<text x="372.40" y="202.70" font-size="10" text-anchor="start" textLength="114" lengthAdjust="spacingAndGlyphs">CO<tspan font-size="7.5" dy="2.4">2</tspan><tspan dy="-2.4"> concentration / ppmv</tspan></text>
<path d="M326.4,167.1L527.9,19.3" stroke="#ff6262" stroke-width="1.05" fill="none"/>
<polygon points="326.10,161.60 326.81,163.32 328.67,163.47 327.26,164.68 327.69,166.48 326.10,165.52 324.51,166.48 324.94,164.68 323.53,163.47 325.39,163.32" fill="#0000ff" stroke="none"/>
<polygon points="376.10,127.70 376.81,129.42 378.67,129.57 377.26,130.78 377.69,132.58 376.10,131.62 374.51,132.58 374.94,130.78 373.53,129.57 375.39,129.42" fill="#0000ff" stroke="none"/>
<polygon points="406.80,105.90 407.51,107.62 409.37,107.77 407.96,108.98 408.39,110.78 406.80,109.81 405.21,110.78 405.64,108.98 404.23,107.77 406.09,107.62" fill="#0000ff" stroke="none"/>
<polygon points="426.90,93.40 427.61,95.12 429.47,95.27 428.06,96.48 428.49,98.28 426.90,97.31 425.31,98.28 425.74,96.48 424.33,95.27 426.19,95.12" fill="#0000ff" stroke="none"/>
<polygon points="477.00,57.50 477.71,59.22 479.57,59.37 478.16,60.58 478.59,62.38 477.00,61.42 475.41,62.38 475.84,60.58 474.43,59.37 476.29,59.22" fill="#0000ff" stroke="none"/>
<polygon points="527.40,11.60 528.11,13.32 529.97,13.47 528.56,14.68 528.99,16.48 527.40,15.52 525.81,16.48 526.24,14.68 524.83,13.47 526.69,13.32" fill="#0000ff" stroke="none"/>
<polygon points="359.90,18.60 360.61,20.32 362.47,20.47 361.06,21.68 361.49,23.48 359.90,22.52 358.31,23.48 358.74,21.68 357.33,20.47 359.19,20.32" fill="#0000ff" stroke="none"/>
<path d="M348.3,33.3H371.2" stroke="#ff6262" stroke-width="1.2"/>
<text x="374.20" y="24.50" font-size="10" text-anchor="start" >Measurement</text>
<text x="374.20" y="36.50" font-size="10" text-anchor="start" >Straight-line fit</text>
<text x="321.40" y="26.00" font-size="10" text-anchor="start" >(b)</text>
<text x="436.60" y="123.00" font-size="10" text-anchor="start" textLength="81.8" lengthAdjust="spacingAndGlyphs">Slope = 3.16×10<tspan font-size="7" dy="-3.8">−4</tspan></text>
<text x="436.60" y="136.40" font-size="10" text-anchor="start" textLength="68" lengthAdjust="spacingAndGlyphs">Adj. R<tspan font-size="7" dy="-3.8">2</tspan><tspan dy="3.8"> = 0.995</tspan></text>
<rect x="39.7" y="215.7" width="217.20" height="174.70" fill="none" stroke="#404040" stroke-width="1.5"/>
<path d="M89.85,390.4v-3.2M89.85,215.7v3.2M140.00,390.4v-3.2M140.00,215.7v3.2M190.15,390.4v-3.2M190.15,215.7v3.2M240.30,390.4v-3.2M240.30,215.7v3.2M64.78,390.4v-1.8M64.78,215.7v1.8M114.92,390.4v-1.8M114.92,215.7v1.8M165.07,390.4v-1.8M165.07,215.7v1.8M215.22,390.4v-1.8M215.22,215.7v1.8M39.7,377.10h3.2M256.9,377.10h-3.2M39.7,336.75h3.2M256.9,336.75h-3.2M39.7,296.40h3.2M256.9,296.40h-3.2M39.7,256.05h3.2M256.9,256.05h-3.2M39.7,356.93h1.8M256.9,356.93h-1.8M39.7,316.57h1.8M256.9,316.57h-1.8M39.7,276.23h1.8M256.9,276.23h-1.8M39.7,235.88h1.8M256.9,235.88h-1.8" stroke="#404040" stroke-width="1.3" fill="none"/>
<text x="39.70" y="400.30" font-size="10" text-anchor="middle" >0</text>
<text x="89.85" y="400.30" font-size="10" text-anchor="middle" >100</text>
<text x="140.00" y="400.30" font-size="10" text-anchor="middle" >200</text>
<text x="190.15" y="400.30" font-size="10" text-anchor="middle" >300</text>
<text x="240.30" y="400.30" font-size="10" text-anchor="middle" >400</text>
<text x="38.80" y="222.30" font-size="10" text-anchor="end" >0.9</text>
<text x="38.80" y="260.55" font-size="10" text-anchor="end" >0.6</text>
<text x="38.80" y="300.50" font-size="10" text-anchor="end" >0.3</text>
<text x="38.80" y="340.85" font-size="10" text-anchor="end" >0.0</text>
<text x="38.80" y="381.60" font-size="10" text-anchor="end" >−0.3</text>
<text x="148.00" y="412.40" font-size="10" text-anchor="middle" >Sample point</text>
<path d="M39.70,337.04 L39.95,337.04 L40.20,337.05 L40.45,337.05 L40.70,337.05 L40.96,337.06 L41.21,337.06 L41.46,337.06 L41.71,337.06 L41.96,337.07 L42.21,337.07 L42.46,337.07 L42.71,337.08 L42.96,337.08 L43.21,337.08 L43.47,337.09 L43.72,337.09 L43.97,337.09 L44.22,337.10 L44.47,337.10 L44.72,337.10 L44.97,337.11 L45.22,337.11 L45.47,337.11 L45.72,337.12 L45.98,337.12 L46.23,337.12 L46.48,337.13 L46.73,337.13 L46.98,337.13 L47.23,337.14 L47.48,337.14 L47.73,337.14 L47.98,337.15 L48.24,337.15 L48.49,337.15 L48.74,337.16 L48.99,337.16 L49.24,337.16 L49.49,337.17 L49.74,337.17 L49.99,337.17 L50.24,337.18 L50.49,337.18 L50.75,337.18 L51.00,337.19 L51.25,337.19 L51.50,337.19 L51.75,337.20 L52.00,337.20 L52.25,337.20 L52.50,337.21 L52.75,337.21 L53.01,337.22 L53.26,337.22 L53.51,337.22 L53.76,337.23 L54.01,337.23 L54.26,337.23 L54.51,337.24 L54.76,337.24 L55.01,337.25 L55.26,337.25 L55.52,337.26 L55.77,337.26 L56.02,337.27 L56.27,337.27 L56.52,337.27 L56.77,337.28 L57.02,337.28 L57.27,337.29 L57.52,337.29 L57.77,337.30 L58.03,337.30 L58.28,337.31 L58.53,337.32 L58.78,337.32 L59.03,337.33 L59.28,337.33 L59.53,337.34 L59.78,337.34 L60.03,337.35 L60.29,337.35 L60.54,337.36 L60.79,337.37 L61.04,337.37 L61.29,337.38 L61.54,337.38 L61.79,337.39 L62.04,337.39 L62.29,337.40 L62.54,337.41 L62.80,337.41 L63.05,337.42 L63.30,337.42 L63.55,337.43 L63.80,337.44 L64.05,337.44 L64.30,337.45 L64.55,337.45 L64.80,337.46 L65.06,337.47 L65.31,337.47 L65.56,337.48 L65.81,337.48 L66.06,337.49 L66.31,337.50 L66.56,337.50 L66.81,337.51 L67.06,337.52 L67.31,337.52 L67.57,337.53 L67.82,337.54 L68.07,337.54 L68.32,337.55 L68.57,337.55 L68.82,337.56 L69.07,337.57 L69.32,337.57 L69.57,337.58 L69.82,337.59 L70.08,337.59 L70.33,337.60 L70.58,337.61 L70.83,337.61 L71.08,337.62 L71.33,337.63 L71.58,337.64 L71.83,337.64 L72.08,337.65 L72.34,337.66 L72.59,337.67 L72.84,337.68 L73.09,337.69 L73.34,337.70 L73.59,337.71 L73.84,337.72 L74.09,337.73 L74.34,337.74 L74.59,337.75 L74.85,337.76 L75.10,337.77 L75.35,337.79 L75.60,337.80 L75.85,337.81 L76.10,337.82 L76.35,337.84 L76.60,337.85 L76.85,337.87 L77.10,337.88 L77.36,337.90 L77.61,337.91 L77.86,337.93 L78.11,337.94 L78.36,337.96 L78.61,337.98 L78.86,338.00 L79.11,338.01 L79.36,338.03 L79.62,338.05 L79.87,338.07 L80.12,338.09 L80.37,338.11 L80.62,338.13 L80.87,338.15 L81.12,338.17 L81.37,338.20 L81.62,338.22 L81.87,338.24 L82.13,338.26 L82.38,338.29 L82.63,338.31 L82.88,338.34 L83.13,338.36 L83.38,338.39 L83.63,338.41 L83.88,338.44 L84.13,338.46 L84.39,338.49 L84.64,338.52 L84.89,338.55 L85.14,338.58 L85.39,338.61 L85.64,338.64 L85.89,338.67 L86.14,338.70 L86.39,338.73 L86.64,338.77 L86.90,338.80 L87.15,338.84 L87.40,338.87 L87.65,338.91 L87.90,338.95 L88.15,338.99 L88.40,339.03 L88.65,339.06 L88.90,339.11 L89.15,339.15 L89.41,339.19 L89.66,339.23 L89.91,339.27 L90.16,339.32 L90.41,339.36 L90.66,339.41 L90.91,339.45 L91.16,339.50 L91.41,339.55 L91.67,339.59 L91.92,339.64 L92.17,339.69 L92.42,339.74 L92.67,339.79 L92.92,339.84 L93.17,339.90 L93.42,339.95 L93.67,340.00 L93.92,340.06 L94.18,340.11 L94.43,340.17 L94.68,340.22 L94.93,340.28 L95.18,340.33 L95.43,340.39 L95.68,340.45 L95.93,340.50 L96.18,340.56 L96.44,340.62 L96.69,340.67 L96.94,340.73 L97.19,340.79 L97.44,340.85 L97.69,340.90 L97.94,340.96 L98.19,341.02 L98.44,341.08 L98.69,341.14 L98.95,341.20 L99.20,341.27 L99.45,341.33 L99.70,341.39 L99.95,341.46 L100.20,341.52 L100.45,341.59 L100.70,341.65 L100.95,341.72 L101.20,341.79 L101.46,341.85 L101.71,341.92 L101.96,341.99 L102.21,342.06 L102.46,342.13 L102.71,342.21 L102.96,342.28 L103.21,342.35 L103.46,342.42 L103.72,342.49 L103.97,342.56 L104.22,342.63 L104.47,342.70 L104.72,342.77 L104.97,342.84 L105.22,342.90 L105.47,342.97 L105.72,343.04 L105.97,343.10 L106.23,343.16 L106.48,343.23 L106.73,343.29 L106.98,343.34 L107.23,343.40 L107.48,343.46 L107.73,343.51 L107.98,343.56 L108.23,343.61 L108.48,343.66 L108.74,343.72 L108.99,343.77 L109.24,343.82 L109.49,343.87 L109.74,343.92 L109.99,343.97 L110.24,344.02 L110.49,344.06 L110.74,344.10 L111.00,344.13 L111.25,344.16 L111.50,344.19 L111.75,344.21 L112.00,344.22 L112.25,344.23 L112.50,344.22 L112.75,344.21 L113.00,344.20 L113.25,344.18 L113.51,344.16 L113.76,344.14 L114.01,344.11 L114.26,344.07 L114.51,344.04 L114.76,343.99 L115.01,343.95 L115.26,343.90 L115.51,343.84 L115.77,343.79 L116.02,343.72 L116.27,343.66 L116.52,343.59 L116.77,343.51 L117.02,343.43 L117.27,343.35 L117.52,343.26 L117.77,343.17 L118.02,343.07 L118.28,342.97 L118.53,342.86 L118.78,342.75 L119.03,342.64 L119.28,342.52 L119.53,342.40 L119.78,342.27 L120.03,342.14 L120.28,342.00 L120.53,341.86 L120.79,341.72 L121.04,341.57 L121.29,341.41 L121.54,341.26 L121.79,341.09 L122.04,340.93 L122.29,340.76 L122.54,340.58 L122.79,340.41 L123.05,340.22 L123.30,340.04 L123.55,339.85 L123.80,339.65 L124.05,339.46 L124.30,339.25 L124.55,339.05 L124.80,338.84 L125.05,338.63 L125.30,338.41 L125.56,338.19 L125.81,337.97 L126.06,337.75 L126.31,337.52 L126.56,337.29 L126.81,337.05 L127.06,336.81 L127.31,336.57 L127.56,336.33 L127.81,336.09 L128.07,335.84 L128.32,335.59 L128.57,335.33 L128.82,335.08 L129.07,334.82 L129.32,334.56 L129.57,334.29 L129.82,334.03 L130.07,333.76 L130.33,333.50 L130.58,333.23 L130.83,332.95 L131.08,332.68 L131.33,332.41 L131.58,332.13 L131.83,331.86 L132.08,331.58 L132.33,331.30 L132.58,331.02 L132.84,330.74 L133.09,330.46 L133.34,330.19 L133.59,329.91 L133.84,329.63 L134.09,329.35 L134.34,329.07 L134.59,328.79 L134.84,328.52 L135.10,328.24 L135.35,327.97 L135.60,327.69 L135.85,327.42 L136.10,327.15 L136.35,326.88 L136.60,326.61 L136.85,326.35 L137.10,326.09 L137.35,325.83 L137.61,325.57 L137.86,325.31 L138.11,325.06 L138.36,324.81 L138.61,324.56 L138.86,324.32 L139.11,324.08 L139.36,323.85 L139.61,323.61 L139.86,323.38 L140.12,323.16 L140.37,322.94 L140.62,322.72 L140.87,322.51 L141.12,322.31 L141.37,322.10 L141.62,321.91 L141.87,321.71 L142.12,321.53 L142.38,321.34 L142.63,321.17 L142.88,320.99 L143.13,320.83 L143.38,320.67 L143.63,320.51 L143.88,320.37 L144.13,320.22 L144.38,320.09 L144.63,319.96 L144.89,319.83 L145.14,319.71 L145.39,319.60 L145.64,319.50 L145.89,319.40 L146.14,319.30 L146.39,319.22 L146.64,319.14 L146.89,319.07 L147.15,319.00 L147.40,318.94 L147.65,318.89 L147.90,318.85 L148.15,318.81 L148.40,318.78 L148.65,318.76 L148.90,318.74 L149.15,318.73 L149.40,318.73 L149.66,318.73 L149.91,318.74 L150.16,318.76 L150.41,318.79 L150.66,318.82 L150.91,318.86 L151.16,318.90 L151.41,318.95 L151.66,319.01 L151.91,319.08 L152.17,319.15 L152.42,319.23 L152.67,319.32 L152.92,319.41 L153.17,319.51 L153.42,319.62 L153.67,319.73 L153.92,319.85 L154.17,319.97 L154.43,320.10 L154.68,320.24 L154.93,320.38 L155.18,320.53 L155.43,320.69 L155.68,320.85 L155.93,321.01 L156.18,321.18 L156.43,321.36 L156.68,321.54 L156.94,321.73 L157.19,321.92 L157.44,322.12 L157.69,322.32 L157.94,322.53 L158.19,322.74 L158.44,322.95 L158.69,323.17 L158.94,323.40 L159.19,323.62 L159.45,323.86 L159.70,324.09 L159.95,324.33 L160.20,324.57 L160.45,324.82 L160.70,325.07 L160.95,325.32 L161.20,325.57 L161.45,325.83 L161.71,326.09 L161.96,326.35 L162.21,326.61 L162.46,326.88 L162.71,327.15 L162.96,327.42 L163.21,327.69 L163.46,327.96 L163.71,328.23 L163.96,328.51 L164.22,328.78 L164.47,329.06 L164.72,329.34 L164.97,329.61 L165.22,329.89 L165.47,330.17 L165.72,330.45 L165.97,330.72 L166.22,331.00 L166.48,331.28 L166.73,331.55 L166.98,331.83 L167.23,332.10 L167.48,332.38 L167.73,332.65 L167.98,332.92 L168.23,333.19 L168.48,333.46 L168.73,333.73 L168.99,333.99 L169.24,334.26 L169.49,334.52 L169.74,334.78 L169.99,335.04 L170.24,335.29 L170.49,335.54 L170.74,335.79 L170.99,336.04 L171.24,336.28 L171.50,336.53 L171.75,336.77 L172.00,337.00 L172.25,337.23 L172.50,337.47 L172.75,337.69 L173.00,337.92 L173.25,338.14 L173.50,338.36 L173.76,338.58 L174.01,338.79 L174.26,339.00 L174.51,339.21 L174.76,339.41 L175.01,339.61 L175.26,339.81 L175.51,340.00 L175.76,340.19 L176.01,340.37 L176.27,340.55 L176.52,340.73 L176.77,340.90 L177.02,341.07 L177.27,341.24 L177.52,341.40 L177.77,341.55 L178.02,341.71 L178.27,341.85 L178.53,342.00 L178.78,342.14 L179.03,342.27 L179.28,342.40 L179.53,342.53 L179.78,342.65 L180.03,342.77 L180.28,342.88 L180.53,342.99 L180.78,343.09 L181.04,343.19 L181.29,343.29 L181.54,343.38 L181.79,343.46 L182.04,343.54 L182.29,343.62 L182.54,343.69 L182.79,343.76 L183.04,343.82 L183.29,343.88 L183.55,343.94 L183.80,343.99 L184.05,344.03 L184.30,344.08 L184.55,344.11 L184.80,344.15 L185.05,344.17 L185.30,344.20 L185.55,344.22 L185.81,344.23 L186.06,344.25 L186.31,344.25 L186.56,344.26 L186.81,344.26 L187.06,344.26 L187.31,344.25 L187.56,344.24 L187.81,344.23 L188.06,344.21 L188.32,344.19 L188.57,344.17 L188.82,344.15 L189.07,344.12 L189.32,344.09 L189.57,344.05 L189.82,344.02 L190.07,343.98 L190.32,343.94 L190.57,343.89 L190.83,343.85 L191.08,343.80 L191.33,343.75 L191.58,343.70 L191.83,343.64 L192.08,343.59 L192.33,343.53 L192.58,343.47 L192.83,343.41 L193.09,343.35 L193.34,343.28 L193.59,343.21 L193.84,343.15 L194.09,343.08 L194.34,343.01 L194.59,342.94 L194.84,342.87 L195.09,342.79 L195.34,342.72 L195.60,342.65 L195.85,342.57 L196.10,342.50 L196.35,342.42 L196.60,342.34 L196.85,342.26 L197.10,342.18 L197.35,342.10 L197.60,342.02 L197.86,341.93 L198.11,341.85 L198.36,341.76 L198.61,341.67 L198.86,341.58 L199.11,341.49 L199.36,341.40 L199.61,341.32 L199.86,341.23 L200.11,341.14 L200.37,341.05 L200.62,340.96 L200.87,340.87 L201.12,340.79 L201.37,340.70 L201.62,340.62 L201.87,340.54 L202.12,340.46 L202.37,340.38 L202.62,340.30 L202.88,340.23 L203.13,340.16 L203.38,340.09 L203.63,340.02 L203.88,339.95 L204.13,339.89 L204.38,339.83 L204.63,339.77 L204.88,339.70 L205.14,339.65 L205.39,339.59 L205.64,339.53 L205.89,339.47 L206.14,339.42 L206.39,339.37 L206.64,339.31 L206.89,339.26 L207.14,339.21 L207.39,339.16 L207.65,339.11 L207.90,339.07 L208.15,339.02 L208.40,338.98 L208.65,338.93 L208.90,338.89 L209.15,338.84 L209.40,338.80 L209.65,338.76 L209.91,338.72 L210.16,338.68 L210.41,338.64 L210.66,338.60 L210.91,338.57 L211.16,338.53 L211.41,338.50 L211.66,338.47 L211.91,338.44 L212.16,338.41 L212.42,338.39 L212.67,338.36 L212.92,338.34 L213.17,338.32 L213.42,338.29 L213.67,338.27 L213.92,338.25 L214.17,338.23 L214.42,338.22 L214.67,338.20 L214.93,338.18 L215.18,338.16 L215.43,338.14 L215.68,338.13 L215.93,338.11 L216.18,338.09 L216.43,338.07 L216.68,338.06 L216.93,338.04 L217.19,338.02 L217.44,338.00 L217.69,337.98 L217.94,337.97 L218.19,337.95 L218.44,337.93 L218.69,337.92 L218.94,337.90 L219.19,337.89 L219.44,337.87 L219.70,337.86 L219.95,337.85 L220.20,337.83 L220.45,337.82 L220.70,337.81 L220.95,337.79 L221.20,337.78 L221.45,337.77 L221.70,337.76 L221.95,337.74 L222.21,337.73 L222.46,337.72 L222.71,337.71 L222.96,337.70 L223.21,337.69 L223.46,337.67 L223.71,337.66 L223.96,337.65 L224.21,337.64 L224.47,337.63 L224.72,337.61 L224.97,337.60 L225.22,337.59 L225.47,337.58 L225.72,337.57 L225.97,337.56 L226.22,337.55 L226.47,337.55 L226.72,337.54 L226.98,337.53 L227.23,337.52 L227.48,337.51 L227.73,337.50 L227.98,337.50 L228.23,337.49 L228.48,337.48 L228.73,337.48 L228.98,337.47 L229.24,337.46 L229.49,337.46 L229.74,337.45 L229.99,337.44 L230.24,337.44 L230.49,337.43 L230.74,337.43 L230.99,337.42 L231.24,337.42 L231.49,337.41 L231.75,337.41 L232.00,337.40 L232.25,337.40 L232.50,337.39 L232.75,337.39 L233.00,337.38 L233.25,337.38 L233.50,337.38 L233.75,337.37 L234.00,337.37 L234.26,337.36 L234.51,337.36 L234.76,337.36 L235.01,337.35 L235.26,337.35 L235.51,337.34 L235.76,337.34 L236.01,337.34 L236.26,337.33 L236.52,337.33 L236.77,337.33 L237.02,337.32 L237.27,337.32 L237.52,337.32 L237.77,337.31 L238.02,337.31 L238.27,337.31 L238.52,337.30 L238.77,337.30 L239.03,337.30 L239.28,337.29 L239.53,337.29 L239.78,337.29 L240.03,337.29 L240.28,337.28 L240.53,337.28 L240.78,337.28 L241.03,337.27 L241.29,337.27 L241.54,337.27 L241.79,337.26 L242.04,337.26 L242.29,337.26 L242.54,337.25 L242.79,337.25 L243.04,337.25 L243.29,337.24 L243.54,337.24 L243.80,337.24 L244.05,337.23 L244.30,337.23 L244.55,337.23 L244.80,337.23 L245.05,337.22 L245.30,337.22 L245.55,337.22 L245.80,337.21 L246.05,337.21 L246.31,337.21 L246.56,337.20 L246.81,337.20 L247.06,337.20 L247.31,337.19 L247.56,337.19 L247.81,337.19 L248.06,337.19 L248.31,337.18 L248.57,337.18 L248.82,337.18 L249.07,337.17 L249.32,337.17 L249.57,337.17 L249.82,337.17 L250.07,337.16 L250.32,337.16 L250.57,337.16 L250.82,337.15 L251.08,337.15 L251.33,337.15 L251.58,337.15 L251.83,337.14 L252.08,337.14 L252.33,337.14 L252.58,337.14 L252.83,337.13 L253.08,337.13 L253.33,337.13 L253.59,337.12 L253.84,337.12 L254.09,337.12 L254.34,337.12 L254.59,337.11 L254.84,337.11 L255.09,337.11 L255.34,337.10 L255.59,337.10 L255.85,337.10 L256.10,337.10 L256.35,337.09 L256.60,337.09 L256.85,337.09" fill="none" stroke="#6a6a6a" stroke-width="1.25" stroke-linejoin="round"/>
<path d="M39.70,337.33 L39.95,337.33 L40.20,337.34 L40.45,337.34 L40.70,337.35 L40.96,337.36 L41.21,337.36 L41.46,337.37 L41.71,337.38 L41.96,337.38 L42.21,337.39 L42.46,337.39 L42.71,337.40 L42.96,337.41 L43.21,337.41 L43.47,337.42 L43.72,337.43 L43.97,337.43 L44.22,337.44 L44.47,337.44 L44.72,337.45 L44.97,337.46 L45.22,337.46 L45.47,337.47 L45.72,337.48 L45.98,337.48 L46.23,337.49 L46.48,337.50 L46.73,337.50 L46.98,337.51 L47.23,337.52 L47.48,337.52 L47.73,337.53 L47.98,337.53 L48.24,337.54 L48.49,337.55 L48.74,337.55 L48.99,337.56 L49.24,337.57 L49.49,337.58 L49.74,337.58 L49.99,337.59 L50.24,337.60 L50.49,337.60 L50.75,337.61 L51.00,337.62 L51.25,337.62 L51.50,337.63 L51.75,337.64 L52.00,337.65 L52.25,337.65 L52.50,337.66 L52.75,337.67 L53.01,337.67 L53.26,337.68 L53.51,337.69 L53.76,337.70 L54.01,337.70 L54.26,337.71 L54.51,337.72 L54.76,337.73 L55.01,337.74 L55.26,337.75 L55.52,337.76 L55.77,337.76 L56.02,337.77 L56.27,337.78 L56.52,337.79 L56.77,337.80 L57.02,337.81 L57.27,337.82 L57.52,337.83 L57.77,337.84 L58.03,337.85 L58.28,337.86 L58.53,337.87 L58.78,337.88 L59.03,337.89 L59.28,337.90 L59.53,337.92 L59.78,337.93 L60.03,337.94 L60.29,337.95 L60.54,337.96 L60.79,337.97 L61.04,337.98 L61.29,337.99 L61.54,338.01 L61.79,338.02 L62.04,338.03 L62.29,338.04 L62.54,338.05 L62.80,338.06 L63.05,338.08 L63.30,338.09 L63.55,338.10 L63.80,338.11 L64.05,338.12 L64.30,338.14 L64.55,338.15 L64.80,338.16 L65.06,338.17 L65.31,338.18 L65.56,338.20 L65.81,338.21 L66.06,338.22 L66.31,338.23 L66.56,338.25 L66.81,338.26 L67.06,338.27 L67.31,338.28 L67.57,338.30 L67.82,338.31 L68.07,338.32 L68.32,338.33 L68.57,338.35 L68.82,338.36 L69.07,338.37 L69.32,338.38 L69.57,338.40 L69.82,338.41 L70.08,338.42 L70.33,338.44 L70.58,338.45 L70.83,338.46 L71.08,338.48 L71.33,338.49 L71.58,338.51 L71.83,338.52 L72.08,338.54 L72.34,338.55 L72.59,338.57 L72.84,338.59 L73.09,338.61 L73.34,338.63 L73.59,338.65 L73.84,338.67 L74.09,338.69 L74.34,338.71 L74.59,338.73 L74.85,338.76 L75.10,338.78 L75.35,338.80 L75.60,338.83 L75.85,338.86 L76.10,338.88 L76.35,338.91 L76.60,338.94 L76.85,338.97 L77.10,338.99 L77.36,339.02 L77.61,339.06 L77.86,339.09 L78.11,339.12 L78.36,339.15 L78.61,339.19 L78.86,339.22 L79.11,339.26 L79.36,339.29 L79.62,339.33 L79.87,339.37 L80.12,339.41 L80.37,339.45 L80.62,339.49 L80.87,339.53 L81.12,339.58 L81.37,339.62 L81.62,339.67 L81.87,339.71 L82.13,339.76 L82.38,339.80 L82.63,339.85 L82.88,339.90 L83.13,339.95 L83.38,340.00 L83.63,340.05 L83.88,340.10 L84.13,340.15 L84.39,340.21 L84.64,340.26 L84.89,340.32 L85.14,340.38 L85.39,340.44 L85.64,340.50 L85.89,340.56 L86.14,340.62 L86.39,340.69 L86.64,340.76 L86.90,340.82 L87.15,340.89 L87.40,340.97 L87.65,341.04 L87.90,341.11 L88.15,341.19 L88.40,341.27 L88.65,341.35 L88.90,341.43 L89.15,341.51 L89.41,341.59 L89.66,341.67 L89.91,341.76 L90.16,341.85 L90.41,341.93 L90.66,342.02 L90.91,342.11 L91.16,342.21 L91.41,342.30 L91.67,342.40 L91.92,342.49 L92.17,342.59 L92.42,342.69 L92.67,342.79 L92.92,342.89 L93.17,343.00 L93.42,343.10 L93.67,343.21 L93.92,343.31 L94.18,343.42 L94.43,343.53 L94.68,343.64 L94.93,343.76 L95.18,343.87 L95.43,343.98 L95.68,344.09 L95.93,344.20 L96.18,344.31 L96.44,344.42 L96.69,344.54 L96.94,344.65 L97.19,344.77 L97.44,344.88 L97.69,345.00 L97.94,345.11 L98.19,345.23 L98.44,345.35 L98.69,345.47 L98.95,345.59 L99.20,345.71 L99.45,345.84 L99.70,345.96 L99.95,346.09 L100.20,346.22 L100.45,346.35 L100.70,346.48 L100.95,346.61 L101.20,346.75 L101.46,346.88 L101.71,347.02 L101.96,347.16 L102.21,347.30 L102.46,347.44 L102.71,347.58 L102.96,347.72 L103.21,347.86 L103.46,348.00 L103.72,348.14 L103.97,348.28 L104.22,348.42 L104.47,348.56 L104.72,348.69 L104.97,348.83 L105.22,348.96 L105.47,349.10 L105.72,349.23 L105.97,349.35 L106.23,349.48 L106.48,349.60 L106.73,349.72 L106.98,349.84 L107.23,349.96 L107.48,350.07 L107.73,350.17 L107.98,350.28 L108.23,350.38 L108.48,350.48 L108.74,350.58 L108.99,350.68 L109.24,350.78 L109.49,350.89 L109.74,350.99 L109.99,351.08 L110.24,351.17 L110.49,351.26 L110.74,351.34 L111.00,351.41 L111.25,351.47 L111.50,351.52 L111.75,351.56 L112.00,351.58 L112.25,351.59 L112.50,351.59 L112.75,351.57 L113.00,351.54 L113.25,351.51 L113.51,351.46 L113.76,351.41 L114.01,351.35 L114.26,351.29 L114.51,351.21 L114.76,351.13 L115.01,351.04 L115.26,350.94 L115.51,350.83 L115.77,350.72 L116.02,350.59 L116.27,350.46 L116.52,350.32 L116.77,350.17 L117.02,350.01 L117.27,349.85 L117.52,349.67 L117.77,349.49 L118.02,349.30 L118.28,349.10 L118.53,348.89 L118.78,348.67 L119.03,348.44 L119.28,348.21 L119.53,347.96 L119.78,347.71 L120.03,347.45 L120.28,347.18 L120.53,346.90 L120.79,346.61 L121.04,346.31 L121.29,346.01 L121.54,345.70 L121.79,345.37 L122.04,345.05 L122.29,344.71 L122.54,344.36 L122.79,344.01 L123.05,343.65 L123.30,343.28 L123.55,342.90 L123.80,342.51 L124.05,342.12 L124.30,341.72 L124.55,341.31 L124.80,340.90 L125.05,340.48 L125.30,340.05 L125.56,339.61 L125.81,339.17 L126.06,338.73 L126.31,338.27 L126.56,337.81 L126.81,337.35 L127.06,336.88 L127.31,336.40 L127.56,335.92 L127.81,335.43 L128.07,334.94 L128.32,334.44 L128.57,333.94 L128.82,333.43 L129.07,332.92 L129.32,332.40 L129.57,331.88 L129.82,331.35 L130.07,330.82 L130.33,330.29 L130.58,329.75 L130.83,329.21 L131.08,328.67 L131.33,328.13 L131.58,327.58 L131.83,327.03 L132.08,326.48 L132.33,325.93 L132.58,325.38 L132.84,324.83 L133.09,324.27 L133.34,323.72 L133.59,323.16 L133.84,322.61 L134.09,322.06 L134.34,321.51 L134.59,320.95 L134.84,320.40 L135.10,319.86 L135.35,319.31 L135.60,318.77 L135.85,318.23 L136.10,317.69 L136.35,317.16 L136.60,316.63 L136.85,316.10 L137.10,315.58 L137.35,315.06 L137.61,314.55 L137.86,314.05 L138.11,313.54 L138.36,313.05 L138.61,312.56 L138.86,312.08 L139.11,311.60 L139.36,311.13 L139.61,310.67 L139.86,310.22 L140.12,309.77 L140.37,309.34 L140.62,308.91 L140.87,308.49 L141.12,308.08 L141.37,307.68 L141.62,307.28 L141.87,306.90 L142.12,306.53 L142.38,306.17 L142.63,305.82 L142.88,305.47 L143.13,305.15 L143.38,304.83 L143.63,304.52 L143.88,304.22 L144.13,303.94 L144.38,303.67 L144.63,303.41 L144.89,303.16 L145.14,302.93 L145.39,302.71 L145.64,302.50 L145.89,302.30 L146.14,302.12 L146.39,301.95 L146.64,301.79 L146.89,301.65 L147.15,301.52 L147.40,301.41 L147.65,301.30 L147.90,301.21 L148.15,301.14 L148.40,301.08 L148.65,301.03 L148.90,301.00 L149.15,300.98 L149.40,300.97 L149.66,300.98 L149.91,301.00 L150.16,301.04 L150.41,301.09 L150.66,301.15 L150.91,301.23 L151.16,301.32 L151.41,301.42 L151.66,301.54 L151.91,301.67 L152.17,301.82 L152.42,301.98 L152.67,302.15 L152.92,302.33 L153.17,302.53 L153.42,302.74 L153.67,302.96 L153.92,303.20 L154.17,303.44 L154.43,303.70 L154.68,303.97 L154.93,304.26 L155.18,304.55 L155.43,304.86 L155.68,305.18 L155.93,305.51 L156.18,305.85 L156.43,306.20 L156.68,306.56 L156.94,306.93 L157.19,307.31 L157.44,307.71 L157.69,308.11 L157.94,308.52 L158.19,308.94 L158.44,309.36 L158.69,309.80 L158.94,310.24 L159.19,310.70 L159.45,311.16 L159.70,311.62 L159.95,312.10 L160.20,312.58 L160.45,313.06 L160.70,313.56 L160.95,314.06 L161.20,314.56 L161.45,315.07 L161.71,315.59 L161.96,316.10 L162.21,316.63 L162.46,317.16 L162.71,317.69 L162.96,318.22 L163.21,318.76 L163.46,319.30 L163.71,319.84 L163.96,320.39 L164.22,320.93 L164.47,321.48 L164.72,322.03 L164.97,322.58 L165.22,323.13 L165.47,323.68 L165.72,324.24 L165.97,324.79 L166.22,325.34 L166.48,325.89 L166.73,326.44 L166.98,326.98 L167.23,327.53 L167.48,328.07 L167.73,328.61 L167.98,329.15 L168.23,329.69 L168.48,330.22 L168.73,330.75 L168.99,331.28 L169.24,331.80 L169.49,332.32 L169.74,332.84 L169.99,333.35 L170.24,333.85 L170.49,334.35 L170.74,334.85 L170.99,335.34 L171.24,335.83 L171.50,336.31 L171.75,336.78 L172.00,337.25 L172.25,337.71 L172.50,338.17 L172.75,338.62 L173.00,339.07 L173.25,339.51 L173.50,339.95 L173.76,340.38 L174.01,340.80 L174.26,341.22 L174.51,341.63 L174.76,342.03 L175.01,342.43 L175.26,342.82 L175.51,343.20 L175.76,343.58 L176.01,343.94 L176.27,344.30 L176.52,344.65 L176.77,345.00 L177.02,345.33 L177.27,345.66 L177.52,345.98 L177.77,346.29 L178.02,346.59 L178.27,346.88 L178.53,347.17 L178.78,347.44 L179.03,347.71 L179.28,347.97 L179.53,348.22 L179.78,348.46 L180.03,348.69 L180.28,348.92 L180.53,349.13 L180.78,349.34 L181.04,349.54 L181.29,349.72 L181.54,349.90 L181.79,350.07 L182.04,350.24 L182.29,350.39 L182.54,350.53 L182.79,350.67 L183.04,350.79 L183.29,350.91 L183.55,351.02 L183.80,351.12 L184.05,351.21 L184.30,351.29 L184.55,351.37 L184.80,351.43 L185.05,351.49 L185.30,351.54 L185.55,351.58 L185.81,351.61 L186.06,351.63 L186.31,351.65 L186.56,351.66 L186.81,351.66 L187.06,351.65 L187.31,351.64 L187.56,351.62 L187.81,351.60 L188.06,351.57 L188.32,351.53 L188.57,351.48 L188.82,351.43 L189.07,351.38 L189.32,351.32 L189.57,351.25 L189.82,351.18 L190.07,351.10 L190.32,351.02 L190.57,350.93 L190.83,350.84 L191.08,350.75 L191.33,350.65 L191.58,350.54 L191.83,350.43 L192.08,350.32 L192.33,350.21 L192.58,350.09 L192.83,349.97 L193.09,349.84 L193.34,349.71 L193.59,349.58 L193.84,349.45 L194.09,349.31 L194.34,349.18 L194.59,349.04 L194.84,348.89 L195.09,348.75 L195.34,348.60 L195.60,348.45 L195.85,348.31 L196.10,348.15 L196.35,348.00 L196.60,347.85 L196.85,347.70 L197.10,347.54 L197.35,347.37 L197.60,347.21 L197.86,347.04 L198.11,346.87 L198.36,346.69 L198.61,346.52 L198.86,346.34 L199.11,346.17 L199.36,345.99 L199.61,345.81 L199.86,345.63 L200.11,345.46 L200.37,345.28 L200.62,345.11 L200.87,344.93 L201.12,344.76 L201.37,344.59 L201.62,344.43 L201.87,344.27 L202.12,344.11 L202.37,343.95 L202.62,343.80 L202.88,343.65 L203.13,343.51 L203.38,343.37 L203.63,343.24 L203.88,343.11 L204.13,342.98 L204.38,342.86 L204.63,342.74 L204.88,342.62 L205.14,342.50 L205.39,342.38 L205.64,342.27 L205.89,342.16 L206.14,342.05 L206.39,341.94 L206.64,341.84 L206.89,341.74 L207.14,341.64 L207.39,341.54 L207.65,341.44 L207.90,341.35 L208.15,341.26 L208.40,341.17 L208.65,341.08 L208.90,340.99 L209.15,340.91 L209.40,340.82 L209.65,340.74 L209.91,340.66 L210.16,340.58 L210.41,340.50 L210.66,340.43 L210.91,340.36 L211.16,340.29 L211.41,340.23 L211.66,340.17 L211.91,340.11 L212.16,340.05 L212.42,340.00 L212.67,339.95 L212.92,339.91 L213.17,339.86 L213.42,339.82 L213.67,339.77 L213.92,339.73 L214.17,339.70 L214.42,339.66 L214.67,339.62 L214.93,339.59 L215.18,339.55 L215.43,339.52 L215.68,339.48 L215.93,339.45 L216.18,339.41 L216.43,339.38 L216.68,339.34 L216.93,339.30 L217.19,339.27 L217.44,339.23 L217.69,339.20 L217.94,339.16 L218.19,339.13 L218.44,339.10 L218.69,339.07 L218.94,339.04 L219.19,339.01 L219.44,338.98 L219.70,338.95 L219.95,338.92 L220.20,338.90 L220.45,338.87 L220.70,338.85 L220.95,338.82 L221.20,338.80 L221.45,338.77 L221.70,338.75 L221.95,338.72 L222.21,338.70 L222.46,338.68 L222.71,338.65 L222.96,338.63 L223.21,338.61 L223.46,338.58 L223.71,338.56 L223.96,338.54 L224.21,338.51 L224.47,338.49 L224.72,338.47 L224.97,338.45 L225.22,338.42 L225.47,338.40 L225.72,338.38 L225.97,338.37 L226.22,338.35 L226.47,338.33 L226.72,338.31 L226.98,338.29 L227.23,338.28 L227.48,338.26 L227.73,338.25 L227.98,338.23 L228.23,338.22 L228.48,338.20 L228.73,338.19 L228.98,338.18 L229.24,338.16 L229.49,338.15 L229.74,338.14 L229.99,338.13 L230.24,338.12 L230.49,338.10 L230.74,338.09 L230.99,338.08 L231.24,338.07 L231.49,338.06 L231.75,338.05 L232.00,338.04 L232.25,338.03 L232.50,338.02 L232.75,338.02 L233.00,338.01 L233.25,338.00 L233.50,337.99 L233.75,337.98 L234.00,337.97 L234.26,337.97 L234.51,337.96 L234.76,337.95 L235.01,337.94 L235.26,337.94 L235.51,337.93 L235.76,337.92 L236.01,337.92 L236.26,337.91 L236.52,337.90 L236.77,337.90 L237.02,337.89 L237.27,337.88 L237.52,337.88 L237.77,337.87 L238.02,337.86 L238.27,337.86 L238.52,337.85 L238.77,337.84 L239.03,337.84 L239.28,337.83 L239.53,337.82 L239.78,337.82 L240.03,337.81 L240.28,337.81 L240.53,337.80 L240.78,337.79 L241.03,337.79 L241.29,337.78 L241.54,337.77 L241.79,337.77 L242.04,337.76 L242.29,337.76 L242.54,337.75 L242.79,337.74 L243.04,337.74 L243.29,337.73 L243.54,337.72 L243.80,337.72 L244.05,337.71 L244.30,337.71 L244.55,337.70 L244.80,337.69 L245.05,337.69 L245.30,337.68 L245.55,337.68 L245.80,337.67 L246.05,337.66 L246.31,337.66 L246.56,337.65 L246.81,337.64 L247.06,337.64 L247.31,337.63 L247.56,337.63 L247.81,337.62 L248.06,337.62 L248.31,337.61 L248.57,337.60 L248.82,337.60 L249.07,337.59 L249.32,337.59 L249.57,337.58 L249.82,337.57 L250.07,337.57 L250.32,337.56 L250.57,337.56 L250.82,337.55 L251.08,337.55 L251.33,337.54 L251.58,337.54 L251.83,337.53 L252.08,337.53 L252.33,337.52 L252.58,337.51 L252.83,337.51 L253.08,337.50 L253.33,337.50 L253.59,337.49 L253.84,337.49 L254.09,337.48 L254.34,337.48 L254.59,337.47 L254.84,337.46 L255.09,337.46 L255.34,337.45 L255.59,337.45 L255.85,337.44 L256.10,337.44 L256.35,337.43 L256.60,337.42 L256.85,337.42" fill="none" stroke="#ff6868" stroke-width="1.25" stroke-linejoin="round"/>
<path d="M39.70,337.59 L39.95,337.59 L40.20,337.60 L40.45,337.61 L40.70,337.62 L40.96,337.63 L41.21,337.64 L41.46,337.65 L41.71,337.66 L41.96,337.67 L42.21,337.68 L42.46,337.68 L42.71,337.69 L42.96,337.70 L43.21,337.71 L43.47,337.72 L43.72,337.73 L43.97,337.74 L44.22,337.75 L44.47,337.76 L44.72,337.77 L44.97,337.78 L45.22,337.78 L45.47,337.79 L45.72,337.80 L45.98,337.81 L46.23,337.82 L46.48,337.83 L46.73,337.84 L46.98,337.85 L47.23,337.86 L47.48,337.87 L47.73,337.88 L47.98,337.89 L48.24,337.90 L48.49,337.91 L48.74,337.92 L48.99,337.93 L49.24,337.94 L49.49,337.95 L49.74,337.96 L49.99,337.97 L50.24,337.98 L50.49,337.99 L50.75,338.00 L51.00,338.01 L51.25,338.02 L51.50,338.03 L51.75,338.04 L52.00,338.05 L52.25,338.06 L52.50,338.07 L52.75,338.08 L53.01,338.09 L53.26,338.10 L53.51,338.11 L53.76,338.12 L54.01,338.14 L54.26,338.15 L54.51,338.16 L54.76,338.17 L55.01,338.18 L55.26,338.20 L55.52,338.21 L55.77,338.22 L56.02,338.23 L56.27,338.25 L56.52,338.26 L56.77,338.28 L57.02,338.29 L57.27,338.30 L57.52,338.32 L57.77,338.33 L58.03,338.35 L58.28,338.36 L58.53,338.38 L58.78,338.39 L59.03,338.41 L59.28,338.43 L59.53,338.44 L59.78,338.46 L60.03,338.47 L60.29,338.49 L60.54,338.51 L60.79,338.52 L61.04,338.54 L61.29,338.55 L61.54,338.57 L61.79,338.59 L62.04,338.60 L62.29,338.62 L62.54,338.64 L62.80,338.66 L63.05,338.67 L63.30,338.69 L63.55,338.71 L63.80,338.72 L64.05,338.74 L64.30,338.76 L64.55,338.78 L64.80,338.80 L65.06,338.81 L65.31,338.83 L65.56,338.85 L65.81,338.87 L66.06,338.88 L66.31,338.90 L66.56,338.92 L66.81,338.94 L67.06,338.96 L67.31,338.98 L67.57,338.99 L67.82,339.01 L68.07,339.03 L68.32,339.05 L68.57,339.07 L68.82,339.08 L69.07,339.10 L69.32,339.12 L69.57,339.14 L69.82,339.16 L70.08,339.18 L70.33,339.20 L70.58,339.22 L70.83,339.24 L71.08,339.26 L71.33,339.28 L71.58,339.30 L71.83,339.32 L72.08,339.35 L72.34,339.37 L72.59,339.39 L72.84,339.42 L73.09,339.45 L73.34,339.47 L73.59,339.50 L73.84,339.53 L74.09,339.56 L74.34,339.60 L74.59,339.63 L74.85,339.66 L75.10,339.70 L75.35,339.73 L75.60,339.77 L75.85,339.81 L76.10,339.84 L76.35,339.88 L76.60,339.92 L76.85,339.97 L77.10,340.01 L77.36,340.05 L77.61,340.10 L77.86,340.14 L78.11,340.19 L78.36,340.24 L78.61,340.29 L78.86,340.34 L79.11,340.39 L79.36,340.44 L79.62,340.50 L79.87,340.55 L80.12,340.61 L80.37,340.67 L80.62,340.73 L80.87,340.79 L81.12,340.85 L81.37,340.92 L81.62,340.98 L81.87,341.05 L82.13,341.11 L82.38,341.18 L82.63,341.25 L82.88,341.32 L83.13,341.39 L83.38,341.46 L83.63,341.54 L83.88,341.61 L84.13,341.69 L84.39,341.77 L84.64,341.85 L84.89,341.93 L85.14,342.01 L85.39,342.10 L85.64,342.19 L85.89,342.28 L86.14,342.37 L86.39,342.47 L86.64,342.56 L86.90,342.66 L87.15,342.76 L87.40,342.87 L87.65,342.97 L87.90,343.08 L88.15,343.19 L88.40,343.30 L88.65,343.42 L88.90,343.53 L89.15,343.65 L89.41,343.77 L89.66,343.89 L89.91,344.02 L90.16,344.14 L90.41,344.27 L90.66,344.40 L90.91,344.53 L91.16,344.67 L91.41,344.80 L91.67,344.94 L91.92,345.08 L92.17,345.22 L92.42,345.37 L92.67,345.51 L92.92,345.66 L93.17,345.81 L93.42,345.97 L93.67,346.12 L93.92,346.28 L94.18,346.43 L94.43,346.59 L94.68,346.75 L94.93,346.92 L95.18,347.08 L95.43,347.24 L95.68,347.40 L95.93,347.56 L96.18,347.72 L96.44,347.89 L96.69,348.05 L96.94,348.22 L97.19,348.38 L97.44,348.55 L97.69,348.72 L97.94,348.89 L98.19,349.06 L98.44,349.23 L98.69,349.40 L98.95,349.58 L99.20,349.76 L99.45,349.94 L99.70,350.12 L99.95,350.30 L100.20,350.49 L100.45,350.68 L100.70,350.87 L100.95,351.06 L101.20,351.26 L101.46,351.46 L101.71,351.65 L101.96,351.86 L102.21,352.06 L102.46,352.26 L102.71,352.47 L102.96,352.67 L103.21,352.87 L103.46,353.08 L103.72,353.28 L103.97,353.48 L104.22,353.68 L104.47,353.88 L104.72,354.08 L104.97,354.28 L105.22,354.47 L105.47,354.67 L105.72,354.86 L105.97,355.04 L106.23,355.22 L106.48,355.40 L106.73,355.58 L106.98,355.75 L107.23,355.91 L107.48,356.07 L107.73,356.23 L107.98,356.38 L108.23,356.52 L108.48,356.67 L108.74,356.82 L108.99,356.97 L109.24,357.12 L109.49,357.26 L109.74,357.41 L109.99,357.55 L110.24,357.68 L110.49,357.81 L110.74,357.92 L111.00,358.02 L111.25,358.11 L111.50,358.18 L111.75,358.24 L112.00,358.27 L112.25,358.29 L112.50,358.28 L112.75,358.25 L113.00,358.21 L113.25,358.16 L113.51,358.10 L113.76,358.03 L114.01,357.94 L114.26,357.84 L114.51,357.74 L114.76,357.62 L115.01,357.48 L115.26,357.34 L115.51,357.19 L115.77,357.02 L116.02,356.84 L116.27,356.65 L116.52,356.44 L116.77,356.23 L117.02,356.00 L117.27,355.76 L117.52,355.50 L117.77,355.24 L118.02,354.96 L118.28,354.67 L118.53,354.36 L118.78,354.04 L119.03,353.72 L119.28,353.37 L119.53,353.02 L119.78,352.65 L120.03,352.27 L120.28,351.88 L120.53,351.47 L120.79,351.06 L121.04,350.63 L121.29,350.19 L121.54,349.73 L121.79,349.27 L122.04,348.79 L122.29,348.30 L122.54,347.80 L122.79,347.28 L123.05,346.76 L123.30,346.22 L123.55,345.67 L123.80,345.11 L124.05,344.54 L124.30,343.96 L124.55,343.37 L124.80,342.77 L125.05,342.16 L125.30,341.54 L125.56,340.91 L125.81,340.27 L126.06,339.62 L126.31,338.96 L126.56,338.29 L126.81,337.62 L127.06,336.93 L127.31,336.24 L127.56,335.54 L127.81,334.84 L128.07,334.12 L128.32,333.40 L128.57,332.67 L128.82,331.93 L129.07,331.19 L129.32,330.43 L129.57,329.68 L129.82,328.92 L130.07,328.15 L130.33,327.37 L130.58,326.60 L130.83,325.81 L131.08,325.03 L131.33,324.24 L131.58,323.45 L131.83,322.65 L132.08,321.85 L132.33,321.05 L132.58,320.25 L132.84,319.45 L133.09,318.64 L133.34,317.84 L133.59,317.04 L133.84,316.23 L134.09,315.43 L134.34,314.63 L134.59,313.83 L134.84,313.03 L135.10,312.24 L135.35,311.44 L135.60,310.66 L135.85,309.87 L136.10,309.09 L136.35,308.32 L136.60,307.55 L136.85,306.79 L137.10,306.03 L137.35,305.28 L137.61,304.54 L137.86,303.80 L138.11,303.08 L138.36,302.36 L138.61,301.65 L138.86,300.95 L139.11,300.26 L139.36,299.58 L139.61,298.91 L139.86,298.25 L140.12,297.60 L140.37,296.97 L140.62,296.35 L140.87,295.74 L141.12,295.14 L141.37,294.56 L141.62,293.99 L141.87,293.44 L142.12,292.89 L142.38,292.37 L142.63,291.86 L142.88,291.37 L143.13,290.89 L143.38,290.43 L143.63,289.98 L143.88,289.55 L144.13,289.14 L144.38,288.75 L144.63,288.37 L144.89,288.01 L145.14,287.67 L145.39,287.35 L145.64,287.05 L145.89,286.76 L146.14,286.50 L146.39,286.25 L146.64,286.02 L146.89,285.82 L147.15,285.63 L147.40,285.46 L147.65,285.31 L147.90,285.18 L148.15,285.07 L148.40,284.99 L148.65,284.92 L148.90,284.87 L149.15,284.84 L149.40,284.83 L149.66,284.84 L149.91,284.88 L150.16,284.93 L150.41,285.00 L150.66,285.09 L150.91,285.20 L151.16,285.34 L151.41,285.49 L151.66,285.66 L151.91,285.85 L152.17,286.06 L152.42,286.29 L152.67,286.54 L152.92,286.80 L153.17,287.09 L153.42,287.39 L153.67,287.72 L153.92,288.06 L154.17,288.42 L154.43,288.79 L154.68,289.19 L154.93,289.60 L155.18,290.03 L155.43,290.47 L155.68,290.94 L155.93,291.41 L156.18,291.91 L156.43,292.42 L156.68,292.94 L156.94,293.48 L157.19,294.04 L157.44,294.60 L157.69,295.18 L157.94,295.78 L158.19,296.39 L158.44,297.01 L158.69,297.64 L158.94,298.29 L159.19,298.94 L159.45,299.61 L159.70,300.29 L159.95,300.97 L160.20,301.67 L160.45,302.38 L160.70,303.09 L160.95,303.82 L161.20,304.55 L161.45,305.29 L161.71,306.04 L161.96,306.79 L162.21,307.55 L162.46,308.32 L162.71,309.09 L162.96,309.86 L163.21,310.64 L163.46,311.43 L163.71,312.21 L163.96,313.01 L164.22,313.80 L164.47,314.59 L164.72,315.39 L164.97,316.19 L165.22,316.99 L165.47,317.79 L165.72,318.59 L165.97,319.39 L166.22,320.19 L166.48,320.99 L166.73,321.78 L166.98,322.58 L167.23,323.37 L167.48,324.16 L167.73,324.94 L167.98,325.72 L168.23,326.50 L168.48,327.28 L168.73,328.05 L168.99,328.81 L169.24,329.57 L169.49,330.32 L169.74,331.07 L169.99,331.81 L170.24,332.54 L170.49,333.27 L170.74,333.99 L170.99,334.70 L171.24,335.41 L171.50,336.10 L171.75,336.79 L172.00,337.47 L172.25,338.15 L172.50,338.81 L172.75,339.47 L173.00,340.12 L173.25,340.76 L173.50,341.39 L173.76,342.02 L174.01,342.63 L174.26,343.24 L174.51,343.83 L174.76,344.42 L175.01,344.99 L175.26,345.56 L175.51,346.11 L175.76,346.66 L176.01,347.19 L176.27,347.71 L176.52,348.22 L176.77,348.72 L177.02,349.20 L177.27,349.68 L177.52,350.14 L177.77,350.59 L178.02,351.03 L178.27,351.45 L178.53,351.87 L178.78,352.27 L179.03,352.66 L179.28,353.03 L179.53,353.40 L179.78,353.75 L180.03,354.08 L180.28,354.41 L180.53,354.72 L180.78,355.02 L181.04,355.30 L181.29,355.58 L181.54,355.84 L181.79,356.09 L182.04,356.32 L182.29,356.54 L182.54,356.75 L182.79,356.95 L183.04,357.13 L183.29,357.30 L183.55,357.46 L183.80,357.60 L184.05,357.73 L184.30,357.85 L184.55,357.96 L184.80,358.05 L185.05,358.14 L185.30,358.21 L185.55,358.26 L185.81,358.31 L186.06,358.34 L186.31,358.37 L186.56,358.38 L186.81,358.38 L187.06,358.38 L187.31,358.36 L187.56,358.33 L187.81,358.30 L188.06,358.25 L188.32,358.19 L188.57,358.13 L188.82,358.06 L189.07,357.98 L189.32,357.89 L189.57,357.79 L189.82,357.69 L190.07,357.58 L190.32,357.46 L190.57,357.33 L190.83,357.20 L191.08,357.06 L191.33,356.92 L191.58,356.76 L191.83,356.61 L192.08,356.45 L192.33,356.28 L192.58,356.11 L192.83,355.93 L193.09,355.75 L193.34,355.56 L193.59,355.37 L193.84,355.18 L194.09,354.98 L194.34,354.78 L194.59,354.58 L194.84,354.37 L195.09,354.16 L195.34,353.95 L195.60,353.73 L195.85,353.52 L196.10,353.30 L196.35,353.08 L196.60,352.86 L196.85,352.63 L197.10,352.40 L197.35,352.17 L197.60,351.93 L197.86,351.68 L198.11,351.43 L198.36,351.18 L198.61,350.93 L198.86,350.67 L199.11,350.42 L199.36,350.16 L199.61,349.90 L199.86,349.64 L200.11,349.39 L200.37,349.13 L200.62,348.88 L200.87,348.63 L201.12,348.38 L201.37,348.13 L201.62,347.89 L201.87,347.66 L202.12,347.43 L202.37,347.20 L202.62,346.98 L202.88,346.77 L203.13,346.56 L203.38,346.36 L203.63,346.17 L203.88,345.98 L204.13,345.79 L204.38,345.61 L204.63,345.44 L204.88,345.26 L205.14,345.09 L205.39,344.92 L205.64,344.76 L205.89,344.60 L206.14,344.44 L206.39,344.29 L206.64,344.14 L206.89,343.99 L207.14,343.84 L207.39,343.70 L207.65,343.56 L207.90,343.43 L208.15,343.29 L208.40,343.16 L208.65,343.03 L208.90,342.91 L209.15,342.78 L209.40,342.66 L209.65,342.54 L209.91,342.42 L210.16,342.31 L210.41,342.20 L210.66,342.09 L210.91,341.99 L211.16,341.89 L211.41,341.80 L211.66,341.71 L211.91,341.63 L212.16,341.55 L212.42,341.47 L212.67,341.40 L212.92,341.33 L213.17,341.26 L213.42,341.20 L213.67,341.14 L213.92,341.08 L214.17,341.02 L214.42,340.97 L214.67,340.92 L214.93,340.86 L215.18,340.81 L215.43,340.76 L215.68,340.71 L215.93,340.66 L216.18,340.61 L216.43,340.56 L216.68,340.51 L216.93,340.46 L217.19,340.40 L217.44,340.35 L217.69,340.30 L217.94,340.25 L218.19,340.20 L218.44,340.16 L218.69,340.11 L218.94,340.07 L219.19,340.03 L219.44,339.98 L219.70,339.94 L219.95,339.90 L220.20,339.87 L220.45,339.83 L220.70,339.79 L220.95,339.76 L221.20,339.72 L221.45,339.68 L221.70,339.65 L221.95,339.62 L222.21,339.58 L222.46,339.55 L222.71,339.51 L222.96,339.48 L223.21,339.44 L223.46,339.41 L223.71,339.38 L223.96,339.34 L224.21,339.31 L224.47,339.27 L224.72,339.24 L224.97,339.21 L225.22,339.18 L225.47,339.15 L225.72,339.12 L225.97,339.09 L226.22,339.07 L226.47,339.04 L226.72,339.02 L226.98,338.99 L227.23,338.97 L227.48,338.94 L227.73,338.92 L227.98,338.90 L228.23,338.88 L228.48,338.86 L228.73,338.84 L228.98,338.82 L229.24,338.80 L229.49,338.78 L229.74,338.76 L229.99,338.75 L230.24,338.73 L230.49,338.71 L230.74,338.70 L230.99,338.68 L231.24,338.67 L231.49,338.65 L231.75,338.64 L232.00,338.63 L232.25,338.61 L232.50,338.60 L232.75,338.59 L233.00,338.57 L233.25,338.56 L233.50,338.55 L233.75,338.54 L234.00,338.53 L234.26,338.52 L234.51,338.50 L234.76,338.49 L235.01,338.48 L235.26,338.47 L235.51,338.46 L235.76,338.45 L236.01,338.44 L236.26,338.43 L236.52,338.42 L236.77,338.41 L237.02,338.40 L237.27,338.39 L237.52,338.38 L237.77,338.37 L238.02,338.37 L238.27,338.36 L238.52,338.35 L238.77,338.34 L239.03,338.33 L239.28,338.32 L239.53,338.31 L239.78,338.30 L240.03,338.29 L240.28,338.28 L240.53,338.27 L240.78,338.26 L241.03,338.25 L241.29,338.25 L241.54,338.24 L241.79,338.23 L242.04,338.22 L242.29,338.21 L242.54,338.20 L242.79,338.19 L243.04,338.18 L243.29,338.17 L243.54,338.16 L243.80,338.16 L244.05,338.15 L244.30,338.14 L244.55,338.13 L244.80,338.12 L245.05,338.11 L245.30,338.10 L245.55,338.09 L245.80,338.08 L246.05,338.07 L246.31,338.07 L246.56,338.06 L246.81,338.05 L247.06,338.04 L247.31,338.03 L247.56,338.02 L247.81,338.01 L248.06,338.01 L248.31,338.00 L248.57,337.99 L248.82,337.98 L249.07,337.97 L249.32,337.96 L249.57,337.95 L249.82,337.95 L250.07,337.94 L250.32,337.93 L250.57,337.92 L250.82,337.91 L251.08,337.91 L251.33,337.90 L251.58,337.89 L251.83,337.88 L252.08,337.87 L252.33,337.87 L252.58,337.86 L252.83,337.85 L253.08,337.84 L253.33,337.84 L253.59,337.83 L253.84,337.82 L254.09,337.81 L254.34,337.80 L254.59,337.79 L254.84,337.79 L255.09,337.78 L255.34,337.77 L255.59,337.76 L255.85,337.75 L256.10,337.75 L256.35,337.74 L256.60,337.73 L256.85,337.72" fill="none" stroke="#3a92ee" stroke-width="1.25" stroke-linejoin="round"/>
<path d="M39.70,337.84 L39.95,337.85 L40.20,337.86 L40.45,337.87 L40.70,337.89 L40.96,337.90 L41.21,337.91 L41.46,337.92 L41.71,337.93 L41.96,337.94 L42.21,337.96 L42.46,337.97 L42.71,337.98 L42.96,337.99 L43.21,338.00 L43.47,338.01 L43.72,338.03 L43.97,338.04 L44.22,338.05 L44.47,338.06 L44.72,338.07 L44.97,338.09 L45.22,338.10 L45.47,338.11 L45.72,338.12 L45.98,338.14 L46.23,338.15 L46.48,338.16 L46.73,338.17 L46.98,338.18 L47.23,338.20 L47.48,338.21 L47.73,338.22 L47.98,338.23 L48.24,338.25 L48.49,338.26 L48.74,338.27 L48.99,338.28 L49.24,338.30 L49.49,338.31 L49.74,338.32 L49.99,338.34 L50.24,338.35 L50.49,338.36 L50.75,338.38 L51.00,338.39 L51.25,338.40 L51.50,338.42 L51.75,338.43 L52.00,338.44 L52.25,338.46 L52.50,338.47 L52.75,338.48 L53.01,338.50 L53.26,338.51 L53.51,338.53 L53.76,338.54 L54.01,338.55 L54.26,338.57 L54.51,338.59 L54.76,338.60 L55.01,338.62 L55.26,338.63 L55.52,338.65 L55.77,338.67 L56.02,338.68 L56.27,338.70 L56.52,338.72 L56.77,338.74 L57.02,338.76 L57.27,338.78 L57.52,338.79 L57.77,338.81 L58.03,338.83 L58.28,338.85 L58.53,338.87 L58.78,338.89 L59.03,338.91 L59.28,338.93 L59.53,338.95 L59.78,338.97 L60.03,339.00 L60.29,339.02 L60.54,339.04 L60.79,339.06 L61.04,339.08 L61.29,339.10 L61.54,339.12 L61.79,339.15 L62.04,339.17 L62.29,339.19 L62.54,339.21 L62.80,339.23 L63.05,339.26 L63.30,339.28 L63.55,339.30 L63.80,339.32 L64.05,339.35 L64.30,339.37 L64.55,339.39 L64.80,339.42 L65.06,339.44 L65.31,339.46 L65.56,339.48 L65.81,339.51 L66.06,339.53 L66.31,339.56 L66.56,339.58 L66.81,339.60 L67.06,339.63 L67.31,339.65 L67.57,339.67 L67.82,339.70 L68.07,339.72 L68.32,339.74 L68.57,339.77 L68.82,339.79 L69.07,339.82 L69.32,339.84 L69.57,339.86 L69.82,339.89 L70.08,339.91 L70.33,339.94 L70.58,339.96 L70.83,339.99 L71.08,340.02 L71.33,340.04 L71.58,340.07 L71.83,340.10 L72.08,340.13 L72.34,340.16 L72.59,340.20 L72.84,340.23 L73.09,340.26 L73.34,340.30 L73.59,340.34 L73.84,340.38 L74.09,340.42 L74.34,340.46 L74.59,340.50 L74.85,340.54 L75.10,340.59 L75.35,340.64 L75.60,340.68 L75.85,340.73 L76.10,340.78 L76.35,340.83 L76.60,340.89 L76.85,340.94 L77.10,341.00 L77.36,341.05 L77.61,341.11 L77.86,341.17 L78.11,341.23 L78.36,341.29 L78.61,341.36 L78.86,341.42 L79.11,341.49 L79.36,341.56 L79.62,341.63 L79.87,341.71 L80.12,341.78 L80.37,341.86 L80.62,341.93 L80.87,342.01 L81.12,342.10 L81.37,342.18 L81.62,342.26 L81.87,342.35 L82.13,342.43 L82.38,342.52 L82.63,342.61 L82.88,342.70 L83.13,342.80 L83.38,342.89 L83.63,342.99 L83.88,343.09 L84.13,343.19 L84.39,343.29 L84.64,343.39 L84.89,343.50 L85.14,343.61 L85.39,343.72 L85.64,343.84 L85.89,343.96 L86.14,344.08 L86.39,344.20 L86.64,344.32 L86.90,344.45 L87.15,344.59 L87.40,344.72 L87.65,344.86 L87.90,345.00 L88.15,345.14 L88.40,345.29 L88.65,345.44 L88.90,345.59 L89.15,345.74 L89.41,345.90 L89.66,346.06 L89.91,346.22 L90.16,346.39 L90.41,346.55 L90.66,346.72 L90.91,346.89 L91.16,347.07 L91.41,347.25 L91.67,347.43 L91.92,347.61 L92.17,347.79 L92.42,347.98 L92.67,348.17 L92.92,348.36 L93.17,348.56 L93.42,348.76 L93.67,348.96 L93.92,349.16 L94.18,349.37 L94.43,349.58 L94.68,349.79 L94.93,350.00 L95.18,350.21 L95.43,350.42 L95.68,350.63 L95.93,350.84 L96.18,351.05 L96.44,351.26 L96.69,351.48 L96.94,351.69 L97.19,351.91 L97.44,352.12 L97.69,352.34 L97.94,352.56 L98.19,352.79 L98.44,353.01 L98.69,353.24 L98.95,353.47 L99.20,353.70 L99.45,353.94 L99.70,354.17 L99.95,354.41 L100.20,354.65 L100.45,354.90 L100.70,355.15 L100.95,355.40 L101.20,355.65 L101.46,355.91 L101.71,356.17 L101.96,356.43 L102.21,356.70 L102.46,356.96 L102.71,357.23 L102.96,357.49 L103.21,357.76 L103.46,358.03 L103.72,358.29 L103.97,358.56 L104.22,358.82 L104.47,359.08 L104.72,359.34 L104.97,359.59 L105.22,359.85 L105.47,360.10 L105.72,360.34 L105.97,360.59 L106.23,360.82 L106.48,361.06 L106.73,361.28 L106.98,361.51 L107.23,361.72 L107.48,361.93 L107.73,362.13 L107.98,362.33 L108.23,362.52 L108.48,362.70 L108.74,362.90 L108.99,363.09 L109.24,363.29 L109.49,363.48 L109.74,363.67 L109.99,363.85 L110.24,364.03 L110.49,364.19 L110.74,364.34 L111.00,364.47 L111.25,364.58 L111.50,364.68 L111.75,364.75 L112.00,364.80 L112.25,364.82 L112.50,364.81 L112.75,364.77 L113.00,364.72 L113.25,364.65 L113.51,364.57 L113.76,364.47 L114.01,364.36 L114.26,364.24 L114.51,364.10 L114.76,363.94 L115.01,363.77 L115.26,363.58 L115.51,363.38 L115.77,363.16 L116.02,362.93 L116.27,362.68 L116.52,362.41 L116.77,362.13 L117.02,361.83 L117.27,361.52 L117.52,361.19 L117.77,360.84 L118.02,360.48 L118.28,360.10 L118.53,359.70 L118.78,359.29 L119.03,358.86 L119.28,358.41 L119.53,357.95 L119.78,357.47 L120.03,356.98 L120.28,356.47 L120.53,355.94 L120.79,355.39 L121.04,354.83 L121.29,354.26 L121.54,353.67 L121.79,353.06 L122.04,352.44 L122.29,351.80 L122.54,351.14 L122.79,350.47 L123.05,349.79 L123.30,349.09 L123.55,348.38 L123.80,347.65 L124.05,346.91 L124.30,346.15 L124.55,345.38 L124.80,344.60 L125.05,343.80 L125.30,342.99 L125.56,342.17 L125.81,341.33 L126.06,340.49 L126.31,339.63 L126.56,338.76 L126.81,337.88 L127.06,336.99 L127.31,336.09 L127.56,335.18 L127.81,334.26 L128.07,333.32 L128.32,332.38 L128.57,331.43 L128.82,330.47 L129.07,329.50 L129.32,328.52 L129.57,327.53 L129.82,326.54 L130.07,325.54 L130.33,324.53 L130.58,323.52 L130.83,322.50 L131.08,321.48 L131.33,320.45 L131.58,319.41 L131.83,318.38 L132.08,317.34 L132.33,316.29 L132.58,315.25 L132.84,314.20 L133.09,313.16 L133.34,312.11 L133.59,311.06 L133.84,310.01 L134.09,308.97 L134.34,307.92 L134.59,306.88 L134.84,305.84 L135.10,304.81 L135.35,303.77 L135.60,302.75 L135.85,301.73 L136.10,300.71 L136.35,299.70 L136.60,298.70 L136.85,297.71 L137.10,296.72 L137.35,295.74 L137.61,294.77 L137.86,293.82 L138.11,292.87 L138.36,291.93 L138.61,291.01 L138.86,290.10 L139.11,289.20 L139.36,288.31 L139.61,287.44 L139.86,286.58 L140.12,285.74 L140.37,284.91 L140.62,284.10 L140.87,283.31 L141.12,282.53 L141.37,281.77 L141.62,281.03 L141.87,280.31 L142.12,279.60 L142.38,278.92 L142.63,278.25 L142.88,277.61 L143.13,276.99 L143.38,276.38 L143.63,275.80 L143.88,275.25 L144.13,274.71 L144.38,274.20 L144.63,273.71 L144.89,273.24 L145.14,272.80 L145.39,272.38 L145.64,271.98 L145.89,271.61 L146.14,271.27 L146.39,270.94 L146.64,270.65 L146.89,270.38 L147.15,270.13 L147.40,269.91 L147.65,269.72 L147.90,269.55 L148.15,269.41 L148.40,269.30 L148.65,269.21 L148.90,269.14 L149.15,269.11 L149.40,269.10 L149.66,269.11 L149.91,269.15 L150.16,269.22 L150.41,269.32 L150.66,269.43 L150.91,269.58 L151.16,269.75 L151.41,269.95 L151.66,270.17 L151.91,270.42 L152.17,270.69 L152.42,270.99 L152.67,271.32 L152.92,271.66 L153.17,272.04 L153.42,272.43 L153.67,272.85 L153.92,273.30 L154.17,273.77 L154.43,274.26 L154.68,274.77 L154.93,275.31 L155.18,275.87 L155.43,276.45 L155.68,277.05 L155.93,277.67 L156.18,278.32 L156.43,278.98 L156.68,279.66 L156.94,280.37 L157.19,281.09 L157.44,281.83 L157.69,282.59 L157.94,283.36 L158.19,284.15 L158.44,284.96 L158.69,285.79 L158.94,286.63 L159.19,287.48 L159.45,288.35 L159.70,289.23 L159.95,290.13 L160.20,291.04 L160.45,291.96 L160.70,292.89 L160.95,293.84 L161.20,294.79 L161.45,295.75 L161.71,296.73 L161.96,297.71 L162.21,298.70 L162.46,299.70 L162.71,300.70 L162.96,301.71 L163.21,302.73 L163.46,303.75 L163.71,304.78 L163.96,305.81 L164.22,306.84 L164.47,307.88 L164.72,308.92 L164.97,309.96 L165.22,311.00 L165.47,312.04 L165.72,313.09 L165.97,314.13 L166.22,315.17 L166.48,316.21 L166.73,317.25 L166.98,318.28 L167.23,319.31 L167.48,320.34 L167.73,321.36 L167.98,322.38 L168.23,323.40 L168.48,324.41 L168.73,325.41 L168.99,326.40 L169.24,327.39 L169.49,328.37 L169.74,329.35 L169.99,330.31 L170.24,331.27 L170.49,332.22 L170.74,333.15 L170.99,334.08 L171.24,335.00 L171.50,335.91 L171.75,336.81 L172.00,337.69 L172.25,338.57 L172.50,339.44 L172.75,340.29 L173.00,341.14 L173.25,341.98 L173.50,342.80 L173.76,343.61 L174.01,344.42 L174.26,345.20 L174.51,345.98 L174.76,346.74 L175.01,347.49 L175.26,348.23 L175.51,348.95 L175.76,349.66 L176.01,350.35 L176.27,351.03 L176.52,351.69 L176.77,352.34 L177.02,352.98 L177.27,353.59 L177.52,354.20 L177.77,354.78 L178.02,355.36 L178.27,355.91 L178.53,356.45 L178.78,356.97 L179.03,357.48 L179.28,357.97 L179.53,358.44 L179.78,358.90 L180.03,359.34 L180.28,359.76 L180.53,360.17 L180.78,360.56 L181.04,360.93 L181.29,361.28 L181.54,361.62 L181.79,361.95 L182.04,362.25 L182.29,362.54 L182.54,362.81 L182.79,363.07 L183.04,363.30 L183.29,363.53 L183.55,363.73 L183.80,363.92 L184.05,364.09 L184.30,364.25 L184.55,364.39 L184.80,364.51 L185.05,364.62 L185.30,364.71 L185.55,364.78 L185.81,364.84 L186.06,364.89 L186.31,364.92 L186.56,364.94 L186.81,364.94 L187.06,364.93 L187.31,364.91 L187.56,364.87 L187.81,364.83 L188.06,364.77 L188.32,364.69 L188.57,364.61 L188.82,364.52 L189.07,364.41 L189.32,364.30 L189.57,364.17 L189.82,364.03 L190.07,363.89 L190.32,363.73 L190.57,363.57 L190.83,363.40 L191.08,363.22 L191.33,363.03 L191.58,362.83 L191.83,362.63 L192.08,362.42 L192.33,362.20 L192.58,361.97 L192.83,361.74 L193.09,361.51 L193.34,361.26 L193.59,361.02 L193.84,360.77 L194.09,360.51 L194.34,360.25 L194.59,359.98 L194.84,359.71 L195.09,359.44 L195.34,359.16 L195.60,358.88 L195.85,358.60 L196.10,358.32 L196.35,358.03 L196.60,357.74 L196.85,357.45 L197.10,357.15 L197.35,356.84 L197.60,356.52 L197.86,356.21 L198.11,355.88 L198.36,355.55 L198.61,355.22 L198.86,354.89 L199.11,354.56 L199.36,354.22 L199.61,353.89 L199.86,353.55 L200.11,353.22 L200.37,352.88 L200.62,352.55 L200.87,352.23 L201.12,351.90 L201.37,351.58 L201.62,351.27 L201.87,350.96 L202.12,350.66 L202.37,350.37 L202.62,350.08 L202.88,349.80 L203.13,349.53 L203.38,349.27 L203.63,349.02 L203.88,348.78 L204.13,348.54 L204.38,348.30 L204.63,348.07 L204.88,347.84 L205.14,347.62 L205.39,347.40 L205.64,347.19 L205.89,346.98 L206.14,346.77 L206.39,346.57 L206.64,346.38 L206.89,346.18 L207.14,345.99 L207.39,345.81 L207.65,345.63 L207.90,345.45 L208.15,345.28 L208.40,345.10 L208.65,344.94 L208.90,344.77 L209.15,344.61 L209.40,344.45 L209.65,344.30 L209.91,344.14 L210.16,343.99 L210.41,343.85 L210.66,343.71 L210.91,343.57 L211.16,343.45 L211.41,343.33 L211.66,343.21 L211.91,343.10 L212.16,343.00 L212.42,342.90 L212.67,342.81 L212.92,342.72 L213.17,342.63 L213.42,342.55 L213.67,342.47 L213.92,342.39 L214.17,342.32 L214.42,342.25 L214.67,342.18 L214.93,342.11 L215.18,342.05 L215.43,341.98 L215.68,341.91 L215.93,341.85 L216.18,341.78 L216.43,341.72 L216.68,341.65 L216.93,341.58 L217.19,341.51 L217.44,341.44 L217.69,341.38 L217.94,341.31 L218.19,341.25 L218.44,341.19 L218.69,341.13 L218.94,341.07 L219.19,341.02 L219.44,340.96 L219.70,340.91 L219.95,340.86 L220.20,340.81 L220.45,340.76 L220.70,340.71 L220.95,340.67 L221.20,340.62 L221.45,340.57 L221.70,340.53 L221.95,340.48 L222.21,340.44 L222.46,340.39 L222.71,340.35 L222.96,340.31 L223.21,340.26 L223.46,340.22 L223.71,340.17 L223.96,340.13 L224.21,340.08 L224.47,340.04 L224.72,340.00 L224.97,339.96 L225.22,339.92 L225.47,339.88 L225.72,339.84 L225.97,339.80 L226.22,339.77 L226.47,339.74 L226.72,339.70 L226.98,339.67 L227.23,339.64 L227.48,339.61 L227.73,339.58 L227.98,339.55 L228.23,339.52 L228.48,339.50 L228.73,339.47 L228.98,339.45 L229.24,339.42 L229.49,339.40 L229.74,339.38 L229.99,339.35 L230.24,339.33 L230.49,339.31 L230.74,339.29 L230.99,339.27 L231.24,339.25 L231.49,339.23 L231.75,339.21 L232.00,339.20 L232.25,339.18 L232.50,339.16 L232.75,339.14 L233.00,339.13 L233.25,339.11 L233.50,339.10 L233.75,339.08 L234.00,339.07 L234.26,339.05 L234.51,339.04 L234.76,339.02 L235.01,339.01 L235.26,339.00 L235.51,338.98 L235.76,338.97 L236.01,338.96 L236.26,338.94 L236.52,338.93 L236.77,338.92 L237.02,338.90 L237.27,338.89 L237.52,338.88 L237.77,338.87 L238.02,338.86 L238.27,338.84 L238.52,338.83 L238.77,338.82 L239.03,338.81 L239.28,338.79 L239.53,338.78 L239.78,338.77 L240.03,338.76 L240.28,338.75 L240.53,338.73 L240.78,338.72 L241.03,338.71 L241.29,338.70 L241.54,338.69 L241.79,338.68 L242.04,338.66 L242.29,338.65 L242.54,338.64 L242.79,338.63 L243.04,338.62 L243.29,338.60 L243.54,338.59 L243.80,338.58 L244.05,338.57 L244.30,338.56 L244.55,338.55 L244.80,338.53 L245.05,338.52 L245.30,338.51 L245.55,338.50 L245.80,338.49 L246.05,338.48 L246.31,338.47 L246.56,338.45 L246.81,338.44 L247.06,338.43 L247.31,338.42 L247.56,338.41 L247.81,338.40 L248.06,338.39 L248.31,338.37 L248.57,338.36 L248.82,338.35 L249.07,338.34 L249.32,338.33 L249.57,338.32 L249.82,338.31 L250.07,338.30 L250.32,338.29 L250.57,338.28 L250.82,338.27 L251.08,338.26 L251.33,338.25 L251.58,338.24 L251.83,338.23 L252.08,338.22 L252.33,338.21 L252.58,338.20 L252.83,338.18 L253.08,338.17 L253.33,338.16 L253.59,338.15 L253.84,338.14 L254.09,338.13 L254.34,338.12 L254.59,338.11 L254.84,338.10 L255.09,338.09 L255.34,338.08 L255.59,338.07 L255.85,338.06 L256.10,338.05 L256.35,338.04 L256.60,338.02 L256.85,338.01" fill="none" stroke="#30c286" stroke-width="1.25" stroke-linejoin="round"/>
<path d="M39.70,338.31 L39.95,338.33 L40.20,338.34 L40.45,338.36 L40.70,338.38 L40.96,338.39 L41.21,338.41 L41.46,338.43 L41.71,338.44 L41.96,338.46 L42.21,338.48 L42.46,338.49 L42.71,338.51 L42.96,338.53 L43.21,338.54 L43.47,338.56 L43.72,338.58 L43.97,338.59 L44.22,338.61 L44.47,338.63 L44.72,338.65 L44.97,338.66 L45.22,338.68 L45.47,338.70 L45.72,338.72 L45.98,338.73 L46.23,338.75 L46.48,338.77 L46.73,338.79 L46.98,338.80 L47.23,338.82 L47.48,338.84 L47.73,338.86 L47.98,338.87 L48.24,338.89 L48.49,338.91 L48.74,338.93 L48.99,338.95 L49.24,338.97 L49.49,338.98 L49.74,339.00 L49.99,339.02 L50.24,339.04 L50.49,339.06 L50.75,339.08 L51.00,339.10 L51.25,339.11 L51.50,339.13 L51.75,339.15 L52.00,339.17 L52.25,339.19 L52.50,339.21 L52.75,339.23 L53.01,339.25 L53.26,339.27 L53.51,339.29 L53.76,339.31 L54.01,339.33 L54.26,339.36 L54.51,339.38 L54.76,339.40 L55.01,339.42 L55.26,339.45 L55.52,339.47 L55.77,339.49 L56.02,339.52 L56.27,339.54 L56.52,339.57 L56.77,339.60 L57.02,339.62 L57.27,339.65 L57.52,339.68 L57.77,339.70 L58.03,339.73 L58.28,339.76 L58.53,339.79 L58.78,339.82 L59.03,339.85 L59.28,339.87 L59.53,339.90 L59.78,339.93 L60.03,339.96 L60.29,339.99 L60.54,340.02 L60.79,340.05 L61.04,340.09 L61.29,340.12 L61.54,340.15 L61.79,340.18 L62.04,340.21 L62.29,340.24 L62.54,340.27 L62.80,340.31 L63.05,340.34 L63.30,340.37 L63.55,340.40 L63.80,340.43 L64.05,340.47 L64.30,340.50 L64.55,340.53 L64.80,340.56 L65.06,340.60 L65.31,340.63 L65.56,340.66 L65.81,340.70 L66.06,340.73 L66.31,340.77 L66.56,340.80 L66.81,340.83 L67.06,340.87 L67.31,340.90 L67.57,340.94 L67.82,340.97 L68.07,341.00 L68.32,341.04 L68.57,341.07 L68.82,341.10 L69.07,341.14 L69.32,341.17 L69.57,341.21 L69.82,341.24 L70.08,341.28 L70.33,341.31 L70.58,341.35 L70.83,341.39 L71.08,341.42 L71.33,341.46 L71.58,341.51 L71.83,341.55 L72.08,341.59 L72.34,341.64 L72.59,341.68 L72.84,341.73 L73.09,341.78 L73.34,341.83 L73.59,341.88 L73.84,341.94 L74.09,342.00 L74.34,342.06 L74.59,342.12 L74.85,342.18 L75.10,342.25 L75.35,342.31 L75.60,342.38 L75.85,342.45 L76.10,342.52 L76.35,342.59 L76.60,342.67 L76.85,342.75 L77.10,342.83 L77.36,342.91 L77.61,342.99 L77.86,343.08 L78.11,343.16 L78.36,343.25 L78.61,343.35 L78.86,343.44 L79.11,343.54 L79.36,343.64 L79.62,343.74 L79.87,343.84 L80.12,343.95 L80.37,344.06 L80.62,344.17 L80.87,344.29 L81.12,344.40 L81.37,344.52 L81.62,344.64 L81.87,344.76 L82.13,344.89 L82.38,345.01 L82.63,345.14 L82.88,345.27 L83.13,345.40 L83.38,345.54 L83.63,345.68 L83.88,345.82 L84.13,345.96 L84.39,346.11 L84.64,346.26 L84.89,346.41 L85.14,346.57 L85.39,346.73 L85.64,346.90 L85.89,347.06 L86.14,347.24 L86.39,347.41 L86.64,347.59 L86.90,347.78 L87.15,347.97 L87.40,348.16 L87.65,348.36 L87.90,348.56 L88.15,348.77 L88.40,348.97 L88.65,349.19 L88.90,349.40 L89.15,349.62 L89.41,349.85 L89.66,350.08 L89.91,350.31 L90.16,350.54 L90.41,350.78 L90.66,351.02 L90.91,351.27 L91.16,351.52 L91.41,351.77 L91.67,352.03 L91.92,352.29 L92.17,352.56 L92.42,352.83 L92.67,353.10 L92.92,353.38 L93.17,353.66 L93.42,353.94 L93.67,354.23 L93.92,354.52 L94.18,354.81 L94.43,355.11 L94.68,355.41 L94.93,355.71 L95.18,356.01 L95.43,356.31 L95.68,356.61 L95.93,356.92 L96.18,357.22 L96.44,357.52 L96.69,357.83 L96.94,358.14 L97.19,358.45 L97.44,358.76 L97.69,359.07 L97.94,359.39 L98.19,359.71 L98.44,360.03 L98.69,360.35 L98.95,360.68 L99.20,361.01 L99.45,361.35 L99.70,361.69 L99.95,362.03 L100.20,362.38 L100.45,362.73 L100.70,363.09 L100.95,363.45 L101.20,363.81 L101.46,364.18 L101.71,364.55 L101.96,364.93 L102.21,365.30 L102.46,365.68 L102.71,366.06 L102.96,366.44 L103.21,366.82 L103.46,367.20 L103.72,367.58 L103.97,367.96 L104.22,368.34 L104.47,368.71 L104.72,369.08 L104.97,369.45 L105.22,369.81 L105.47,370.17 L105.72,370.52 L105.97,370.87 L106.23,371.21 L106.48,371.54 L106.73,371.87 L106.98,372.19 L107.23,372.49 L107.48,372.79 L107.73,373.08 L107.98,373.36 L108.23,373.63 L108.48,373.90 L108.74,374.18 L108.99,374.46 L109.24,374.74 L109.49,375.01 L109.74,375.28 L109.99,375.54 L110.24,375.79 L110.49,376.02 L110.74,376.24 L111.00,376.43 L111.25,376.59 L111.50,376.73 L111.75,376.83 L112.00,376.90 L112.25,376.92 L112.50,376.91 L112.75,376.86 L113.00,376.78 L113.25,376.69 L113.51,376.57 L113.76,376.44 L114.01,376.28 L114.26,376.10 L114.51,375.90 L114.76,375.67 L115.01,375.43 L115.26,375.16 L115.51,374.87 L115.77,374.56 L116.02,374.22 L116.27,373.86 L116.52,373.48 L116.77,373.08 L117.02,372.65 L117.27,372.20 L117.52,371.73 L117.77,371.23 L118.02,370.71 L118.28,370.17 L118.53,369.60 L118.78,369.01 L119.03,368.40 L119.28,367.76 L119.53,367.10 L119.78,366.41 L120.03,365.70 L120.28,364.97 L120.53,364.22 L120.79,363.44 L121.04,362.64 L121.29,361.81 L121.54,360.96 L121.79,360.10 L122.04,359.20 L122.29,358.29 L122.54,357.35 L122.79,356.39 L123.05,355.41 L123.30,354.41 L123.55,353.39 L123.80,352.35 L124.05,351.29 L124.30,350.20 L124.55,349.10 L124.80,347.98 L125.05,346.84 L125.30,345.68 L125.56,344.50 L125.81,343.31 L126.06,342.10 L126.31,340.87 L126.56,339.63 L126.81,338.37 L127.06,337.09 L127.31,335.81 L127.56,334.50 L127.81,333.18 L128.07,331.85 L128.32,330.50 L128.57,329.13 L128.82,327.76 L129.07,326.37 L129.32,324.97 L129.57,323.56 L129.82,322.14 L130.07,320.70 L130.33,319.26 L130.58,317.81 L130.83,316.35 L131.08,314.89 L131.33,313.41 L131.58,311.93 L131.83,310.45 L132.08,308.96 L132.33,307.47 L132.58,305.97 L132.84,304.48 L133.09,302.98 L133.34,301.48 L133.59,299.98 L133.84,298.48 L134.09,296.98 L134.34,295.49 L134.59,293.99 L134.84,292.51 L135.10,291.02 L135.35,289.55 L135.60,288.08 L135.85,286.62 L136.10,285.16 L136.35,283.72 L136.60,282.29 L136.85,280.86 L137.10,279.45 L137.35,278.05 L137.61,276.67 L137.86,275.29 L138.11,273.94 L138.36,272.60 L138.61,271.27 L138.86,269.97 L139.11,268.68 L139.36,267.41 L139.61,266.17 L139.86,264.94 L140.12,263.73 L140.37,262.55 L140.62,261.39 L140.87,260.25 L141.12,259.14 L141.37,258.05 L141.62,256.99 L141.87,255.96 L142.12,254.95 L142.38,253.97 L142.63,253.02 L142.88,252.10 L143.13,251.20 L143.38,250.34 L143.63,249.51 L143.88,248.71 L144.13,247.95 L144.38,247.21 L144.63,246.51 L144.89,245.84 L145.14,245.21 L145.39,244.61 L145.64,244.04 L145.89,243.51 L146.14,243.01 L146.39,242.55 L146.64,242.13 L146.89,241.74 L147.15,241.39 L147.40,241.08 L147.65,240.80 L147.90,240.56 L148.15,240.36 L148.40,240.20 L148.65,240.07 L148.90,239.98 L149.15,239.92 L149.40,239.91 L149.66,239.93 L149.91,239.99 L150.16,240.09 L150.41,240.22 L150.66,240.39 L150.91,240.60 L151.16,240.85 L151.41,241.13 L151.66,241.45 L151.91,241.80 L152.17,242.20 L152.42,242.62 L152.67,243.09 L152.92,243.58 L153.17,244.12 L153.42,244.69 L153.67,245.29 L153.92,245.93 L154.17,246.60 L154.43,247.30 L154.68,248.03 L154.93,248.80 L155.18,249.60 L155.43,250.43 L155.68,251.29 L155.93,252.19 L156.18,253.11 L156.43,254.06 L156.68,255.04 L156.94,256.04 L157.19,257.07 L157.44,258.13 L157.69,259.22 L157.94,260.33 L158.19,261.46 L158.44,262.62 L158.69,263.80 L158.94,265.00 L159.19,266.23 L159.45,267.47 L159.70,268.73 L159.95,270.02 L160.20,271.32 L160.45,272.64 L160.70,273.97 L160.95,275.32 L161.20,276.69 L161.45,278.07 L161.71,279.46 L161.96,280.87 L162.21,282.28 L162.46,283.71 L162.71,285.15 L162.96,286.60 L163.21,288.05 L163.46,289.51 L163.71,290.98 L163.96,292.46 L164.22,293.94 L164.47,295.42 L164.72,296.91 L164.97,298.40 L165.22,299.89 L165.47,301.38 L165.72,302.88 L165.97,304.37 L166.22,305.86 L166.48,307.35 L166.73,308.83 L166.98,310.31 L167.23,311.79 L167.48,313.26 L167.73,314.73 L167.98,316.18 L168.23,317.64 L168.48,319.08 L168.73,320.51 L168.99,321.94 L169.24,323.35 L169.49,324.76 L169.74,326.15 L169.99,327.54 L170.24,328.90 L170.49,330.26 L170.74,331.60 L170.99,332.93 L171.24,334.25 L171.50,335.55 L171.75,336.83 L172.00,338.10 L172.25,339.36 L172.50,340.60 L172.75,341.82 L173.00,343.04 L173.25,344.23 L173.50,345.41 L173.76,346.58 L174.01,347.72 L174.26,348.85 L174.51,349.96 L174.76,351.05 L175.01,352.13 L175.26,353.18 L175.51,354.21 L175.76,355.23 L176.01,356.22 L176.27,357.19 L176.52,358.14 L176.77,359.07 L177.02,359.98 L177.27,360.86 L177.52,361.72 L177.77,362.56 L178.02,363.38 L178.27,364.18 L178.53,364.95 L178.78,365.70 L179.03,366.42 L179.28,367.12 L179.53,367.80 L179.78,368.45 L180.03,369.08 L180.28,369.69 L180.53,370.27 L180.78,370.83 L181.04,371.36 L181.29,371.87 L181.54,372.35 L181.79,372.82 L182.04,373.25 L182.29,373.67 L182.54,374.05 L182.79,374.42 L183.04,374.76 L183.29,375.08 L183.55,375.37 L183.80,375.64 L184.05,375.89 L184.30,376.11 L184.55,376.31 L184.80,376.49 L185.05,376.64 L185.30,376.77 L185.55,376.88 L185.81,376.96 L186.06,377.03 L186.31,377.07 L186.56,377.10 L186.81,377.10 L187.06,377.09 L187.31,377.06 L187.56,377.01 L187.81,376.94 L188.06,376.85 L188.32,376.75 L188.57,376.63 L188.82,376.50 L189.07,376.34 L189.32,376.18 L189.57,376.00 L189.82,375.80 L190.07,375.60 L190.32,375.37 L190.57,375.14 L190.83,374.89 L191.08,374.63 L191.33,374.36 L191.58,374.08 L191.83,373.79 L192.08,373.49 L192.33,373.18 L192.58,372.86 L192.83,372.53 L193.09,372.19 L193.34,371.84 L193.59,371.49 L193.84,371.13 L194.09,370.76 L194.34,370.38 L194.59,370.00 L194.84,369.62 L195.09,369.23 L195.34,368.83 L195.60,368.43 L195.85,368.03 L196.10,367.62 L196.35,367.21 L196.60,366.80 L196.85,366.38 L197.10,365.95 L197.35,365.50 L197.60,365.06 L197.86,364.60 L198.11,364.14 L198.36,363.67 L198.61,363.19 L198.86,362.72 L199.11,362.24 L199.36,361.76 L199.61,361.28 L199.86,360.80 L200.11,360.32 L200.37,359.84 L200.62,359.37 L200.87,358.90 L201.12,358.44 L201.37,357.98 L201.62,357.54 L201.87,357.09 L202.12,356.66 L202.37,356.24 L202.62,355.83 L202.88,355.43 L203.13,355.05 L203.38,354.67 L203.63,354.31 L203.88,353.96 L204.13,353.62 L204.38,353.28 L204.63,352.95 L204.88,352.63 L205.14,352.31 L205.39,352.00 L205.64,351.69 L205.89,351.39 L206.14,351.10 L206.39,350.81 L206.64,350.53 L206.89,350.25 L207.14,349.98 L207.39,349.72 L207.65,349.46 L207.90,349.20 L208.15,348.95 L208.40,348.71 L208.65,348.47 L208.90,348.23 L209.15,348.00 L209.40,347.78 L209.65,347.55 L209.91,347.33 L210.16,347.12 L210.41,346.91 L210.66,346.71 L210.91,346.52 L211.16,346.34 L211.41,346.16 L211.66,346.00 L211.91,345.84 L212.16,345.70 L212.42,345.55 L212.67,345.42 L212.92,345.29 L213.17,345.17 L213.42,345.05 L213.67,344.94 L213.92,344.83 L214.17,344.72 L214.42,344.62 L214.67,344.52 L214.93,344.43 L215.18,344.33 L215.43,344.24 L215.68,344.14 L215.93,344.05 L216.18,343.95 L216.43,343.86 L216.68,343.76 L216.93,343.67 L217.19,343.57 L217.44,343.47 L217.69,343.37 L217.94,343.28 L218.19,343.19 L218.44,343.10 L218.69,343.02 L218.94,342.94 L219.19,342.86 L219.44,342.78 L219.70,342.71 L219.95,342.63 L220.20,342.56 L220.45,342.49 L220.70,342.42 L220.95,342.36 L221.20,342.29 L221.45,342.22 L221.70,342.16 L221.95,342.09 L222.21,342.03 L222.46,341.97 L222.71,341.90 L222.96,341.84 L223.21,341.78 L223.46,341.71 L223.71,341.65 L223.96,341.58 L224.21,341.52 L224.47,341.46 L224.72,341.40 L224.97,341.34 L225.22,341.28 L225.47,341.23 L225.72,341.17 L225.97,341.12 L226.22,341.07 L226.47,341.02 L226.72,340.98 L226.98,340.93 L227.23,340.89 L227.48,340.84 L227.73,340.80 L227.98,340.76 L228.23,340.72 L228.48,340.68 L228.73,340.65 L228.98,340.61 L229.24,340.58 L229.49,340.54 L229.74,340.51 L229.99,340.48 L230.24,340.45 L230.49,340.42 L230.74,340.39 L230.99,340.36 L231.24,340.33 L231.49,340.30 L231.75,340.28 L232.00,340.25 L232.25,340.23 L232.50,340.20 L232.75,340.18 L233.00,340.15 L233.25,340.13 L233.50,340.11 L233.75,340.09 L234.00,340.07 L234.26,340.04 L234.51,340.02 L234.76,340.00 L235.01,339.98 L235.26,339.96 L235.51,339.94 L235.76,339.93 L236.01,339.91 L236.26,339.89 L236.52,339.87 L236.77,339.85 L237.02,339.83 L237.27,339.82 L237.52,339.80 L237.77,339.78 L238.02,339.76 L238.27,339.75 L238.52,339.73 L238.77,339.71 L239.03,339.69 L239.28,339.68 L239.53,339.66 L239.78,339.64 L240.03,339.62 L240.28,339.61 L240.53,339.59 L240.78,339.57 L241.03,339.56 L241.29,339.54 L241.54,339.52 L241.79,339.51 L242.04,339.49 L242.29,339.47 L242.54,339.46 L242.79,339.44 L243.04,339.42 L243.29,339.40 L243.54,339.39 L243.80,339.37 L244.05,339.35 L244.30,339.34 L244.55,339.32 L244.80,339.30 L245.05,339.29 L245.30,339.27 L245.55,339.25 L245.80,339.24 L246.05,339.22 L246.31,339.20 L246.56,339.19 L246.81,339.17 L247.06,339.16 L247.31,339.14 L247.56,339.12 L247.81,339.11 L248.06,339.09 L248.31,339.08 L248.57,339.06 L248.82,339.04 L249.07,339.03 L249.32,339.01 L249.57,339.00 L249.82,338.98 L250.07,338.97 L250.32,338.95 L250.57,338.94 L250.82,338.92 L251.08,338.91 L251.33,338.89 L251.58,338.88 L251.83,338.86 L252.08,338.85 L252.33,338.83 L252.58,338.82 L252.83,338.80 L253.08,338.79 L253.33,338.77 L253.59,338.76 L253.84,338.74 L254.09,338.73 L254.34,338.71 L254.59,338.70 L254.84,338.68 L255.09,338.67 L255.34,338.65 L255.59,338.64 L255.85,338.62 L256.10,338.61 L256.35,338.59 L256.60,338.57 L256.85,338.56" fill="none" stroke="#da8cf2" stroke-width="1.25" stroke-linejoin="round"/>
<path d="M200.8,227.7H223.3" stroke="#6a6a6a" stroke-width="1.3"/>
<text x="226.00" y="231.50" font-size="10" text-anchor="start" letter-spacing="-0.05">0.5 %</text>
<path d="M200.8,239.8H223.3" stroke="#ff6868" stroke-width="1.3"/>
<text x="226.00" y="243.60" font-size="10" text-anchor="start" letter-spacing="-0.05">1.0 %</text>
<path d="M200.8,252.2H223.3" stroke="#3a92ee" stroke-width="1.3"/>
<text x="226.00" y="256.00" font-size="10" text-anchor="start" letter-spacing="-0.05">1.5 %</text>
<path d="M200.8,264.4H223.3" stroke="#30c286" stroke-width="1.3"/>
<text x="226.00" y="268.20" font-size="10" text-anchor="start" letter-spacing="-0.05">2.0 %</text>
<path d="M200.8,276.5H223.3" stroke="#da8cf2" stroke-width="1.3"/>
<text x="226.00" y="280.30" font-size="10" text-anchor="start" letter-spacing="-0.05">3.0 %</text>
<text x="61.80" y="232.60" font-size="10" text-anchor="start" >(c)</text>
<rect x="314.0" y="220.3" width="229.60" height="168.80" fill="none" stroke="#404040" stroke-width="1.5"/>
<path d="M321.90,389.1v-3.2M321.90,220.3v3.2M362.94,389.1v-3.2M362.94,220.3v3.2M403.98,389.1v-3.2M403.98,220.3v3.2M445.02,389.1v-3.2M445.02,220.3v3.2M486.06,389.1v-3.2M486.06,220.3v3.2M527.10,389.1v-3.2M527.10,220.3v3.2M342.42,389.1v-1.8M342.42,220.3v1.8M383.46,389.1v-1.8M383.46,220.3v1.8M424.50,389.1v-1.8M424.50,220.3v1.8M465.54,389.1v-1.8M465.54,220.3v1.8M506.58,389.1v-1.8M506.58,220.3v1.8M314.0,365.02h3.2M543.6,365.02h-3.2M314.0,316.78h3.2M543.6,316.78h-3.2M314.0,268.54h3.2M543.6,268.54h-3.2M314.0,340.90h1.8M543.6,340.90h-1.8M314.0,292.66h1.8M543.6,292.66h-1.8M314.0,244.42h1.8M543.6,244.42h-1.8" stroke="#404040" stroke-width="1.3" fill="none"/>
<text x="321.90" y="400.80" font-size="10" text-anchor="middle" >0.5</text>
<text x="362.94" y="400.80" font-size="10" text-anchor="middle" >1.0</text>
<text x="403.98" y="400.80" font-size="10" text-anchor="middle" >1.5</text>
<text x="445.02" y="400.80" font-size="10" text-anchor="middle" >2.0</text>
<text x="486.06" y="400.80" font-size="10" text-anchor="middle" >2.5</text>
<text x="527.10" y="400.80" font-size="10" text-anchor="middle" >3.0</text>
<text x="310.50" y="368.92" font-size="10" text-anchor="end" >0.2</text>
<text x="310.50" y="320.68" font-size="10" text-anchor="end" >0.4</text>
<text x="310.50" y="272.44" font-size="10" text-anchor="end" >0.6</text>
<text x="310.50" y="224.20" font-size="10" text-anchor="end" >0.8</text>
<text x="384.90" y="413.20" font-size="10" text-anchor="start" textLength="96.6" lengthAdjust="spacingAndGlyphs">H<tspan font-size="7.5" dy="2.4">2</tspan><tspan dy="-2.4">O concentration / %</tspan></text>
<path d="M322,378.3L527.5,237.8" stroke="#ff6262" stroke-width="1.05" fill="none"/>
<polygon points="321.90,378.00 322.61,379.72 324.47,379.87 323.06,381.08 323.49,382.88 321.90,381.91 320.31,382.88 320.74,381.08 319.33,379.87 321.19,379.72" fill="#0000ff" stroke="none"/>
<polygon points="362.90,346.60 363.61,348.32 365.47,348.47 364.06,349.68 364.49,351.48 362.90,350.51 361.31,351.48 361.74,349.68 360.33,348.47 362.19,348.32" fill="#0000ff" stroke="none"/>
<polygon points="404.00,317.70 404.71,319.42 406.57,319.57 405.16,320.78 405.59,322.58 404.00,321.61 402.41,322.58 402.84,320.78 401.43,319.57 403.29,319.42" fill="#0000ff" stroke="none"/>
<polygon points="444.70,289.80 445.41,291.52 447.27,291.67 445.86,292.88 446.29,294.68 444.70,293.71 443.11,294.68 443.54,292.88 442.13,291.67 443.99,291.52" fill="#0000ff" stroke="none"/>
<polygon points="527.10,236.60 527.81,238.32 529.67,238.47 528.26,239.68 528.69,241.48 527.10,240.52 525.51,241.48 525.94,239.68 524.53,238.47 526.39,238.32" fill="#0000ff" stroke="none"/>
<polygon points="362.80,233.60 363.51,235.32 365.37,235.47 363.96,236.68 364.39,238.48 362.80,237.52 361.21,238.48 361.64,236.68 360.23,235.47 362.09,235.32" fill="#0000ff" stroke="none"/>
<path d="M351.9,247.7H374.1" stroke="#ff6262" stroke-width="1.2"/>
<text x="376.50" y="239.20" font-size="10" text-anchor="start" >Measurement</text>
<text x="376.50" y="251.40" font-size="10" text-anchor="start" >Straight-line fit</text>
<text x="328.90" y="239.20" font-size="10" text-anchor="start" >(d)</text>
<text x="462.90" y="335.90" font-size="10" text-anchor="start" textLength="60.8" lengthAdjust="spacingAndGlyphs">Slope = 0.233</text>
<text x="458.40" y="350.40" font-size="10" text-anchor="start" textLength="66.2" lengthAdjust="spacingAndGlyphs">Adj. R<tspan font-size="7" dy="-3.8">2</tspan><tspan dy="3.8"> = 0.999</tspan></text>
<text transform="translate(16.4,166.6) rotate(-90)" font-size="10.3" textLength="141.6" lengthAdjust="spacingAndGlyphs">CO<tspan font-size="7.5" dy="2.4">2</tspan><tspan dy="-2.4"> second derivative /arb. units</tspan></text>
<text transform="translate(289.2,181.4) rotate(-90)" font-size="10.3" textLength="174.5" lengthAdjust="spacingAndGlyphs">Second derivative spectral peak / arb. units</text>
<text transform="translate(18.6,369.1) rotate(-90)" font-size="10.3" textLength="147.7" lengthAdjust="spacingAndGlyphs">H<tspan font-size="7.5" dy="2.4">2</tspan><tspan dy="-2.4">O second derivative / arb. units</tspan></text>
<text transform="translate(293.3,371.6) rotate(-90)" font-size="10.3" textLength="149.0" lengthAdjust="spacingAndGlyphs">Second derivative peak / arb. units</text>
</g></svg></body></html>
